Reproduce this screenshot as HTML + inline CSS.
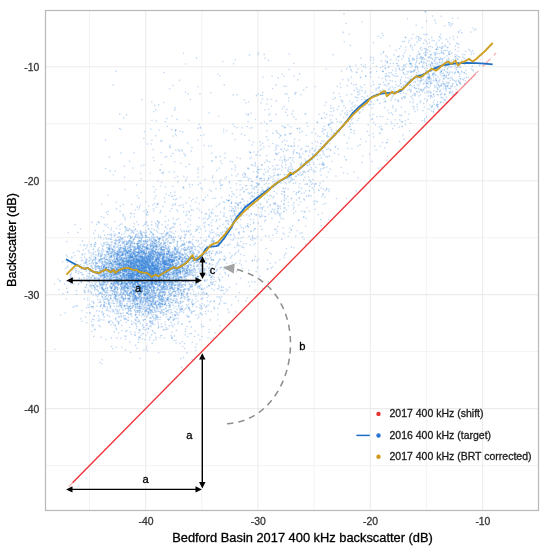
<!DOCTYPE html>
<html><head><meta charset="utf-8"><style>
html,body{margin:0;padding:0;background:#fff;}
svg{display:block;}
text{font-family:"Liberation Sans",Arial,sans-serif;stroke-width:.3px;}
</style></head><body>
<svg width="544" height="550" viewBox="0 0 544 550">
<rect width="544" height="550" fill="#fff"/>

<line x1="89.5" y1="10.5" x2="89.5" y2="510.5" stroke="#f3f3f3" stroke-width="1"/>
<line x1="45.5" y1="465.6" x2="538.5" y2="465.6" stroke="#f3f3f3" stroke-width="1"/>
<line x1="201.8" y1="10.5" x2="201.8" y2="510.5" stroke="#f3f3f3" stroke-width="1"/>
<line x1="45.5" y1="351.6" x2="538.5" y2="351.6" stroke="#f3f3f3" stroke-width="1"/>
<line x1="314.1" y1="10.5" x2="314.1" y2="510.5" stroke="#f3f3f3" stroke-width="1"/>
<line x1="45.5" y1="237.7" x2="538.5" y2="237.7" stroke="#f3f3f3" stroke-width="1"/>
<line x1="426.4" y1="10.5" x2="426.4" y2="510.5" stroke="#f3f3f3" stroke-width="1"/>
<line x1="45.5" y1="123.7" x2="538.5" y2="123.7" stroke="#f3f3f3" stroke-width="1"/>
<line x1="145.7" y1="10.5" x2="145.7" y2="510.5" stroke="#ececec" stroke-width="1.1"/>
<line x1="45.5" y1="408.6" x2="538.5" y2="408.6" stroke="#ececec" stroke-width="1.1"/>
<line x1="258.0" y1="10.5" x2="258.0" y2="510.5" stroke="#ececec" stroke-width="1.1"/>
<line x1="45.5" y1="294.6" x2="538.5" y2="294.6" stroke="#ececec" stroke-width="1.1"/>
<line x1="370.3" y1="10.5" x2="370.3" y2="510.5" stroke="#ececec" stroke-width="1.1"/>
<line x1="45.5" y1="180.7" x2="538.5" y2="180.7" stroke="#ececec" stroke-width="1.1"/>
<line x1="482.6" y1="10.5" x2="482.6" y2="510.5" stroke="#ececec" stroke-width="1.1"/>
<line x1="45.5" y1="66.7" x2="538.5" y2="66.7" stroke="#ececec" stroke-width="1.1"/>
<filter id="bl" x="0" y="0" width="1" height="1"><feGaussianBlur stdDeviation="0.35"/></filter><g fill="none" stroke="#2f7fd8" stroke-opacity="0.3" stroke-width="1.6" stroke-linecap="round" filter="url(#bl)"><path d="M425.2 11.6h0m-81.2 2.3h0m1.9 9.6h0m16.2-1.5h0m45.5-3.3h0m18.8 2.4h0m6-5h0m2.3 4.3h0m1.1 2.7h0m5.3-6.8h0m7.6 6.3h0m3.9-4.4h0m5.1 .1h0m18.2 10.8h0m-1.6 1.2h0m-1.2-2.3h0m-12.7 2.2h0m-8.3-5.7h0m-1.4 1.7h0m-1.4-1.3h0m-4.5 .8h0m-22.7 1.9h0m-5.9-2.3h0m-73 7.1h0m6.1 1.6h0m28.9 2.3h0m2.7 1.4h0m1.3-4.2h0m.9 2.1h0m22.2 1.8h0m6.3 1.2h0m1.5-4.3h0m3 3.7h0m1-1.8h0m1.3 3.7h0m2.4-1.7h0m3.1-3.7h0m1.9 0h0m2.9 4.7h0m3-1.8h0m8.3-.4h0m.8-2.7h0m.2 4.5h0m5.5 .6h0m3.5-1.6h0m3-1.5h0m.7 2.5h0m3.7-1.8h0m1.5-4.7h0m3 .6h0m9-.8h0m-12.7 15.5h0m-.7-3.8h0m-2.1 2.3h0m-5.5-2.2h0m-2-2.5h0m-.9 5.8h0m-1.8-1.9h0m-2 1.8h0m-1-3.8h0m-2.6 4.2h0m-.5-7.1h0m-1.5 7.1h0m-.6-4.7h0m-1 2h0m-1.9-4.1h0m-1.7 6.5h0m-.1-6.9h0m-2.7 2.5h0m-.9 3.9h0m-1.5-3.2h0m-1.2-2.2h0m-1.2-1.3h0m-1.3 3.4h0m-2.4 4h0m-4-5.1h0m-2.3 2.8h0m-2.5 2.8h0m-1.9-1.5h0m-1.1-6.2h0m-.7 2.1h0m-2.9 4.9h0m-3.1-5.7h0m-1.6 4.9h0m-11.3-.4h0m-16.3-3.4h0m-23.2 2.8h0m-5.9-3.6h0m-160.8 11.4h0m66 1.7h0m8.6-.4h0m6.1-.1h0m24.9-.3h0m44 .5h0m47.9-.3h0m2.4-1.7h0m2.3 3.2h0m8.4-.9h0m2.1-4.7h0m3.2-1.7h0m3.8 6.9h0m1.3-2.6h0m1.4-2.7h0m4.2 5.8h0m2.7-5.9h0m4.4 5h0m1.3-3.1h0m1.6 1.8h0m1.9-3.7h0m1.9 3.2h0m.5-4.7h0m.7 7h0m.7-3.4h0m.6-2.7h0m3.6 2h0m1.7 2.8h0m3-.2h0m1.3-1.8h0m.5-2.7h0m1.2 4h0m2 .2h0m1.6-2.8h0m.5 1.8h0m.3-4h0m1.2 5.4h0m2.1-3.6h0m1.6 5.4h0m2.1-1.8h0m.9-2.8h0m1.8 1.6h0m3.5-3.3h0m1.7 6.1h0m1.1-4.4h0m4.6 3.3h0m2.1 .2h0m.9-3.6h0m4.4-.4h0m1.1 3.7h0m.4-2.2h0m1.1-1.5h0m1.1 3h0m5.6 1.6h0m1.6 4.3h0m-7.3 2.8h0m-4-4.1h0m-.5 5.4h0m-2.1-2h0m-1.4-1.5h0m-2.7-2.9h0m-.5 6h0m-1-2.8h0m-1.9-3.3h0m-1.8 1.9h0m-.8 3.5h0m-1.1-4.1h0m-1.1-2.2h0m-.8 4.8h0m-.1 2.3h0m-.6-4h0m-1.7 3.4h0m-.3-2.3h0m-2.4 2.7h0m-.2-3.2h0m-1.9 .5h0m-1.6 1.5h0m-.7-4.3h0m-2.2 2.2h0m-.3 3.2h0m-1.1-4.9h0m-1.3 3.8h0m-.5-2.6h0m-1.1-1.8h0m-.3 5.7h0m-2.1-5.7h0m-.3 5.9h0m-.9-2.2h0m-1.8-2.3h0m-1 4h0m-.9-4.8h0m-1.3 3h0m-1.3-4h0m-.6 3.6h0m-1.4 3h0m-1-4.6h0m-1.7 3.9h0m-1.3-4.8h0m-.5 4h0m-.3-2.4h0m-.3-3.7h0m-1.1 1.8h0m-.1 4.5h0m-2.2-4.4h0m-.8 2.7h0m-2.3-1.3h0m-2-1.1h0m0 1.8h0m-2.8 3.5h0m-.1-2.8h0m-1.1-2.7h0m-6.6 1h0m-3.2 1.5h0m-.4-4.2h0m-1.2 7.2h0m-.8-4.3h0m-3 4h0m-2.5-3.7h0m-.6 3.8h0m-3.1-.7h0m0-6h0m-1.6 4.2h0m-4-.2h0m-7.8-1.1h0m-.5-2.3h0m-.1 5.7h0m-2.3-5.8h0m-.2 2.6h0m-9.7-1.9h0m-67.1 5.2h0m-25.4-2.9h0m-3.2-2.1h0m-30.1 1.5h0m-1.5 4h0m-10.8-2.6h0m-26.2-3.3h0m-80.6 13.5h0m69.6-7.4h0m103.6 5.6h0m37.1-.6h0m15.3 2h0m5.1-2.1h0m3.1-2.9h0m1.4 4.3h0m4.7-5.2h0m2.2 4h0m3.3-4.6h0m.8 6.6h0m1.3-4.7h0m1.8-1.4h0m.1 2.7h0m5 .9h0m.6 3.3h0m5.5-5.6h0m.2 5.2h0m3.8-3.8h0m2.4-1.2h0m.4 5.1h0m1.8-3.7h0m.2-2.7h0m2.9 2.4h0m4.3 2.6h0m3.4-1.1h0m.1 2.2h0m1.7-5.8h0m1.6 2.8h0m.9 2h0m2.2 .3h0m.8-4h0m.3 2.4h0m.3-4.1h0m1.5 2.1h0m1.2-3h0m.8 7.8h0m2.9-.7h0m.9-3.9h0m.1-2.4h0m1 6.6h0m2.1-1.1h0m.9-2.9h0m.1-3.3h0m1.5 2.2h0m.7 3.5h0m.3-1.8h0m.8 3.6h0m4-4.5h0m.2-1.8h0m2 3h0m1.2 2.8h0m.7-5.3h0m.4 2.4h0m.8 3.3h0m.9-7.3h0m1.4 1.6h0m.6 1.7h0m.2 3.5h0m1.9-5.8h0m0 3.7h0m2.8-2.5h0m.1 2.9h0m2.1-1.7h0m.8-2.5h0m1.2 4h0m.2-2.2h0m1.2 3.8h0m2.6-5.1h0m.7 4.4h0m1.3-4h0m1.1-1.6h0m.3 4.1h0m1.7-1.4h0m.9 4.7h0m1.5-4.8h0m1.2-2.2h0m2.3 1.4h0m.3 5.7h0m1.3-2h0m.2-2.5h0m3.1-1.7h0m.8 1.8h0m1.1 3.8h0m2.9-6.6h0m1.5 5.9h0m5.5-1.7h0m.7-2.8h0m1 4.7h0m6.2-5.2h0m-3.9 6.8h0m-7.2 5h0m-2.1 0h0m-.2-3.5h0m-1.8-1.4h0m-.9 7.2h0m-3-1.2h0m-.4-4.3h0m-.6 2.2h0m-1.3-4.3h0m-3.8 1.4h0m-1.9-1.1h0m-.5 4.8h0m-3.3-2.6h0m-.8 3.9h0m-.7-6.4h0m-.6 3.3h0m-.4 2h0m-1.4-2.2h0m-1.2 3h0m-1.5-4.8h0m-.4 2.3h0m-1.4-1.4h0m0-1.8h0m-.3 6.5h0m-1.8-2.1h0m-2-1.4h0m-.3 2.7h0m-1.5-5.9h0m-.8 4.8h0m-.2-3.1h0m-3.8 1.3h0m0 4.6h0m-.6-2.6h0m-1.1-3.2h0m-1.4 4.9h0m-3-4.1h0m-.2 2.1h0m-1.9-1h0m0 2.5h0m-2.5-3.6h0m-1.3 4h0m-.8-6h0m-.5 2h0m-1.3 2.1h0m-3.6-.6h0m-1.2 2.7h0m-2-1.1h0m-1.2-3.8h0m-1.1 3.3h0m-.8-3.3h0m-1.7-1.7h0m-1.8 4.6h0m-.9 2.4h0m-3.1-3.3h0m-1.8-2.5h0m-1.7 2.2h0m-1.4-1.3h0m-1.5-1.7h0m-1.7 4.1h0m-.3-4.3h0m-2.1 3.1h0m-.8-1.9h0m-.6 5.1h0m-.3-2.7h0m-3 2h0m-3.5-.8h0m-8-.8h0m-5.1-.8h0m-5.1 1.8h0m-4.1-5.7h0m-5.2 5h0m-8.5 2.6h0m-43.1-5.7h0m-1.9 6h0m-3.7-3.8h0m-10.2 .2h0m-2-2.1h0m-3.7 3.7h0m-6.1-1.8h0m-9.1 1.1h0m-43-1.2h0m-2.2-1.8h0m-54.1-1.7h0m-50.4 12.4h0m59.6 .7h0m6.6-5.4h0m18.7 6.5h0m26.1-1.8h0m51.7 0h0m8.3 1.5h0m2-.1h0m20.4 1.1h0m8.2-.9h0m22.5 0h0m2.9-2.8h0m.4 3.9h0m6.5-2h0m1.1-4.9h0m3.2 2.7h0m2.2 1.5h0m2.5-.3h0m4.3 1.9h0m1.5 1.2h0m2.8-2.9h0m6.6 1h0m1.6-4.2h0m.8 2.8h0m5.2 3.5h0m1.4-3.6h0m3.2-2.1h0m.6 2.6h0m2-4.1h0m1 5.3h0m.8-2.1h0m2.2-3.4h0m0 6.6h0m2.1-6.2h0m.2 6.1h0m2.7 .6h0m.4-6.1h0m.5 3.3h0m1.8 1.4h0m2.6-3h0m.6 4h0m2.4-2.1h0m1.4 2.2h0m1-5.1h0m1 3.1h0m1.3-2.1h0m2.5-.9h0m.1 2.4h0m1.4 1.5h0m1.7-4.2h0m.3 3.5h0m3.1-.9h0m.6-3.8h0m.6 5.1h0m1.4-1.9h0m.6-1.9h0m1.2-1.7h0m1.8 3.7h0m3 2.6h0m.4-5.4h0m.3 2.2h0m1.9 4.3h0m1-1.8h0m.1-4.1h0m.6 1.7h0m.9-3.5h0m1.8 .1h0m1 5h0m1.3 1.5h0m.9-5.9h0m.5 1.9h0m1.3 2.4h0m.8 2h0m.4-6.2h0m1.6 5.1h0m1.5-4.4h0m.4 1.8h0m.2 3.3h0m1.7-2.6h0m1.8-2.1h0m.1 4.4h0m1.7-4h0m1.6-2.2h0m.6 6.6h0m1.6-2.2h0m.8-4.5h0m1.6 6.7h0m1.5-6.5h0m.8 5.3h0m1.5-5.2h0m1 2.1h0m1 1.6h0m4.1-.5h0m.5-2.9h0m-9.1 8.9h0m-.1 2.8h0m-2.6 1.8h0m-1-3h0m-.7 1.7h0m-1.3-1.2h0m-.7-3.2h0m-.5 4.5h0m-2.9-4.1h0m-.3 2.3h0m-1.1 3.4h0m-1.5-5.6h0m-2.2 5.5h0m-1.7-2.7h0m-1.7-3.2h0m-.5 5.9h0m-.4-3.3h0m-3.2-.5h0m-.3 3.8h0m-2.4-1.6h0m-.5 3h0m-.6-4.6h0m-1.5 4.6h0m-.3-3.1h0m-3.3-.1h0m-1.5-3.4h0m-.9 2.3h0m-1.2-2h0m-.7 5.2h0m-1.2-2.7h0m-.8-3.2h0m-1.3 3h0m-1.7-3.4h0m-.7 7.2h0m-.8-2.5h0m-1.3 2.1h0m-1.7-3.6h0m-.1-2h0m-3.2 .3h0m-1.9 3.9h0m-2.7-.9h0m0-4.7h0m-2.5 1.7h0m-.2 3.5h0m-3.8-2h0m-1.8 2.1h0m-.3-2.6h0m-1-1.8h0m-.4 5.8h0m-2.1-4.4h0m-2.6-1h0m-5.2 3.2h0m-.7-3.2h0m-2.3 1.4h0m-3.7 2.9h0m-.4-5.7h0m-.2 1.9h0m-1.4 5.7h0m-2.5-3.2h0m-6.4-1.6h0m-.6 1.9h0m-3.1-2.1h0m-2.1-.8h0m-.2 4.2h0m-1.9-2.3h0m-.4-2.4h0m-1.1-1.5h0m-1.9 2.4h0m-2.8 4.1h0m-4.8 .5h0m-7.5-1.5h0m-5.7-.6h0m-29.8-3h0m-2.8 4.8h0m-5-2.1h0m-1 1.6h0m-8-.3h0m-1.8-.1h0m-12.7-5.3h0m-9.7 4h0m-.4 2.7h0m-1.9 .1h0m-2.5-1h0m-1.6 1.3h0m-19.4-.8h0m-3.7 .1h0m-22.5-2.2h0m-10.8 1.2h0m-11.7 .2h0m-2.9-1.9h0m-15.8-3.5h0m-27.8 10.9h0m10 2.4h0m11.9 .5h0m26.7-3h0m53.9 .3h0m1.6 3h0m2.7-.8h0m12.4 1h0m1.4-4h0m5 .4h0m3.6-.1h0m5.4 1.6h0m12.4 .1h0m0-3h0m37 4.4h0m7.6-3.1h0m1.9-1.4h0m5-1.2h0m2.4 4.4h0m7.1 .4h0m2.1 2.4h0m1-1.7h0m3.6-4.6h0m.6 3h0m1.2-2.7h0m3.5 1.7h0m.5-3.1h0m1.6 5.7h0m.3-4.4h0m.8 2h0m2.2 3.2h0m.3-6.9h0m2.9 1.8h0m.5 3.4h0m1-4.5h0m5.2 3.3h0m2.8 3.3h0m4.3-4.6h0m1.5 3h0m5.1-1.3h0m.9-1.9h0m3.7 .8h0m2 .6h0m1 1.6h0m3.7-2.8h0m2.8-1.7h0m5.1 4.6h0m1-5.5h0m1.1 1.4h0m1.1 4.8h0m0-2.9h0m5.6-3.5h0m1.6 4.9h0m3.3 2.7h0m.8-4.9h0m2.4 2.4h0m3.3-3.1h0m2.1-.8h0m.9 5.4h0m1.1-6.5h0m.1 4.1h0m3.1 1.7h0m3.4 0h0m.2-4.7h0m1.9 .9h0m.7 4.5h0m1.1-2.3h0m2.1-3h0m0 4.6h0m-8.1 7.5h0m-1.2-4.7h0m0 2h0m-3.2-2.4h0m-.3 4.4h0m-1.8-3h0m-.6 1.8h0m-.2 3.4h0m-1.8-5.7h0m-1.8 3.6h0m-3.6-1.8h0m-1.4 3.7h0m-5.1-1h0m-.5-2.8h0m-.2-2.5h0m-2.1 7.2h0m-1-2.5h0m-1.1-2.9h0m-7.7 5.7h0m-3.9-4.6h0m-5.3 2.1h0m-.5 1.7h0m-2.5-5.2h0m-.4 1.8h0m-4.8 2.5h0m-3.3-2.6h0m-10.9-3.3h0m-1.5 3.6h0m-1.2-3.2h0m-2.4 .3h0m-3.1 .2h0m-1.7 2h0m-.6 2.3h0m-4.6 1.4h0m-.8-4.9h0m-1.9 3.6h0m-.7-4.2h0m-.1 6.3h0m-.3-4.5h0m-1.7-.7h0m-1 3.5h0m-1-1.9h0m-1 3.3h0m-2.8-.7h0m-1.6-2.7h0m-1.7-2.1h0m-1.7 4.9h0m-3.2-4.3h0m-1.6 2.9h0m-3.5 1.5h0m-.4-2.7h0m-2.5 3.4h0m-.1-3.4h0m-.3-2.1h0m-5.7-.6h0m-31.7 5.5h0m-6.3-1.4h0m-2.7-3h0m-1.6 1.9h0m-11-2.3h0m-3 3h0m-1.8-5.2h0m-1.8 6h0m-89.9-2.1h0m-.5 2h0m-16-5h0m-2.9 5h0m-.9-4.5h0m-1 6.3h0m-34 2.2h0m3.9 4.2h0m2.8-3.2h0m40.3 3.7h0m5.5-2.6h0m4.8 3.4h0m32-6.7h0m9.7 3.6h0m27.4-2.3h0m1.7 1.3h0m3.2-2.1h0m4.5 6.3h0m14.3-5.8h0m6.2 .9h0m9.7-2.3h0m1.7 3.2h0m4.5-1.6h0m1.9 2.8h0m2.1 2.6h0m9.2-5.5h0m13.9 .4h0m2.5 4.2h0m2.7-5.3h0m.8 5h0m1.6-3.7h0m3.2 1.1h0m1 4.3h0m1.6-4.6h0m3.8 3.9h0m4.3-4.5h0m3.2 2.9h0m1-4.1h0m1.9 1.4h0m.5-2.2h0m3.8 3.1h0m.5 4h0m1.1-1.4h0m1.8-4.3h0m4.5 4.2h0m1.1-6h0m9.8 3h0m2.9 3.6h0m.2-4.4h0m3.9 2.3h0m3.5-.1h0m2.5 .1h0m4.9 2.6h0m1.3-6.2h0m2.5-.2h0m1.2 1.8h0m2.5 5.1h0m4.6 .1h0m.2-4.5h0m8.2 3.9h0m.7-5.2h0m15.9 4.4h0m1.7-1.6h0m6.8-4.9h0m-8.5 9.6h0m-2.7-.9h0m-11.7 2.5h0m-4.8 1.4h0m0-3.8h0m-3.7 6h0m-.3-5.2h0m-2.5 5.5h0m-1.9-3.4h0m-2.8 1.7h0m-2.5-1.8h0m-.7-1.8h0m-4.8 2.2h0m-5.1 2.2h0m-1.8 .9h0m-4.1-2.4h0m-1.8-2.3h0m-5.4 2.7h0m-10.6-4.9h0m-5 3h0m-2.5 .7h0m-1.1 3.1h0m-.6-5.4h0m-5.4 4.8h0m-1.5-4.5h0m-4.1-.2h0m-4.5 .8h0m-1.9-.8h0m-.6 6h0m-.4-3.8h0m-1.7 1.1h0m-3.9 1.2h0m-7.1-3.9h0m-9.7 4h0m-.9-3.3h0m-16 3.7h0m-2.7-2h0m-3 3.2h0m-1.3-1.2h0m-1.6-.9h0m-12.4-5.1h0m-2.9 3.2h0m-2.3-1.8h0m-3.3 1.2h0m-9.2 4.5h0m-3.9-6h0m-.8 4.7h0m-5.3 1.2h0m-5.1-.1h0m-2.5-1h0m-1.4-2.3h0m-32.8 3h0m-.9-3h0m-10.5-4h0m-21.6 6.2h0m-1.9-4.8h0m-9.2-.6h0m-4.1-.9h0m-32.5 8.4h0m24.9 3h0m6.4-2.6h0m5 6.8h0m3.4-5.8h0m12.5-.6h0m3.7 1.1h0m.1 3.6h0m.8 1.6h0m3.6-4.5h0m2.7 .7h0m15.5-3.5h0m2.7 7.1h0m2.9-.5h0m20-5.8h0m.1 2.8h0m3-1.2h0m5.5 2.9h0m9.2 .3h0m3.2 1.2h0m5.3-7.2h0m17 2.7h0m5.9 2.7h0m3.1-2.9h0m1 1.6h0m3.7 3.2h0m4.7-.3h0m4.3-1.3h0m2-.4h0m5.7-4.8h0m2.3-.5h0m.2 4.6h0m2.2-1h0m4.2 3.6h0m5.7-2.6h0m2-3.6h0m1.7 4.6h0m6.2-1.9h0m.7-3.1h0m1.3 5.5h0m.3-4.5h0m3.2 3.4h0m3.8 1.7h0m.2-5.2h0m.5 2h0m1.9 1.5h0m2.6-2.6h0m2.6-1h0m.4 2.5h0m4.8 3h0m6.8-2.4h0m.1-2.7h0m3.1 3.8h0m0-2.8h0m13.3 .6h0m1.6 3.8h0m4.2-1.7h0m5.9-.3h0m1.7-4.5h0m11.7-.1h0m10.6 6.3h0m6.3-4.1h0m-5.5 8.6h0m-4.5 2.1h0m-11.6-1.7h0m-.8 3h0m-4.5-.3h0m-9.2-5.4h0m-7.5 4.4h0m-5-2.4h0m-11.8-1h0m-2 5h0m-17.4 .6h0m-1-7.1h0m-1.5 7.1h0m-.5-7.6h0m-1.4 7.8h0m-1.5-2.8h0m-1.9-.1h0m-1.2 2.4h0m-.7-6.7h0m-2.2 5.6h0m0-6.2h0m-2.2 5.1h0m-3.4 2.1h0m-12.8-3.1h0m-4.9-1.1h0m-.4 3.6h0m-7.3-1.7h0m-2.6-.9h0m-1.7 1.8h0m-3.1-4.4h0m-6.6 6h0m-5-3.4h0m-1.3-3.2h0m-3.9 6.5h0m-2.6-1.5h0m-6.8 .4h0m-3.8-2.1h0m-14.3-.6h0m-37.1 .7h0m-10.4 2.6h0m-14.7-6.8h0m-11.1 5.3h0m-9.9-1.1h0m-8-1.8h0m-38.5 1.6h0m42.1 4h0m3.7-.1h0m1.9 5.5h0m16.4-2.7h0m6.3 3.2h0m2.8-.1h0m3.3-.1h0m9.3 1.3h0m.8-3.6h0m12.2-2.2h0m4.4 1h0m2.6-.2h0m38.5 5.7h0m2.3-6.8h0m5.7 6.8h0m2.4-1.8h0m.5-4.6h0m1.4 3.6h0m1.9-2h0m5-.7h0m6.3 3.8h0m.6-3.2h0m.7-1.9h0m.1 3.8h0m1.6-2.9h0m3.6 3.6h0m1.4 2.1h0m1.3-2.9h0m.8-4h0m1 5.8h0m1.6-.8h0m.1-4h0m2.8 .4h0m2.8 5.1h0m1-6h0m3.6 .8h0m3.6 2.4h0m3.8 3.5h0m.4-5.7h0m2.1 .2h0m1.9 3.9h0m2.4-2.3h0m2.1 3.3h0m1.3-2.3h0m.7-2.7h0m2.4 2.9h0m1.3-2.7h0m2.4 .3h0m2.3 .8h0m2.1 1.8h0m1.6-.8h0m1.9 1.1h0m4.6-2.6h0m2.8 1.8h0m10.1-.4h0m4 .1h0m6-2.5h0m2.1-1.3h0m14.6 1.5h0m1.4 3.8h0m4.2-3.9h0m4.7 1.6h0m2.3 8.4h0m-17.7-1.9h0m-6.9 1.5h0m-18.2 .9h0m-5.9-2.1h0m-4.1-1.4h0m-5.1 2.9h0m-3.3 .5h0m-3-4.5h0m-.1 1.9h0m-1.6 3.9h0m-1.3-2.5h0m-2.5 4.2h0m-.5-4h0m-4.4-.7h0m-.5 5h0m-2.2-.4h0m-.6-7.4h0m-.6 4h0m-3.8 2.9h0m-2.2-5.2h0m-1.7 3.9h0m-1.4-3.1h0m-.4 3.2h0m-2.2-4.9h0m-4 .8h0m-.1 4.2h0m-2.3-.2h0m-2.4 2h0m-3.5-1.8h0m-.1 2h0m-.7-3.9h0m-3.2 1.3h0m-2-4.3h0m-2.7 .7h0m-1.6 5.8h0m-7.9-4h0m-6.4-.1h0m-3.1-.7h0m-3-2.7h0m-2.5 5.2h0m-1.6 1.4h0m-9.8 0h0m-3.3-.9h0m-11.8 0h0m0-4.4h0m-5.2 3.1h0m-4 .9h0m-4.2-4.1h0m-26.5 2.6h0m-1.3-2.3h0m-11.1 0h0m-1.7 2.7h0m-6 1h0m-4-4.4h0m-7.7 4.7h0m-19.4-4.8h0m-13 .4h0m-11.6 3.8h0m15.1 9.2h0m5-4.9h0m11.8 4.5h0m2.6-.8h0m10.4-4.1h0m7.1 4h0m13.5-3h0m5.8 1.4h0m5.3 3.6h0m3.2-2.4h0m14.1 2.4h0m8.7-5.8h0m8.6 .1h0m1.4 2.4h0m8.5-2.2h0m2 .7h0m2.4 3h0m.6 2.1h0m17.2-1.7h0m2.4 .5h0m.1-3.4h0m2.3 4.4h0m4.5-2h0m2.9-2.4h0m1.5-2.4h0m1.2 1.3h0m.6 5.6h0m1.7-5.1h0m3 4.1h0m3.6-.8h0m1.8 .1h0m1.6-5.3h0m2 5.3h0m.3 1.8h0m0-6.8h0m.2 2.2h0m2.9-.8h0m.1 6.2h0m.4-3.1h0m4.1 1.9h0m.8-3.3h0m.5 1.9h0m.7 1.7h0m.6-6.7h0m1.4 2h0m6.4 3h0m1.2-2.4h0m2.6 1.3h0m3-3.1h0m.9 4.4h0m1.5-2.9h0m.1 2h0m1.7 3.1h0m2-4.9h0m.5 1.7h0m2.1 3h0m3.5-3.3h0m2.1 .1h0m1.3-1.2h0m1 2.1h0m.8 2.4h0m2.3-.5h0m5.4-5.9h0m9 6.3h0m4.8-7.5h0m15.9 2.6h0m10.2-1.1h0m9.1 5.8h0m5.6-6.9h0m-8.1 7.9h0m-24.5 3.7h0m-6.8 1.5h0m-3.9-.7h0m-13.4-3.7h0m-1.9 3h0m-5.3-3.5h0m-2 6.5h0m-.3-6h0m-.5 2.1h0m-4.6 .3h0m-2.1-.9h0m-4.2-1h0m-1.8 1.7h0m-2.1 1.2h0m-1.3-1.2h0m-2.2 3.2h0m-1.7-1.6h0m-1.5 2h0m-.2-4.1h0m-2.7 1.7h0m-2.8-1.3h0m-.9-2.2h0m-1.6 4h0m-.4-3.6h0m-1.4 2h0m-.7-1.7h0m-1.1 5.2h0m-2.9-.4h0m-2.3-4.3h0m-1.4 4.2h0m-.8-5.4h0m-1.2 5.2h0m-.7-4.8h0m-2.4 .5h0m-.4 5.4h0m-.8-2.3h0m-.7-3.3h0m-3.5-.9h0m-.5 7h0m-1.4-5.2h0m-2.3 1.4h0m-1.1-2.8h0m-.8 4.6h0m-2.7-4.4h0m-2.3 0h0m-.7 3.9h0m-1.1-1.9h0m-3.5 .3h0m-5.4-3.4h0m-2.7 5.4h0m-2.8 1h0m-4.7-.5h0m-2.6-4.4h0m-3.4-.7h0m0 6.1h0m-12.7-7.1h0m-2.4 2.3h0m-18.6-.7h0m-.2 3.3h0m-23.6-1h0m-5.2 .1h0m-7.3 1h0m-1.7-3h0m-9.9 3.1h0m-9.7 0h0m-7.7-5.2h0m-17.5 3.2h0m-2 3.5h0m-3.2-3.8h0m-4.7-2.3h0m19.3 8.8h0m16.5 1.4h0m17 2.3h0m3.4 1.2h0m13.3-4.6h0m2.7-1.3h0m.5 5.5h0m5.8-5.5h0m2 4.8h0m.2-1.9h0m1.3-2.1h0m10.7-.2h0m2.1 6.4h0m4.9-4.1h0m7.4-1.5h0m.3-1.8h0m.9 6h0m6.2 1.3h0m1.1-3.5h0m4.2-1.2h0m1.3-1.5h0m3 5.6h0m6.9-6.7h0m0 7.8h0m2.6-3h0m2 .1h0m3.8-3.9h0m2.3 .2h0m1.5 1.3h0m2 .3h0m2 3h0m4.5-5.5h0m.1 6.9h0m1.9 .7h0m.8-4.5h0m1.6-.9h0m.5 2.4h0m2.2-2.2h0m2.1 4.5h0m1.1-2.6h0m1.2-2h0m.4 5.1h0m1.7-6.4h0m2 4.4h0m.8-2.6h0m.8 4.8h0m.5-2.7h0m1.9-.2h0m1.5-1.7h0m2 1.3h0m.9 2.8h0m1.8-3.8h0m1.3-1.5h0m.8 4.4h0m1.3 1.2h0m.7-5.5h0m2.1 4.2h0m.9-5.2h0m1.8 1.7h0m1.6 4.6h0m.7-3.9h0m1.4-3.2h0m.1 6.5h0m4.1 .8h0m4-3.7h0m1.4-2.8h0m3.6-.4h0m.6 3.3h0m1.6 1.2h0m1.6 2.3h0m.4-4.1h0m2.9 4.1h0m4.3-.7h0m3.2-1.7h0m3.8-4.2h0m8.9-.9h0m22.1 1.8h0m-1.8 13h0m-27.3 .7h0m-.1-2h0m-2.1-1.1h0m-1.2 1.9h0m-2.2-1.1h0m-2.3-1.2h0m-1.8-2.5h0m-.4 4.5h0m-4.5-3.6h0m-.8 2.8h0m-1.4-1.5h0m-2.5 3.4h0m0-4.8h0m-2.6-2.2h0m-1.3 6.6h0m-.7-6.5h0m-3.6 4.1h0m-2.6-1.4h0m-.4 4.6h0m-4.5 .2h0m-5.9-2.8h0m-2.3-.8h0m-1.8 0h0m-2.1 3.1h0m-7.6 .2h0m-.7-3.7h0m-5.8-.4h0m-2.7 3.6h0m-.8-6.6h0m-1.6 6.8h0m-.8-3.9h0m-3.9 2.8h0m-.9-4.7h0m-2.2 1.7h0m-.6 2.2h0m-2.2-.5h0m-.8-3.4h0m-4.1 3.8h0m-.5-3.6h0m-2.5 5.8h0m-2.1-2.3h0m-1.9 .8h0m-.1-5.1h0m-3.4 5h0m-4.7 2h0m-1.3-4.1h0m-10-2.6h0m-.3 3.5h0m-4.4 .2h0m-4.6 2.5h0m-1.6-1.4h0m-7.5-.8h0m-1.4-1.1h0m-2.5-3.4h0m-6.1 .2h0m-2.4 2.2h0m-.5-2.6h0m-5.7 2.4h0m-10.9-.6h0m-7.2 .6h0m-5.2-1.1h0m-4.7 3.8h0m-2.1-2.7h0m-17.1-1.7h0m-11.4 4.5h0m-17.1 5.7h0m29.3 .4h0m1.4 2.4h0m2.4-5.1h0m13.1-1h0m.4 6.6h0m1.3-2.7h0m8.6 2.3h0m1.8-4.2h0m2.9 1.3h0m1.6-2.6h0m2 3.7h0m.7 2.8h0m1.4-4h0m0-3.1h0m1.7 6.6h0m4-1.5h0m8.8 .5h0m3.6 1.5h0m3.7-1.2h0m6.5 1.9h0m2.2-2.7h0m2.3-2h0m5.4 3.3h0m2.4-.3h0m6.1-.6h0m7.7-2.2h0m2.4 1.1h0m1.3-2.7h0m3.7 3.1h0m3.3-2h0m2.1 4h0m7.2-5h0m1.1 4.7h0m1.2-2.4h0m0-3.8h0m2.6 4.2h0m.4-3.3h0m2 4h0m1-4.7h0m.7 2.3h0m1.9 3.3h0m1.1-4.8h0m.9 2.6h0m2.3 2.6h0m.8-4.9h0m1.9 1.5h0m1.4 4.1h0m1.2-3.5h0m3.2 1.9h0m3.8-4.2h0m5 .6h0m2.3 3.5h0m.3-4.8h0m.2 2.9h0m1.6 2.9h0m1.6-2.2h0m4 1.9h0m4.3-3.9h0m.6-1.8h0m2.5 6h0m2.3-5.4h0m2.3 5.8h0m.3-6h0m2.4 2.9h0m2.5-.7h0m2.2 .7h0m3.1-3.8h0m7.8 4.1h0m1.1-1.8h0m1.7 2.7h0m11.7 1.5h0m9.8 0h0m-20.5 4.7h0m-2.2 1h0m-6.4-2.4h0m-2.9 2.1h0m-.4-2.6h0m-6.8 6.3h0m-6.6-5.5h0m-1.9 2.6h0m-2.2-4.8h0m-2.5 7.4h0m-.1-4.5h0m-1.1 2.1h0m-4.4 .8h0m-.2-3.8h0m-3.8-1.3h0m-.3 3.9h0m-2.7-3.4h0m-.9 5.1h0m-3 0h0m-2.6-2.1h0m-1.3-1.4h0m-3.3 1.7h0m-2.4 2.5h0m-.7-5.7h0m-4.7 6.3h0m-2 .3h0m-.4-3.2h0m-1.5 3h0m-.7-7.2h0m-1.6 5h0m-2.2-1.4h0m-1.2 2.2h0m-5.4-4.7h0m-.1 2.5h0m-2.4 2.3h0m-.8-5.2h0m-.4 3.5h0m-2.4 2.4h0m-.6-4.3h0m-2 .3h0m-.8 2h0m-2.6-2.1h0m-.7 3.5h0m-2.9 .2h0m-.1-4.6h0m-1.7-2.1h0m-.2 6.3h0m-2.3-5.6h0m-2.8 1.5h0m-5 1.4h0m-3.4 2.8h0m-17-2.6h0m-3.6-1.5h0m-4.2-1.3h0m-1 5.1h0m-4.2-3h0m-2.8 4.2h0m-.3-2.5h0m-2.4 .5h0m-2 .4h0m-3.6-.9h0m-1.9-.6h0m-8.6-2.3h0m-1.8 4.7h0m-5.9-2.3h0m-.8 3h0m-1.8-3.7h0m-1.5 1.5h0m-4.2 1.1h0m-2.8-4.4h0m-5.6 3.5h0m-.9 1.8h0m-2-.2h0m-5.8-2.4h0m-8.3 0h0m-3 1.5h0m-4.1-3.8h0m-14.7 2h0m4.9 8.2h0m1.5 2.1h0m.3-3.3h0m8.3-2.3h0m3.6 2.5h0m3.2 4.5h0m8.2-2.2h0m2.6 .1h0m1.4-4h0m3.2-.5h0m5.3 2h0m2.2-1.4h0m.2 3.7h0m1.1-1.8h0m.5 2.9h0m5.5-5.7h0m.4 2h0m6.1 1.8h0m.6-1.9h0m9.7 .3h0m1.3-2.7h0m5.3 1.5h0m6.8 2h0m2.7-.2h0m.6 2.7h0m2.1-2h0m1.6 3.2h0m2.3-5.6h0m4.4-1.7h0m2.1 1.9h0m2.1 1.9h0m3.7 1.5h0m3.8-3.9h0m.1 5.3h0m2.1-3h0m1.5-2.7h0m.1 3.8h0m2.6 2.7h0m2 0h0m3-3.8h0m3.5 3.2h0m.1-6.2h0m0 4h0m5.3-2.4h0m2.2 .2h0m1.8-2h0m.7 6.4h0m.1-4.7h0m.5 3h0m1.1-4.7h0m2.3-.8h0m1.3 4.6h0m3.9 2.9h0m3.2-.9h0m1.9-5.2h0m.7 6.4h0m2-1.4h0m3.5-.4h0m2 .8h0m2.7 .1h0m2-2.8h0m.7-2.7h0m3.1 1.6h0m3.7 3.2h0m2.4-3.1h0m1.2-2h0m1.3 2h0m1-1.6h0m1.1 4.7h0m1.4-1.9h0m.9-3.4h0m.8 4.5h0m1.5-5h0m.5 5.1h0m2.8-2.1h0m1.5-3.5h0m1.4 2.1h0m6.9-1h0m.2 4.1h0m1.9-1.7h0m6.2-.4h0m3.2 .8h0m4.3-.6h0m5.8-2.1h0m3.3 5.6h0m3.8-1.6h0m6.6 6.6h0m-7.9-.2h0m-14.6-1.4h0m-2.6-.7h0m-5.5 3.1h0m-14.8-1.5h0m-2.4-.7h0m-.9-2.4h0m-.7 6.1h0m-7.4-3.5h0m-6.4-2h0m-1.1 4.6h0m-2.2-5.1h0m-2.3 .6h0m-1.9 6.4h0m-4.3-.8h0m-.4-2.6h0m-3-.2h0m-2.5 4.3h0m-6.9-7.7h0m-.4 3.5h0m-2.6-.9h0m-.9 3.5h0m-1-3.9h0m-2.1 5.2h0m-.5-2.5h0m-1.1-5h0m-.3 6.4h0m-.3-2.4h0m-.8-1.6h0m-.6-2.3h0m-2.7 7.5h0m0-3.4h0m-1.6-3h0m-.2 3.9h0m-6.2-1.7h0m-3 .5h0m-.6 1.7h0m-3.4-1.7h0m-1.7 2.6h0m-.5-5.5h0m-1.8 .9h0m-1.1 1.5h0m-2.4-1.2h0m-.1 4.2h0m-2-3.7h0m-4-.8h0m-8.6 2.2h0m-1.9-1.3h0m-3.2 3.5h0m-7.2-3.7h0m-1.6 1.1h0m-1.5 3.7h0m-1.8-4.8h0m-4.7 1.8h0m-3.1-4.2h0m-.4 5.3h0m-6.5 2.2h0m-.9-2.8h0m-2.1 2.4h0m-3.8-1.7h0m-5 .9h0m-1.3 1.3h0m-8.9-2.1h0m-2.2-5h0m-.4 7h0m-3.4-6.4h0m-5.3 2.1h0m-.4-1.8h0m-10.2 4h0m-10.8-4h0m-2.5-.9h0m-3 6.1h0m-6.5-.4h0m-16.8 2.2h0m5.4 4.4h0m14.9 1.5h0m1.3-6.1h0m7 6.6h0m.8-6.6h0m1.4 1.4h0m1.2-1.5h0m1 3.2h0m3 2.5h0m.3-1.8h0m2.1 3.6h0m3-3.6h0m2.7-2.6h0m.8 3.4h0m.6-4.7h0m4.5 2.5h0m.4 5.1h0m.3-2.1h0m2.3 .9h0m1.3-2.2h0m2.3 2.2h0m2.1-4.2h0m1.7 2.8h0m1.8 2h0m.8-6.8h0m2.4 6.4h0m2.8-5.2h0m2.6 4.8h0m1.1-5.5h0m1.4 4h0m2.1 2.4h0m1.1-6.5h0m.2 3.6h0m2.5 1.4h0m1.7-4.8h0m1.7 1.3h0m.9 2.3h0m3.5-4h0m2.4 6.4h0m1.3-4.6h0m1.2 2.2h0m1-4h0m1.8 4.1h0m.6 2.4h0m.9-3.4h0m2.6-.4h0m1.7 3.9h0m4.7-6.8h0m.5 4.7h0m.7 2.4h0m2.4-.8h0m2.6 .8h0m1.4-5h0m.7 4.5h0m1.7-.9h0m.1-5.4h0m5.5 5.3h0m1.3-3.8h0m1.1 1.6h0m1.3-1.3h0m.9 2.4h0m4-3.1h0m.4 1.8h0m.6 3.2h0m2.9-6.2h0m1.3 6.5h0m2-5.5h0m.2 4.2h0m5.6-1.8h0m1.9-1.8h0m3.6-1.9h0m2 6.8h0m.2-3.9h0m1.5 2.8h0m.5-1.7h0m1.8 1.5h0m3.4-3.9h0m.1 2.1h0m2.8 1.6h0m1.6-.9h0m3.3-3.5h0m1.2 2.1h0m2.1 1h0m2-1.7h0m1.8-.9h0m3-1h0m.5 6.7h0m2.9-1h0m1.4-1.7h0m5.7-2.6h0m1.3 3.2h0m13.8-.3h0m1.3 2.1h0m.6-4.9h0m5.2 1.5h0m6.9 .1h0m1 2.4h0m1.8-4.4h0m4.5 4.9h0m8.4-4.5h0m15.7-.6h0m-17.3 13.4h0m-1.4-2.1h0m-.5-4.1h0m-2 .4h0m-4.5 2.8h0m-6-3.8h0m-1.3 3.9h0m-3.9-1.9h0m-1.4-1.2h0m-1.3 6.3h0m-5.1-6.2h0m-3.6 1.9h0m-4.1 1.1h0m-3.3-.3h0m-8.2 .6h0m-1.6 2.3h0m-3.1-3.2h0m-.2 3h0m-2 1h0m-1.5-3.2h0m-4.8-4.4h0m-1.1 5.1h0m-2 1.1h0m-2.7-5.1h0m-.1 5.3h0m-3.3-.2h0m-.5-2.3h0m-.8-1.8h0m-2.8 5.7h0m-.3-5h0m-1.8 .4h0m-2.8-1.4h0m-.5 3h0m-1.1 2.1h0m0-3.5h0m-2.2-2.7h0m-.2 1.8h0m-2.2 5.2h0m-1.5-5.1h0m-2.3-.8h0m-2.1 3.1h0m-.1-4.7h0m-1.6 6.5h0m-1.7-5.7h0m-1.3 1.7h0m-.7 1.7h0m-1.9 3.2h0m-6-1.8h0m-1.4-5.3h0m-6 4.1h0m-.4 3.1h0m-2.3-4.8h0m-5.3-.4h0m-.3 2.9h0m-4.2 .7h0m-2-2.1h0m-3.4 1.1h0m-1.5 2.5h0m0-6h0m-.5 4h0m-1.6-5.2h0m-.6 4.2h0m-1.1 1.4h0m-.9-3.1h0m-.3-2.7h0m-1.6 6.8h0m-.1-5.1h0m-1.8 2h0m-2.1-2.5h0m-.2 4.2h0m-1.3-1.3h0m-1.5-2.6h0m-.1 5.1h0m-1.8-.6h0m-.6-6h0m-2.4 5.1h0m-1.7-2.3h0m-.3 3.1h0m-1.1-4.4h0m-.7 2.8h0m-1.4 2.8h0m-.5-5h0m-.9 3.2h0m-1.5 2h0m-.9-7.1h0m-.2 4.2h0m-2.9-4.4h0m-1.2 5.5h0m0-1.9h0m-.5 4.1h0m-.8-6.3h0m-2-.6h0m-.1 5h0m-1.4-1.9h0m-1.2-1.6h0m-1.6 3.2h0m-.7-4.5h0m-.2 6.2h0m-1.1-2.8h0m-1.2-3.7h0m-.2 5h0m-2.1-1.7h0m-3.8 .4h0m-1-2.8h0m-1.7 4.4h0m-.8-3.7h0m-1 2.5h0m-.3 1.9h0m-1.5-5.4h0m-.1 6.4h0m-.6-2.6h0m-2.3 1.7h0m-1-5.3h0m-.6 2.2h0m-2.7 1.6h0m-.8 1.9h0m-.2-5h0m-1.8 4.5h0m-.8-4.4h0m-2 3.3h0m-1.4-2.7h0m-.8 3.9h0m-3.2-2.3h0m-1.7-1.5h0m-.2 2.2h0m-3.9 .8h0m-1.1-4.8h0m-15.7-.9h0m-9.5 0h0m-1.6 9.1h0m13.5 3.5h0m2.1-4h0m1.3 4.1h0m3.2 1.5h0m4.2-2.1h0m.2 2.1h0m2.8-.5h0m1.6-3.6h0m3.5 5.1h0m2-3.6h0m1.3 2.3h0m1.9-2.9h0m1.7-1h0m.6 5.1h0m.5-3.2h0m1.7 2.6h0m1.1-1.7h0m1.2 2.1h0m1-5.3h0m1.3 4.3h0m1.1-6h0m.1 7.5h0m.4-4.8h0m1.6-1.8h0m.3 5.9h0m1-3.2h0m1.2-1.6h0m.6 5.1h0m.7-2.1h0m1.1 2.4h0m.2-6.5h0m1.5 5.2h0m1-2.5h0m.6-3.7h0m.1 7h0m1.6-6.1h0m.6 2h0m.6 3h0m1.8-5.6h0m.7 6.1h0m.4-1.8h0m1.1-2.2h0m.3 4.2h0m1.1-5.5h0m1.3 1.9h0m.7 3.7h0m2.5-3.4h0m0-2h0m.9 4.9h0m.4-6.2h0m.4 1.9h0m.9 4.9h0m.6-2.1h0m1.5-1.4h0m.9 2h0m.4-3.6h0m.5 1.8h0m.5 3.2h0m2-.5h0m.1-4.8h0m.8 2.8h0m3.2 1.1h0m0-2.9h0m1.6-1.6h0m.7 2.7h0m.5 3.2h0m.4-6.9h0m.4 1.8h0m.8 4.1h0m.2-2h0m.8-3.2h0m.2 6.6h0m.5-1.9h0m1.3-1.7h0m.5-1.9h0m.2 4.9h0m1-1.6h0m1.1-1.7h0m.5 3.9h0m1.1-7.3h0m.3 5.9h0m1.1 1.5h0m.9-4.1h0m1.1 2.5h0m0-4.9h0m1.7 3.2h0m.1-2.3h0m1 6h0m.1-1.9h0m.9-3h0m2.2-.1h0m1.6-1h0m.8 4.6h0m2.7-1.7h0m.2 1.8h0m.2-4.6h0m1.6 5.3h0m1.7-1.3h0m.4-5.3h0m1.8 3.7h0m.7-3.3h0m1.1 6.7h0m.4-2.8h0m1.5-2.9h0m2 4.2h0m.1-4.2h0m2-.2h0m1.7 5.7h0m.2-3h0m1.5 1.7h0m2.1-5.9h0m1.7 1.3h0m.7 4.4h0m1-1.9h0m.1 3.6h0m1.8-4.6h0m1.1 4.3h0m1-7.3h0m.4 5.2h0m1.3-3.9h0m1.4 4.9h0m3-1.9h0m1.2-2.2h0m1.5-1.5h0m6.2 5.4h0m.2-3.6h0m2.7-.2h0m.6 4.8h0m2.5-2h0m2.9 .3h0m2.2-1.2h0m3.3-4.1h0m1.7 7.3h0m2.1-1.8h0m.8-3h0m2 3.1h0m1-4.2h0m1.9 5.7h0m1-3.8h0m2.7 .2h0m4.2 1.4h0m3.5-.6h0m1.3-1.2h0m6.1-3.3h0m9.4 .2h0m20.5 6.9h0m2.6 .7h0m11.9-3.7h0m3.4-3.8h0m-22.8 8.2h0m-.5 4.9h0m-1.4 1.7h0m-12.9-1h0m-1.7-1.1h0m-4-4.4h0m-22.1 6.9h0m-3.3-1.3h0m-1.8-3.8h0m-3 2.5h0m-1 1.7h0m-2.6 .7h0m-2.4-2.3h0m-8.1-.9h0m-2.1-.9h0m0 2.2h0m-1.9-.1h0m-1-1.7h0m-1.3 3.4h0m-2.5-4h0m-1.2 2.5h0m-1.8 2.2h0m-.5-3.7h0m-1.8 3.4h0m-2.1-2h0m-1.3-1.6h0m-1.6-1.7h0m-3.5 1.2h0m-1 2h0m-2.4-3.4h0m-1.6 5h0m-1.3-2.7h0m-.5 1.9h0m-.9-3.9h0m-.7 2.3h0m-.4-3.8h0m-.5 5.4h0m-1.7-1.9h0m-.2-3.3h0m-.4 7h0m-.6-1.9h0m-.2-3.8h0m-1.8 2.4h0m-1.4-3h0m-.4 5.4h0m-1.4-6.5h0m-.7 5.3h0m-1.3-1.3h0m-1.2 2.6h0m-.4-6h0m-1.6 2.8h0m-.2-3.7h0m-.1 5.5h0m-1.3-3.7h0m-.4 2.8h0m-1.7-4h0m-.1 3.5h0m0 2.5h0m-1.7 .6h0m-1.1-5.7h0m-1.1 2.8h0m-.1 1.8h0m-1.1-4.8h0m-.3 2h0m-.6 1.7h0m-1.8-.2h0m-.3-3.3h0m-1 5.3h0m-.3-3.1h0m-1.6 2.9h0m-.1-5.4h0m-1.1 2.6h0m-.8 2.3h0m-.8-4.7h0m-.2 3.1h0m-1.7-3.5h0m-.6 4.6h0m-1.5-5.3h0m-.5 3h0m-.4 3.1h0m-.9-5.7h0m-.5 3h0m-1.3 3.7h0m-.3-6.7h0m-.7 5.2h0m-.2-1.8h0m-1.6-.8h0m-.2-2.8h0m-.6 5.8h0m-.5-1.7h0m-1-3.5h0m-1.2 2.2h0m-.7 2.8h0m-.4-4.2h0m-1.4-1.2h0m-.2 6.3h0m-.1-4.5h0m-.4 2.1h0m-1.4-2.3h0m-.3 3.9h0m-1.3-1.8h0m-.4-3.2h0m-.8 6h0m-1.5-3.8h0m-.7 3.5h0m-.1-5.9h0m-.1 4.1h0m-1.1-2h0m-.8-1.9h0m-.7 5.8h0m-.3-2.4h0m-1.6-3.3h0m-.3 1.9h0m-.5 3.4h0m-1.1-4.4h0m-.5 3.5h0m-.3 1.9h0m-.1-3.7h0m-.4-2.9h0m-1.4 6.6h0m-.3-4.1h0m-.7-1.9h0m-.1 4.6h0m-1.4-5.6h0m-.1 2.3h0m-.9 2.3h0m-.4 1.9h0m-.7-3.5h0m0-1.9h0m-1.7 2.5h0m-.1-2.7h0m-.4 4.5h0m-.8-3.1h0m-.6 4.3h0m-2.1-2.3h0m-.5 1.8h0m-.9-4.1h0m-.7 3.2h0m-1.1-1.4h0m-.3-3.2h0m-1.3 4h0m-1.3 2h0m-.1-4.1h0m-.6-2.1h0m-.2 3.9h0m-1.8-1.7h0m-.5 2.9h0m-2.5-3.6h0m-1.5-1.7h0m-.5 5.9h0m-.3-4h0m-.3 2.2h0m-2.3 .7h0m-.9 1.9h0m-.4-4.7h0m-1.7 3.9h0m-.5-3.1h0m-2-2.3h0m-.2 3.1h0m-.8 1.6h0m-1.6-.9h0m-2-1.1h0m-3.1-3.5h0m-1.1 5.2h0m-1.3-3.8h0m-.9 5h0m-3.2-3.6h0m-1.8-.7h0m-2.5 4.9h0m-1.4-2.9h0m-7.1 2.4h0m-4 6.5h0m4.8-4.9h0m.3 5.3h0m4.3-5.4h0m4.3 4.5h0m5.3-.4h0m0-3.1h0m2.5 5.4h0m.6-5.8h0m1.1 4.5h0m.2-2.5h0m.4 4.4h0m1.9-2.9h0m.9 3h0m1.7-5.9h0m.2 5.5h0m.3-7.4h0m2 7.9h0m.7-4.1h0m0-3.4h0m1.5 4.8h0m.3-3.6h0m1 6h0m1.9-2h0m1-2.2h0m.7-2.8h0m.2 5.6h0m1.3 1.2h0m.7-1.7h0m.1-3.2h0m1.6 2.6h0m.9-4.4h0m.6 2.8h0m.1 2.5h0m1.8-5.7h0m.9 7.6h0m.2-1.9h0m.3-2.2h0m.6-2.5h0m.8 5.9h0m.5-3.6h0m.3-3.3h0m1.3 5.3h0m1.1-5.1h0m.6 6.1h0m.2-3.1h0m1.9 2.3h0m.3-3.8h0m1.2 5.4h0m0-2.8h0m1.3-2.4h0m.6 3.2h0m.8-2.1h0m.1-2.8h0m.2 6.3h0m1.2-4.5h0m1.1 4.9h0m.6-1.8h0m.2-3h0m1.9 2.5h0m.7-3.4h0m1.5 2h0m.3 2.4h0m1.5-3.6h0m.1 5h0m.9-1.7h0m.1-5.4h0m.7 3.4h0m.6 3.5h0m1.2-2.4h0m.1-3.6h0m.8 1.7h0m.9 3.7h0m1-2.2h0m.1-1.9h0m1.5 3.8h0m.6-3h0m.9-2.5h0m.2 6.7h0m.5-2.7h0m1 1.7h0m.5-5h0m.3 3.1h0m1.6 1.8h0m.2-5.1h0m1.3 1.8h0m.6 2.3h0m.2-4.5h0m1.2 6.6h0m.4-2.2h0m.1-2.5h0m1.3-2.6h0m.2 7.7h0m.2-4.6h0m.3 1.8h0m1-3h0m.5 4.5h0m.7-3h0m1.1-2.6h0m.7 6.7h0m.2-2h0m.3-2.1h0m1.1-3.1h0m.5 1.8h0m.6 1.9h0m.6 2.1h0m.8-4.1h0m.1-1.8h0m.4 7.5h0m1.1-4.9h0m.1 1.9h0m1.1-4.5h0m.6 2.4h0m.8 2.5h0m.8 2h0m.5-4.8h0m1.1-1.4h0m.3 5.6h0m.7-2h0m.7-4.5h0m.5 2h0m.7 3.1h0m1-2.1h0m1.3 1.7h0m.1 2.3h0m.1-6.3h0m.8 2.5h0m1.1 3.1h0m.7-4.2h0m.4 2h0m2-3.2h0m.1 2.8h0m1.6-2h0m.1 2.6h0m1.6-3.2h0m.5 5.3h0m.4-2.9h0m1.7 1.8h0m.1-4.5h0m.4 6.9h0m.9-4.1h0m.2 2.5h0m.6-4.5h0m1.1 3.7h0m1.1-4.8h0m.2 7.3h0m.5-5.2h0m.7 3.8h0m1.6-4.3h0m1.3 3.8h0m.3-2.4h0m1.8 2.6h0m.2-4.8h0m.9 3.1h0m1.8 2.2h0m0-5.5h0m.9 3.3h0m1.6 1.9h0m0-5.8h0m.5 1.9h0m1 2.9h0m.8-4.1h0m.3 6.4h0m1.5-4.6h0m1.5 3.9h0m1.1-2.1h0m1.1 1.5h0m.8-4.5h0m1.2 5h0m.6-4.2h0m3.5-.6h0m.6 1.8h0m2.2 .3h0m4.9 1.7h0m1.7-2.2h0m4.2-3.6h0m.4 3.4h0m.9-1.6h0m1.2 5.7h0m3.6-5.3h0m1.7 4.2h0m4.2 .8h0m3.5 0h0m.4-2.8h0m5.6 .7h0m6.8-1h0m1.9-.1h0m1-3.7h0m1.3 4.9h0m1.6-1.8h0m9.2 .7h0m2.7 3.1h0m5.3-.6h0m4.3-2.9h0m4.2-2.2h0m-12.8 10.3h0m-3.5 1.2h0m-10.4-1.5h0m-1.3 3.9h0m-7.3-1.1h0m-6.6-2.2h0m-.8-3.1h0m-4.8 6.5h0m-5.7-1.3h0m-.5-2.6h0m-3.5 1.2h0m-2.2-2h0m-.6 2.5h0m-2.4-2.2h0m-1.5 1h0m-2.4-4.1h0m-.3 5.3h0m-1.3 1.9h0m-.1-6.1h0m-2.1 5.7h0m-1.2-6.3h0m-.7 3.1h0m-1.1-2.5h0m-.9 3h0m-.8-3.7h0m-.1 6.5h0m-1.9-4.5h0m-1 3.7h0m-1.2-1.6h0m-.8 2.4h0m-1.3-3.7h0m-1.1 4.3h0m-.8-6.9h0m-1.1 4.2h0m-.6 1.9h0m-.5-4.1h0m-1.9-.3h0m-1.7 4.4h0m-1.7-5.7h0m-.1 4h0m0 2.6h0m-1.8-.8h0m-.7-3.7h0m-.8 1.8h0m0-4.4h0m-.3 7.3h0m-1.7-5.8h0m-.6 4.5h0m-1.1-1.7h0m-1.7-2.4h0m-.6 4.1h0m-1-5.9h0m-.5 3.1h0m-1.5-1.5h0m-1 4.2h0m0-1.8h0m-1.2-4.4h0m-.5 2.4h0m-.1 3.7h0m-1.5-1.3h0m-.5 1.7h0m-.3-4.6h0m-.1-1.8h0m-.5 3.5h0m-.9 2.3h0m-.8-3.7h0m-.3-1.8h0m-.1 3.6h0m-1.5-1.2h0m-.7 3h0m-.7-4.6h0m-.1 2.6h0m-1.3 3h0m-.9-3.5h0m-.5-1.8h0m-.9-1.6h0m-.8 3.5h0m-.1 2h0m-1-5.3h0m-.6 6.2h0m-.7-4.5h0m-.4 2.6h0m-.6 2.8h0m-1.6-1.6h0m0-2.1h0m-.2-3.3h0m-2 2.8h0m-.3 4.3h0m-.1-2h0m-.9-4h0m-.7 5.5h0m-.4-3.3h0m-1.2-3h0m-.5 5.4h0m-.1-1.8h0m-1.8-2.8h0m0 5.7h0m-.1-3.2h0m-.9-4h0m-.4 5.7h0m-.8 1.8h0m-.6-5.2h0m-1.5 2.8h0m-.7-4.1h0m-.1 2.5h0m-.8 3.9h0m-.5-2.2h0m-1.2-2.7h0m-.2-2h0m-.2 6h0m-.1-2.2h0m-1.7 1h0m-.1-2.7h0m-1.1-2.4h0m-.3 6.5h0m-.3-3.6h0m-1.3 1.6h0m0-3.5h0m-1.3 2h0m-.1 3.5h0m-.9-1.6h0m-.4-3.2h0m-.7-2h0m-1.3 3.1h0m-.3 4.1h0m-.5-6.9h0m-1.8 4.4h0m-.8-1.6h0m0 4.1h0m-.4-6.3h0m-.8 4.7h0m-1.5-2.3h0m-.3 2h0m-.1 2h0m-.1-5.9h0m-1.8 3.2h0m-.4 2.7h0m-.3-7.3h0m-.9 5.9h0m-.4-4h0m-.5 6h0m-.7-4.5h0m-.4 2h0m-.7 1.8h0m-.5-5.8h0m-.6 4.4h0m0-1.9h0m-1.6-.8h0m-.3-2.2h0m0 5.8h0m-1.2-2.3h0m-1.2-1.6h0m0 4.1h0m-.5-2h0m-.2-4h0m-1.2 2.1h0m-.7 2.4h0m-.1-4.7h0m-.8 6.8h0m-1.1-5.5h0m-.2 3.8h0m-1.9-2.9h0m-.5 2.5h0m-.8 1.7h0m-.3-5.2h0m-1.2 3.2h0m-.9 2.2h0m-.1-4.1h0m0-3.2h0m-1.6 4h0m-.3-3.5h0m-.2 5.9h0m-.9-3.5h0m-.4 1.9h0m-1.9 1.7h0m-.3-4h0m-.5 2.2h0m-1.1 2h0m-.4-4h0m-1.3 1.7h0m-.4-2.6h0m-1.4 2.2h0m-.2 2h0m-.7-4.2h0m-2.2 2.7h0m-1.9-2.9h0m-.4 4.6h0m-1.9-.5h0m-1.7-3h0m-.6 3.3h0m-1-2.2h0m-1.2-2.2h0m-2.6 3.8h0m-1-4.9h0m-1.5 7h0m-3.1-1h0m-.9-1.7h0m-2 1.1h0m-1.1-5.7h0m-4.2 1.9h0m-2.4 2.4h0m-7.3 10.5h0m12.3-4.3h0m.3 2.5h0m3.3 1.1h0m1.8-6h0m2.7 1.1h0m.8 5.6h0m2.4 .3h0m.2-6.6h0m.3 1.9h0m1.6 2.9h0m2.5 .8h0m1.7-2h0m.5 1.7h0m.9-4.4h0m.2 5.8h0m1.8-1.6h0m1.3-2h0m.7-3.6h0m.9 5.5h0m2.2-3.9h0m.3 3.7h0m.4 2.1h0m1.6-5.7h0m0 4.4h0m1.6-1.7h0m1.2-3.7h0m.6 3.2h0m1.3 2.2h0m0-4.8h0m1.5 1.4h0m0 2.1h0m.1 2.6h0m1.1-6.1h0m.7 5.4h0m.6-3.8h0m.2 2h0m.3-4.4h0m1.6 1.7h0m.2 3.7h0m.9-5.2h0m.7 1.9h0m.1 4h0m.4-2.1h0m1.1-3.4h0m1.1 1.4h0m.1 2.5h0m.8-4.2h0m1.6 6.8h0m.5-3.8h0m1.3-3.4h0m0 5.1h0m1.2-2.4h0m.2 3.7h0m1.4-6.3h0m.1 3.8h0m1.7-1h0m.3-2h0m.5 5h0m1.9-1.6h0m.4-1.9h0m.8 3.7h0m1.2-5.1h0m.7 2.3h0m.3 2.7h0m1.7-5.6h0m.1 2.5h0m.2 2.3h0m2.2-5.2h0m0 4.4h0m.2-2.4h0m1.9 3.4h0m.1-2.9h0m1.5 1.5h0m.3 1.8h0m.2-6.2h0m1.1 2.3h0m.2 2.6h0m1.3 2.2h0m.2-6.9h0m.8 1.9h0m.6 1.7h0m.5 2h0m.9-4.4h0m1.1 3.2h0m1.7-2.7h0m.5 3.8h0m.8-1.9h0m.3-2.7h0m.7 4.9h0m.8 1.7h0m.2-4.2h0m.4-2.7h0m1.3 1.8h0m.6 2.6h0m1.1 2.4h0m1.1-6.7h0m.4 2.3h0m.2 2.9h0m1.7 .6h0m.5-5.4h0m1 3h0m.3 1.9h0m.6-5h0m1 2.7h0m1.1-4h0m.6 4.9h0m.1-2.3h0m0 4.2h0m1.8-3.8h0m.5 1.8h0m.7 2h0m.2-6.4h0m1.4 3.7h0m.5 1.7h0m.3-5.3h0m.5 2.3h0m1.9 .2h0m.4 3.2h0m1.5-5.9h0m.3 2.7h0m1.3 2.8h0m.2-4.7h0m1 6.6h0m0-3.5h0m1.6-3.8h0m0 2.6h0m.1 1.8h0m1 2.9h0m.5-6.2h0m.4 3.5h0m.7-2.1h0m.8-2.7h0m.2 6.6h0m1.5-5.3h0m1 3h0m1.1-3h0m0 5.3h0m1.2-3.4h0m.9 1.9h0m.5-3.5h0m1 2h0m.5 3.5h0m.4-6.5h0m.9 2.8h0m2.5-.8h0m1.8-1.4h0m.9 2.3h0m.5 1.7h0m1.5-2.2h0m.7-2.4h0m1.1 5.1h0m1.3 1.9h0m.1-3.3h0m1.6 2.8h0m.8-5.8h0m1.2 1.4h0m.9-1.8h0m1 2h0m2.1-.1h0m1.4 4.7h0m1.6-6.8h0m.4 2.1h0m1.6 2.3h0m.1 2.2h0m.7-6.4h0m.7 3.2h0m1.1 2.9h0m.6-2h0m.1-3.4h0m4.3 3.8h0m.7 1.7h0m.5-5.4h0m2.8 3h0m2.4-4.6h0m.6 1.7h0m3.1 .9h0m12 3.4h0m19.4-2h0m8.4 5.4h0m-13.6 .1h0m-3.1-.2h0m-2 4.6h0m-1.3-4.1h0m-11.9 1.9h0m-6.9 3.2h0m-6.2-.1h0m-1.7-.7h0m-2.7-1.3h0m-3.2-4h0m-1 3.9h0m-1.4-3.4h0m-1.8 2.5h0m-.7-2.1h0m-1.1 3.6h0m-2.9 1.4h0m-2.5-6h0m-3.7 3.7h0m-1.5 1.7h0m-.9-3.9h0m-.9 5.1h0m-1.5-4.7h0m-.3 1.9h0m-1.9-2.1h0m-1.2 3.6h0m-.5-5.4h0m-1.9 6.6h0m-.9-3.5h0m-1-1.6h0m0-2h0m-2.5 1.8h0m-.1 2.2h0m-1.8-3.6h0m-.7 3.7h0m-1.4 2.5h0m-.3-6.4h0m-.1 3.5h0m-1.5 3.4h0m-.1-2h0m-.1-1.9h0m-1.9 .9h0m-.2-2.4h0m-1.7 3h0m-.6-3.8h0m-1.6 3.8h0m-.7-3.3h0m-.6 5.5h0m-1.2-6.6h0m0 3.2h0m-1.6-1.3h0m-.1 3.6h0m-.5-1.9h0m-.8-3.1h0m-.7 6.1h0m-1.4-6.7h0m-.2 3.7h0m-.4 2.5h0m-.2-4.6h0m-1.6-1h0m0 2.4h0m-.3 1.8h0m-1.5-3.1h0m0-1.8h0m-1 7h0m-1-4.9h0m-.1 2.6h0m-1.1-5.2h0m-.3 6.3h0m-1-2.4h0m-.2-2.9h0m-1.7 3.6h0m0 2.8h0m-.4-6.1h0m-2.2 5.2h0m-.3-4.8h0m-.9 1.6h0m-.6 4.5h0m0-7.1h0m-.8 5.4h0m-.4-2.1h0m-1.9 1.3h0m-1.1-2.5h0m0 4.2h0m-.1-6.9h0m-.5 4.6h0m-1.3-4.8h0m-.1 3.1h0m-.1 2.8h0m-1.6-5.7h0m-1 5.9h0m-.2-2.9h0m-1-2.1h0m-.8 6.8h0m-.4-2.4h0m-.2-3.2h0m-1.1 1.6h0m-.1-3.4h0m-.3 6.9h0m-.8-4.9h0m-.4 3.5h0m-1.2-5.8h0m-.1 2.8h0m-.1 1.8h0m-1.1 1.9h0m-.5-6.7h0m-1 3.1h0m-.3 1.8h0m-.1-3.6h0m-.4 6.6h0m-1.1-4.4h0m-.6-2.3h0m-.1 6.1h0m-1.9-1h0m-.1-5.7h0m-.2 2h0m-.3 2h0m-.7 2.9h0m-.9-6.9h0m-.2 3.6h0m-.6 2h0m-1-5.8h0m-.8 2.9h0m-.3 1.9h0m-1-5.2h0m0 1.8h0m-.6 1.7h0m-.9 2.6h0m-.2-5h0m-1.8 0h0m-.2 4.4h0m-1-2h0m0 4h0m-.7-5.7h0m-1.7 5.7h0m-.6-2.4h0m-.4-2.4h0m-.2-2.6h0m-2.2 1.9h0m-.3 2.1h0m-.9-3.7h0m-.5 6.7h0m-1.5-5.8h0m-.5 1.7h0m-.4 4.7h0m-1-3.1h0m0-3.7h0m-.9 5.3h0m-.9-4h0m-1.8 1.6h0m-.3-3.1h0m-.5 6.1h0m-1.1-2.2h0m-1.4-2h0m-.2-2.5h0m-.2 5.9h0m-1.9 .8h0m-1.4-4.1h0m-.3 2.2h0m-1.3 1.7h0m-.5-6.6h0m-1.7 3.2h0m-1.1 2.5h0m-1.2-3.4h0m-2.4-1.3h0m-.8 3.6h0m-1.6 2.4h0m-3.4-4.5h0m-2.8 1h0m-5.1 .5h0m-1.7-3.8h0m-1.3 3.7h0m-3.9-2.8h0m-2.3 2.8h0m-4.8-3.4h0m-5.4 3.8h0m4.4 5.5h0m4.1 4h0m3.9-5.4h0m1.1 4h0m8.5 1.8h0m.1-3.6h0m7.9-.2h0m.9 2.1h0m2.9-.5h0m.2-2.2h0m3.2 2.5h0m.3-3.7h0m1.4 6.4h0m1.5-5.5h0m.9 4.2h0m1.8-4.1h0m.9 4.8h0m.2-3.4h0m.9 2h0m.3-5h0m1.8 6.8h0m.2-5.3h0m0 3.5h0m1.1-1.5h0m.7-1.8h0m1 5h0m.8-6.2h0m1 3.6h0m.2 3.6h0m.3-5.4h0m1.4 4.7h0m1.8-4h0m1.4 4.7h0m.3-7.5h0m.3 2.5h0m.4 2.8h0m2-3.5h0m0 4.3h0m.3-2.4h0m1.6 2.1h0m.5-1.9h0m.4-1.9h0m1.9-2h0m.2 7.2h0m1.2-1.7h0m.2-3.4h0m.8-2.3h0m1.8 .1h0m.4 5.8h0m.3-3h0m1.3 1.3h0m0-3.2h0m1.2 1.7h0m.7 2.3h0m1 2.6h0m.3-4.6h0m.4-2.2h0m.7 4.8h0m1.4-2.9h0m.3 3.7h0m1.7-4h0m.5 1.8h0m.5 1.7h0m.6-5.1h0m.5 2.6h0m.5 4.2h0m.7-7.3h0m1.1 1.9h0m.4 2.5h0m.7 2.8h0m1.3-5.6h0m0 3h0m.4 1.9h0m1.8-6.6h0m0 2.1h0m.2 1.9h0m1.7 1.1h0m.4-2h0m.1 3.9h0m.7-7h0m1.7 5.1h0m.3-2.2h0m1.6-1.1h0m0 4h0m.2-6h0m.1 3.9h0m1.3 3.8h0m.3-2.9h0m.8-3h0m.6 4.9h0m.5-1.8h0m1.1-4.2h0m0 1.9h0m.7 4.1h0m.3-2h0m1.7 1.1h0m.9-4.2h0m1.7 6.3h0m.4-2h0m.5-2h0m.8-1.8h0m1.6-1.4h0m0 5.9h0m1-2.9h0m1.4 2.5h0m.7-2.1h0m.7-2.1h0m1.9-.4h0m.4 2.3h0m1.6-1.1h0m.5 3.7h0m.1-5.7h0m1.6 4.1h0m.6-3.6h0m2-.8h0m.3 2.8h0m.4 2.1h0m.1 2.1h0m1.5-1.3h0m.2-5.9h0m.1 2.2h0m.7 1.7h0m1.6 1.5h0m.2-3.6h0m1 2.2h0m.7 1.7h0m1.6 1.5h0m.4-4.2h0m1.3-2.5h0m2.5 4.4h0m1.3-4.1h0m1.9 4.3h0m2-3.9h0m1.1 5.1h0m.1-3.1h0m2 2.5h0m2.6-.9h0m1.9 1.7h0m1.1-6.3h0m1.8 4.3h0m.2-3.5h0m1.4 4.8h0m1.8-.2h0m5.3-5.4h0m2.4 1.5h0m4.2-1.3h0m3.1 1.2h0m1.6 .9h0m.9 2.8h0m1.8-4.3h0m.5 2.2h0m1.3-1.6h0m11.9 2.7h0m15.3-2.6h0m7.6-1.7h0m-15.3 9.7h0m-1 2.9h0m-7.8-.1h0m-2.6-3.9h0m-10.3 6.5h0m-4-6.5h0m-.8 3.7h0m-.7-2.2h0m-1-1.6h0m-2 .3h0m-2.9 4.3h0m-3.3-.4h0m-2.3-5h0m-1 5h0m-.6-3.4h0m-3.9 .4h0m-.7 5.8h0m-1.1-4.8h0m-3.1 2h0m-1.1-5h0m-1.1 6h0m0-3h0m-3.2 .7h0m-1 3.2h0m-1.6-3.2h0m-2.1 .4h0m-.2-3.8h0m-3.2 .5h0m-.1 2.1h0m-2.2 3.5h0m-1.8-4.1h0m-.3 4.6h0m-2.1-6.9h0m-.8 5.1h0m-.3-2.1h0m-1 4.1h0m-.5-2.3h0m-1.2-2.3h0m-.3-2.1h0m-.7 3.7h0m-.8 2.4h0m-2.1-3.5h0m-.3 3h0m-1.6 1.3h0m-.3-2.3h0m-.1-4h0m-.8 2.1h0m-1.4 2h0m-.4 1.8h0m-.3-5.2h0m-1 2.8h0m-2 .4h0m-.2-2.9h0m-1.1 1.7h0m-.1-3.2h0m-1.2 6.1h0m-.9-4.2h0m-.9 3.2h0m-2.5-4.1h0m-.3 5.4h0m-.9-3.6h0m-.5-2.5h0m-1 4.8h0m-.4-1.8h0m-.9-2.5h0m-1.3 4.6h0m-.1-3.3h0m-1.1 4.7h0m-.3-3.2h0m-1.1-1.7h0m-.4-1.8h0m-.6 4.9h0m-2.1-.2h0m-.4-3.9h0m-.1 2h0m-1.9 1.5h0m-.4-1.8h0m-1.4 2.8h0m-.2-1.8h0m-.3-2h0m-1.6 5.1h0m-1-2.7h0m-1.3-1.9h0m-.5 2.6h0m-.9-3.7h0m-1.3 3.4h0m-.7-2.2h0m-.1 4.4h0m-1.4-6.4h0m-.4 7.2h0m-.1-2.8h0m-1.2-2.8h0m-1.5 3.2h0m-.7 2.2h0m-1.3-7.6h0m0 2.4h0m-1.7 2.8h0m-.2-2.1h0m-.5-2h0m-.9 5.1h0m-1.1-5.6h0m-.7 5.3h0m-.1 1.9h0m-1-3.8h0m-.3-2h0m-1.5 1.4h0m-.7 3.8h0m-.7-2h0m-.1-5h0m-.4 2.1h0m-1.5 4.8h0m-.3-5.8h0m-.5 3.1h0m-1.3 2.4h0m-1.1-4.4h0m-2.1 4.5h0m-.3-6.2h0m-.1 3.9h0m-1.1-2.2h0m-1.1 5h0m-.8-4.4h0m-.3-2.2h0m-.9 5.9h0m-.6-4.3h0m-.6 1.7h0m-.9-3.4h0m-1.6 5.3h0m-.4-2.2h0m-2.5-.6h0m-.1-3h0m-4 6.6h0m-1.6-1.7h0m-4.1-.9h0m-.3-2.3h0m-3.2 1.1h0m-18.1-.1h0m8.3 7.5h0m1.8-.8h0m5.6 4.8h0m4.8-2.9h0m1.1-2.4h0m.8 2.3h0m1-3.2h0m1.7 2.3h0m2.1 1.4h0m3.1 2.9h0m.3-4.9h0m2.4 5.1h0m1.2-4.3h0m.9-2.3h0m1.1 4.1h0m1.2-3.8h0m.3 2.2h0m3 3.4h0m.3-3.6h0m.2 1.8h0m2.4-3.7h0m.3 6.9h0m.2-5h0m1.9 4h0m2.1-4.4h0m2 2.8h0m.6-2.5h0m.3 5.1h0m1.9-6.2h0m.4 4.2h0m1.9-2.4h0m.8-2.4h0m1 4.2h0m1.8-3.8h0m.7 3.1h0m2-2.3h0m.6 5.1h0m.9-1.8h0m.6-2.9h0m1.1 2h0m.5 2.5h0m1.5-3.7h0m.2-2.1h0m1.7 4.9h0m.8-3.3h0m.1-2.5h0m1.7 2.1h0m.4 2.1h0m1.8-4.4h0m0 3.9h0m.8 2.5h0m.8-3.9h0m.2-1.9h0m1.6 .9h0m.5 3.5h0m.7-1.8h0m.1-3.2h0m1.3 7.1h0m.3-6h0m.1 4.1h0m1.7-3.8h0m.7 6.2h0m.3-2.5h0m1.2-2.3h0m.5 2.8h0m.7-4.2h0m.9 6.2h0m.6-7.8h0m.2 5.5h0m.1-1.9h0m1.7 3.1h0m1.5-3h0m.3 3.9h0m.1-6.4h0m1 4.5h0m1-4.8h0m1.4 3.6h0m.5-2.6h0m1.2 4.5h0m.8-3.6h0m.6-2.5h0m1.1 5.4h0m1.3-1.6h0m1-2.9h0m.6 5.6h0m2.3-5.4h0m.1 1.8h0m1.9 2.5h0m1.8-4.3h0m.8 2.8h0m1.9-1.6h0m.9 2.7h0m1.9-2.4h0m.2-1.9h0m.9 4.3h0m1.3-2.2h0m.7 4.4h0m.5-2.4h0m1.5 1.4h0m2.7-5.6h0m0 3.2h0m1.4-1.8h0m.6-2h0m.8 3.7h0m.7 2.3h0m2.7 1.3h0m.4-6.7h0m1.6 6.1h0m1.9-4.1h0m4.2 1.9h0m.3-2.9h0m3.1-.5h0m1.2 6.1h0m1.1-4.7h0m1.7 4.3h0m.7-6h0m2.3 6.6h0m3.3-2.8h0m3.5-.4h0m1.1-4.1h0m8.9 5h0m3.6-4.4h0m4.1 7h0m-6.9 .4h0m-10.7 2.2h0m-.4 5.2h0m-7.4 .1h0m-4.3-6.1h0m-3.7 .9h0m-1.9-1.7h0m-1.9 1.8h0m-.7 3.4h0m-1.9-3.1h0m-4.2-1.6h0m-3.7 2.9h0m-4.4-3.8h0m-4.2-.2h0m-1 3.1h0m-.3 3.3h0m-.1-5.1h0m-2.3-1.7h0m-1.2 6.9h0m0-3.1h0m-1.8 1.5h0m-.1-2.6h0m-.4-2.1h0m-1.4 4.7h0m-.6-4.1h0m-3.6 3.7h0m-.1-2.7h0m-2.3-1.5h0m-.5 2.4h0m-3.3 2.1h0m-.1-4.4h0m-.2 6.7h0m-2.2 .3h0m-.6-2.6h0m-1.3-1.5h0m-.7 4.2h0m-.2-2.5h0m-1.6-2.3h0m-.6 2h0m-1.2-2.6h0m-1.4-2h0m-.4 5.1h0m-.7-3.6h0m-2.3 3h0m-1.1-2.9h0m-.5 5.4h0m-1.1-3.4h0m-.9-1.7h0m-.1 5.5h0m-1.5-6.9h0m-.1 3h0m-1.9-3.7h0m-.5 2.9h0m-2 2.9h0m-.1-6.1h0m-.9 2.7h0m-4.4 1.6h0m-1.1-2.2h0m-2.4 3.1h0m-.1-3.7h0m-1.6 5.7h0m-2.4-1.4h0m-.6-1.7h0m-.4-3.2h0m-2.1 3h0m-.5-2.7h0m-1.5 3.2h0m-.4-3.5h0m-1.9 .8h0m-1.2 5.1h0m-.8-5.5h0m-5.5 3.1h0m-1.8-1.3h0m-3.4 2h0m-.3-3.6h0m-.8 1.8h0m-.9-2.5h0m-1.1 7h0m-2-1h0m-.4-2.9h0m-4-.4h0m-.6 4.3h0m-3.8-6.6h0m-3.5-.5h0m-1.1 4.3h0m-4.8 1.7h0m-15.5-5.7h0m-4.8 2h0m21.7 6.2h0m4.5 1.4h0m5-1h0m.2 3.6h0m1.2 1.3h0m6.1-5.9h0m1.2 6.1h0m3.5-6.7h0m5.3 2.9h0m1.7-2.1h0m.1 3.9h0m1.5-2.3h0m1.1 1.9h0m1.4 1.2h0m2.1-4.2h0m1.7 .8h0m1.9-1.7h0m1 5h0m4.5-3.2h0m2-2h0m1.5 7.1h0m1.7-6h0m.3 3h0m2.5-1.7h0m1.5-2.2h0m.8 3.6h0m.4 2.4h0m.5-4.6h0m1.3-1.8h0m.5 1.8h0m1.3 1.4h0m2.5 1.4h0m.6 3h0m3.1-2.3h0m2.6-3.6h0m1.7 3.6h0m.3-4.1h0m1.2 2.1h0m1.9 1.2h0m3.8-1.6h0m.4 4h0m2.5 0h0m.4-3.1h0m3.6-1.8h0m.4 2.5h0m.5 2.7h0m2.6-7h0m.6 5.7h0m2.1-3h0m.5 2.6h0m1.2-5.4h0m1.4 4.2h0m3.5-.9h0m.9-1.9h0m3.7 2.5h0m4.5 2.5h0m3.3-5.1h0m1 5.7h0m10.1-2.3h0m2 1.6h0m16.5-.7h0m-4.9 7h0m-5.7-3.2h0m-.5 2.7h0m-10.4 2.7h0m-3.3-3.7h0m-3.7 2.3h0m-5.9-4.4h0m-.2 2.4h0m-.2 3.2h0m-8.6-4.3h0m-2.1 5.5h0m-2.6-3.6h0m-.7 3.6h0m-3.2-7.2h0m-2.1 .5h0m-2.4 .9h0m-1.5 5.1h0m-6.5-1.6h0m-2.6-2.5h0m-1.2 3.8h0m-3.1-5.9h0m-.7 3.5h0m-1.4-3.2h0m-.4 5.7h0m-3-5.7h0m-.8 4.5h0m-1.1 1.9h0m-1.6-6h0m-.4 2.9h0m-2.6-4.3h0m-1.3 4.1h0m-.6 2.4h0m-3.3-.5h0m-1-2.3h0m-4.3-.6h0m-4.2-.9h0m-3.1 2.3h0m-2.3-3.1h0m-2.2 2.2h0m-19.8-2.3h0m-2.6 1.7h0m1.9 5.1h0m7.4 .9h0m4.6 2.2h0m5.7-1.6h0m5.5 0h0m4 .4h0m3.9-2.2h0m.8 3.2h0m4.1 2.8h0m8.5 .3h0m.6-3h0m.4-2.5h0m3.3 2h0m2.5 .7h0m4.7 .2h0m.3-2.4h0m2.2 6h0m1.5-2.9h0m2.2-1.1h0m.1-2h0m4.1 .4h0m4.3 .3h0m7.7-.7h0m1.9 3.1h0m2-.3h0m.1 2.5h0m3.9 .7h0m2.4-1.6h0m2.1 1.8h0m3.1-7h0m4.7 5.7h0m2.2-5.8h0m5.4 3.3h0m2-3.2h0m6.1 1.2h0m3.2 1.2h0m2.3-1.2h0m-16.9 6.3h0m-.9 6.1h0m-.3-3.2h0m-10.7 1.5h0m-2.1-2h0m-34.9 4.2h0m-1.1-4h0m-.2 2.3h0m-2.5 1.1h0m-6.9-1.9h0m-1.4-2.8h0m-10 4.5h0m-3.8-2.6h0m-5.8 0h0m-3.2 1.4h0m-1.3-2.1h0m-56.9 2.7h0m47.6 10.5h0m28.4-7.3h0m9.4 6h0m18.7-5.7h0m22.1 5.8h0m2.7-1.1h0m3.5-4.6h0m5.1 6.7h0m-5 5.8h0m-5.5 2h0m-79.8-3.7h0m-2-1.2h0"/><path d="M425.4 11.6h0m24.3 11.4h0m2.3 .5h0m6.3 8.3h0m-52.5 5.7h0m12.8-.6h0m2.5 2.1h0m5.9-4.4h0m12.6 2.1h0m19.3 7.5h0m-2-1h0m-9 4.4h0m-2.8-1.4h0m-2.8 .1h0m-5 .5h0m-6.9-.2h0m-10.7-5.8h0m-8.8 4.6h0m-6.7-3.9h0m-145.8 11.3h0m125.1-1h0m35.8 2.6h0m.9-5.5h0m5.3 3.8h0m.1-4.2h0m.2 6.6h0m.1-4.4h0m1.4 2h0m.3-2.6h0m2.7 4.5h0m3.8-2h0m1.1 3h0m.9-6.4h0m0 4.6h0m5.2-5.6h0m.1 4.5h0m2.3-2.2h0m.5 3.2h0m2.8-3.3h0m1.5 1.7h0m.5 2h0m6.8 .4h0m13.1-4.9h0m-4.6 8.9h0m-2.7 4.4h0m-3.3-6.4h0m-.5 2.8h0m-2-2.4h0m-.6 3.1h0m-4.1 2.2h0m-2.2-.7h0m-.3-2.9h0m-.3 4.6h0m-1.3-3.4h0m-.1 2.2h0m-1.7 .5h0m-2.5-3.6h0m-.2 3h0m-2.4-3h0m-.1 3.8h0m-3.7 0h0m-.1-5h0m-1.3 2.7h0m-3-2.3h0m-.2 4.1h0m-1.5-5.2h0m-1.4 1.3h0m-3.8 4.3h0m-1-3.3h0m-.8-1.7h0m-1.7 4.1h0m-.2-4.6h0m-2.3 6.4h0m-2.1-6.7h0m-.3 2h0m-.4 3.6h0m-2.6-3h0m-3.3 4.2h0m-.8-2.1h0m-.2-2.5h0m-6-2.1h0m-3.8-.8h0m-1.7 .8h0m-1 6.3h0m-9.7-1.6h0m-37.3 5.5h0m.9 2.4h0m1.2 2.2h0m30.5-.4h0m3.1-2.6h0m3.6-2.3h0m9.4-.7h0m.8 3.2h0m4.8 .5h0m1-4.3h0m3.4 6.8h0m3.9-6.2h0m1.7 5.6h0m1.2-1.6h0m.5-2.5h0m7 .1h0m3.5 3.4h0m3.2 .2h0m1.3-6.5h0m.1 5.1h0m3.6-1.9h0m.9 3h0m1.3-5.9h0m.1 3.2h0m2.2 .3h0m2.6 3.6h0m.9-2.1h0m1.8 .1h0m.8-2.7h0m.8 4.7h0m.4-7.5h0m1.3 5.2h0m.4-3.9h0m2.7 1.2h0m.9-2.8h0m3.8 1.1h0m.3 3.3h0m2-.9h0m.1 4.1h0m1.8-4.7h0m13.4 3.1h0m-8.7 8.3h0m-.3-5.5h0m-1.7 6.5h0m-.8-7.2h0m-1.3 6.7h0m-1.2-5.9h0m-3.5-.2h0m-3.2 6.2h0m-1.7-.9h0m-1-5.1h0m-.7 1.9h0m-.1 3.6h0m-1.1-5.5h0m-1.8 3.9h0m-1.6 1.5h0m-.8-2.4h0m-.3-2.7h0m-6.8 6.7h0m-1.8-6.1h0m-2.1 1.6h0m-1.7 3.4h0m-1.8-1.4h0m-.1-3.7h0m-3.2-1.2h0m-2.1 3.6h0m-.3 3.6h0m-1.8-2.8h0m-1.2-2.6h0m-2.5 1.3h0m-4.1 2.6h0m-2.2-5.7h0m-7.8 .9h0m-7.8 3h0m-7.2-.5h0m-2.6 .6h0m-15.6-3.6h0m-4.7 3.5h0m-5.3 .6h0m-3.6-4.5h0m-8.6 6.5h0m30.6 5.4h0m.4 2.3h0m6.1-1.6h0m3.7-1.6h0m10.3 2.3h0m1-4.9h0m.4 2.6h0m1 3.2h0m3.1-5.1h0m5 3.7h0m.3-4.5h0m4.1 6.8h0m1.2-5.7h0m4.1-.4h0m1.6-1.5h0m2.9 3h0m1.1 4.7h0m0-6.5h0m1.1 4.4h0m.9-2.6h0m.1-2.9h0m.4 7h0m.9-5.3h0m0 2.3h0m1.9-2h0m4.3 5.4h0m.2-6.5h0m2 4h0m.9-1.7h0m.8-2.1h0m1.4 4.9h0m1.8-1.2h0m2.2-.4h0m1.4 1.5h0m1.7-2.6h0m.2 3.1h0m1.7-2.9h0m2.1 2.8h0m1.8-2.8h0m1.5-3.1h0m1.2 1.4h0m.8 2.2h0m3.3-.3h0m.1-2.3h0m-7 13.7h0m-2.4-6.5h0m-.8 4.5h0m-1.2-5h0m-2.7 .9h0m-1.2 5h0m-2.6-1.1h0m-1.2 1.6h0m-.7-3.3h0m-2 3.3h0m-.3-5.1h0m-1.5 2.2h0m-2.7 2.5h0m-3.1-1.4h0m-3.3-.9h0m-3.5-1.9h0m-3.5 .2h0m-3.4 1h0m0-3h0m-1.5 5.7h0m-4.9-3h0m-1-1.5h0m-9.8 1.2h0m-9.4 1.4h0m-.9-3.2h0m-9 2.2h0m-2.3-3h0m-19.1 3.9h0m-.8 3h0m-62.9-1.9h0m45.9 7.4h0m1 1.9h0m13-5.6h0m11.4 3.8h0m4.8 1.8h0m1.9-6.1h0m4.5 4.1h0m6.5 1.6h0m8.4-5.5h0m6 4.3h0m3-2.8h0m1.8-1h0m1.3 1.4h0m15.5 4.2h0m7.2-2.8h0m3.6-3.4h0m10.1 5.8h0m.5-4.3h0m2.4 2.1h0m-6.2 7.2h0m-.7-2.8h0m-3.8 7.3h0m-2.3-4.6h0m-1.6 2.5h0m-15.5-2.4h0m-44.5-2.9h0m-17.3 6.1h0m-103.6 4.1h0m20.3 .6h0m37-.7h0m16.1 3.9h0m25.4-3.2h0m12-1.9h0m12.5 6.3h0m29.8-4h0m23 4.7h0m-22 1.8h0m-.2 4.4h0m-52.4 0h0m-10.1-4.1h0m-8.3 1.1h0m-3 2.4h0m-11.2-3.3h0m-32.3 4.9h0m-13.9-6.4h0m-150.5 8.4h0m55 1.7h0m24.7-2.9h0m77 5.1h0m2.2 1h0m5.3 .7h0m5.4-1h0m7.1-5.4h0m2.5 .5h0m23.1 1.8h0m2.8-1.1h0m1.7 5.4h0m7-1.9h0m16.3-3.8h0m30 3.9h0m1.1-4.1h0m4.6 13.4h0m-59.2-5.5h0m-6.1 6.7h0m-40.4-7.7h0m-120.1 4.5h0m9.2 4.7h0m.5 2.1h0m9 3.7h0m2.8-.1h0m98.7-1.7h0m7.9-3.2h0m3 .3h0m2.2 .2h0m.2 3.2h0m6.4-.2h0m6.2 1.7h0m5.3-2.5h0m2.8 1.6h0m7.8 .3h0m7.8-.5h0m5.3-3.7h0m10.3 13.2h0m-18.4-2.8h0m-3.3-2.2h0m-11 1.1h0m-.9-1.9h0m-.8 5.3h0m-10.8-3h0m-1.8-2.8h0m-2.5-.6h0m-3.2-.3h0m-3.9 5.2h0m-4.7 2h0m-7.7-4.9h0m-1.5-1.6h0m-19.7 1.9h0m-5.6-2.5h0m-34.3 4.4h0m-30.8-2.2h0m-18.7 1.8h0m45.5 4.2h0m39.2 3.7h0m4.1-.5h0m6.4 1.1h0m24.9-4.5h0m15.1 3.7h0m4.4-2.7h0m1.1 3.7h0m15.9-.4h0m0-2h0m-9.2 9.2h0m-2.3-2.7h0m-3 1.8h0m-4.6 .8h0m-1.3 2.3h0m-1.7 1.1h0m-3.2-1.1h0m-5.1-4.8h0m-1.2 3.9h0m-3.1-5.3h0m-.6 2.9h0m-2.8 3.8h0m-6.5 .4h0m-3.7-7h0m-1 7.7h0m-5.6-3.7h0m-4.1 2.8h0m-6.3-2.7h0m-.3-3.1h0m-8.6-.1h0m-4 6.6h0m-.9-2.8h0m-45.8-4.8h0m-35.1 4h0m-2.9-2.3h0m59.5 11.8h0m9.7 .2h0m14-4.6h0m4.9 2.9h0m3.3 1.3h0m4.7 1.7h0m0-5.6h0m4.8 .7h0m3.1 2.2h0m5-1.2h0m2.8-2.2h0m3.2 5.9h0m3-1.7h0m9.1-4.7h0m.8 2.6h0m2.9 1.1h0m.2-2.8h0m5.2-1.3h0m10.9 7.8h0m3.1-1.7h0m16.3 6.9h0m-8 1.4h0m-3.9-6.1h0m-3.4 .1h0m-2.2 6h0m-9.4 .6h0m-15.6 .1h0m-1-2.4h0m-9.1-3.9h0m-5.3 3.2h0m-2 .6h0m-3.1 2.4h0m-1.5-1.4h0m-3.3-5.2h0m-2.9 2h0m-2.4 1.5h0m-1.6-2h0m-6.1 3.6h0m-.5-3.8h0m-2.8 1.7h0m-20.2-2.6h0m-38.6 3.4h0m-12.4 7.9h0m4.2 3.6h0m51 0h0m7.8-5.3h0m8.4 4.9h0m1.2-7.4h0m4.2 .6h0m2.2 .4h0m2.1 4.2h0m8.3-3.9h0m.3 4h0m2.7-3.3h0m7.3 1.9h0m2.6 .7h0m10.5 3.1h0m.2-4.7h0m6.9 3.8h0m7-6.3h0m1.1 5h0m5.1 2.4h0m4.3-3.7h0m14.1-2.2h0m-6.9 7h0m-31.8 6.9h0m-.5-4.3h0m-4.6 3.1h0m-1-1.5h0m-4.1-1.1h0m-3.8 1.5h0m-3.4-3.1h0m-2.9 4.2h0m-3.3-2.9h0m-13.4 1.2h0m-2 .1h0m-5.5-2.3h0m-2 2.7h0m-1.4-2.1h0m-.6 3.9h0m-4.3-4.4h0m-2.7-2.4h0m-4.4 7.1h0m-.9-5.3h0m-4.7 2.7h0m-14.8-4.7h0m-28.4 3.5h0m-3.1 1.7h0m-14.7-1.1h0m-34.5 10h0m7.3-1.1h0m16.1 1.8h0m.9-2.8h0m30.4-1.3h0m8.1 4.6h0m3.1-4.3h0m2.2-1.2h0m15.2 3.8h0m4.9-.5h0m20.3-2.7h0m.6-2.2h0m1.7 3.5h0m1.1 2.3h0m.6-3.1h0m3.5 2.2h0m1.6-4.8h0m10.5 5h0m4.6 1.7h0m5.6-.5h0m.7-6.6h0m9.1 4.1h0m3.2 .4h0m3-2h0m.5 2h0m0-4.3h0m1.6 6.5h0m4.6-3.2h0m19.9-.1h0m-.3 5.2h0m-4.8 3.1h0m-33.4 .2h0m-.8-3.6h0m-4.1 .2h0m-7 6.6h0m-21.2-1.3h0m-1.3-2.1h0m-2.4 1.5h0m-2.3-.5h0m-2.6-4.4h0m-14.5-.3h0m-5.5 7.1h0m-30.5 .3h0m-14.4-1h0m-1.6-1h0m-11.4 .3h0m-46.5 .7h0m-1.6-1.1h0m24.2 2.5h0m3.2 3.1h0m1.5 1.4h0m1.1 1.7h0m3.1-.3h0m1.5 1.9h0m2-1.1h0m1-1.5h0m5.3 2.4h0m3.8-7.1h0m3.6 1.4h0m.7 3h0m7.7 2h0m.7-3.6h0m.5-2.2h0m7.7 2.2h0m5 1.5h0m2.2-1.9h0m2.1-2.1h0m9.6 6.9h0m2.5-1h0m1.9 1.2h0m7-.4h0m1.4-1.9h0m12.1-4.4h0m8.3 3.5h0m5.4 3.1h0m3.8-3.6h0m1.7-3.8h0m3.6 .9h0m11.3 5.9h0m4.9-4.2h0m2.7 3.8h0m3.8-2h0m20 .7h0m16.8 .1h0m-37.5 8.8h0m-1.8-1.3h0m-13.1-5.1h0m-.1 2h0m-5.8 5.2h0m-2.4-4.3h0m-5.1-2.9h0m-5 1h0m-1 2h0m-2.9 .5h0m-4.1 3.4h0m-.8-6.4h0m-2.5 4.4h0m-18.2-3.1h0m-5.1 .5h0m-1.7 3.9h0m-3.2-1.6h0m-.9 2h0m-6.1 .6h0m-.7-2.2h0m-1.2 2.9h0m-1.1-3.8h0m-1.9-1.4h0m-1.1 3h0m-.7-4.7h0m-1.1 5.7h0m-.9-4.2h0m-2.4 2.6h0m-1.2-3h0m-2.4 5.6h0m0-1.9h0m-1.9-.5h0m-4.4 1.4h0m-.4-4.3h0m-.8 2.5h0m-.7 1.8h0m-.3-6.3h0m-1.6 6.8h0m-3.3-2h0m-.7-1.7h0m-1-2.9h0m-2.1 4.6h0m-1.1-2.3h0m-1.6 3.5h0m-1.1-2.6h0m-1.4 1.9h0m-1.2-2.9h0m-.5 1.9h0m-1.3 2.6h0m-2.3-1.4h0m-1.7 .7h0m-.2-2.4h0m-2.6 .9h0m-4.6 2h0m-2-1.4h0m-1.6-4.8h0m-1.3 4.3h0m-2-2.5h0m-4.1-.5h0m-.1 5.3h0m-1.6-4.8h0m-.2 4h0m-3.1 .2h0m-5.8-.8h0m-16.3 7h0m2.6-.1h0m4-.4h0m3.7 2.2h0m.9-2.8h0m7.8-1.3h0m.1 2.3h0m2.2 0h0m1.7-2.8h0m1.3 2.7h0m2.3-2.5h0m.4 2.7h0m3.2 1.9h0m.7-2.6h0m.7-4h0m.8 5.9h0m1.6-.9h0m.5-5.3h0m.5 2.2h0m1 2.9h0m3-2.7h0m.9 3.3h0m1.5-1.7h0m.3 2.1h0m.7-4.5h0m1.5 1.9h0m.4-2.6h0m1.2 4h0m0-2.5h0m.5 5.4h0m1.5-4.4h0m0-2.1h0m.9 5.4h0m1.5-3.5h0m.6 3.4h0m1.5-3.2h0m1 2.4h0m.5 1.8h0m.8-4.2h0m.7-2.4h0m.6 5.3h0m.8-4.2h0m.3-2h0m0 4.6h0m.5 3.1h0m1.3-1.3h0m0-5.7h0m.8 3.4h0m1.5-3h0m.6 1.9h0m1.2-1.4h0m.3 3.2h0m1.7 1.1h0m.8-5h0m.6 6.6h0m.7-1.7h0m.1-2.2h0m1.2-1.9h0m.4 5.8h0m1.6-3.9h0m.1-2.2h0m1.5-1.1h0m0 5.6h0m.2-3.6h0m3-.4h0m.4 2.7h0m1.3-1.9h0m.2 4.1h0m1.8-.5h0m.4-2.6h0m.1-3.1h0m1 1.5h0m.3 5h0m3.1-.5h0m.1-5.9h0m1.8 5.8h0m.9-3.5h0m6.2 2.9h0m.3-2.4h0m.1-2h0m4.6 3h0m2.2 .2h0m.2 2.6h0m3.7-.3h0m2.1-4.5h0m.7 4.2h0m2-2.9h0m.3 2.4h0m2 .5h0m2.3-.3h0m.9-6.1h0m7.2 .5h0m1.5 6.5h0m4.5-6.7h0m1.3 1.2h0m4.2 .6h0m.1 2.8h0m1.4-1.7h0m9.3 1.1h0m10.4 .4h0m3.4 1.1h0m2 1.5h0m8.7-7.5h0m-14.3 11.7h0m-17.3 .4h0m-5.2 1h0m-4-.3h0m-1.6-1.9h0m-.6 3.8h0m-.4-2h0m-2.5 0h0m-1.5 1.4h0m-.4-2.3h0m-3.8-3.7h0m-2.2 3.6h0m-1.8 2.5h0m-1.9-5.2h0m-1.1 4.2h0m-1.1-3.2h0m-.9-1.7h0m-.9 5h0m-1-1.8h0m-2.4 3.9h0m-.1-6.4h0m-2.1 4.4h0m-.1-3.5h0m-2.3-1.4h0m-.2 6.3h0m-1.9 .7h0m-.5-4.3h0m-1.3 3.7h0m-.1-2h0m-1.9-3.7h0m-.4 1.9h0m-.1 3h0m-1.4-6.4h0m0 1.8h0m-.6 2h0m-.3 1.8h0m-1.6-1.8h0m-1 2.6h0m-.8-1.9h0m-1.4 3.3h0m-.1-6.9h0m-.2 4.9h0m-1.1-2.4h0m-.9-2.4h0m-.1 6.4h0m-2.3-.2h0m-.5-5.8h0m0 3.4h0m-1.5 1.1h0m-.8-1.9h0m-.8-3h0m-1 6.3h0m-.5-1.9h0m-.4-4.6h0m-1.5 5.3h0m-.1-2.8h0m-1.1-3.1h0m-.1 7.6h0m-.8-3.9h0m-.2-2.2h0m-.1 4.5h0m-2.3 1.5h0m-.3-2.2h0m-.3-2.5h0m-1.8 .3h0m-1-1.8h0m-.5 5h0m-.3-2.3h0m-.4-4.2h0m-1.9 .2h0m-.1 2.5h0m-.7 2.9h0m-1.1-5.3h0m0 6.8h0m-.7-2.9h0m-1.2 2.1h0m-.8-2.5h0m-1.1-1.6h0m0 4.6h0m-.5-2h0m-1.7-2.9h0m-.6 1.9h0m-.3 2.6h0m-2.5-2.2h0m-.2-3.7h0m-1.1 5.7h0m-.4-2.6h0m-1.5 2.7h0m-1.4-4.5h0m-.8 4h0m0-1.9h0m-.8-3.2h0m-.7 2.1h0m-1.3-2.7h0m-.1 4.5h0m-.7-1.9h0m-1.2 3.1h0m-1.4-5h0m-.2 3.2h0m-.3 2h0m-1.5 1.1h0m-.4-3.1h0m-.1-3.9h0m-1.8 2.4h0m-.2 1.8h0m-.3-3.6h0m-.1 6.2h0m-1.5-1.5h0m-.2-1.9h0m-.6 4.3h0m-1.1-5.6h0m-.9 3.8h0m-.8 1.7h0m-1.2-4.4h0m0-1.9h0m-.5 5.3h0m-1.2-2.7h0m-.6-3.5h0m-1.8 .8h0m-.1 5.2h0m-1-2.4h0m-2.5 2.5h0m-1.8-5.5h0m-.3 2.6h0m-.2 2.4h0m-2.1 .2h0m-1.4-2.2h0m-.5 3.8h0m-.4-6.5h0m-4.1 4.7h0m-.8-5h0m-4.8 1.5h0m-6.2 3.3h0m-10.3 4.2h0m10.7 2.2h0m2.6 2.3h0m1-2.2h0m3.1-2.7h0m.2 3.4h0m1.6-1.5h0m1.2 2.7h0m.4-1.9h0m2.8-.4h0m.2-2.4h0m.2 5.3h0m1.7 .6h0m.5-3.9h0m1.1 2.4h0m2-3.2h0m.2-2.4h0m.3 5h0m.3 2.3h0m2.3-6.1h0m.2 4.8h0m1.7-5.3h0m.5 2.4h0m.6 3.2h0m1.7-5.5h0m.6 6.7h0m.2-3.8h0m1.2-2.2h0m.2 5h0m1.2-2.3h0m1.1 3h0m.5-5.1h0m1 3.7h0m.2-2h0m2.5-1h0m0 2.6h0m1.4 2.1h0m.4-3h0m.1-3.8h0m0 2h0m1.8 1h0m.9 2.1h0m.3-4.8h0m.7 2.7h0m1.3 1.3h0m.9-2.2h0m.2-2.5h0m.7 6.5h0m.8-2h0m1.3-3.2h0m.2-1.9h0m.1 6.8h0m1.2-2.4h0m.6 1.9h0m1.1-5.2h0m.2 3h0m1 3.3h0m.4-1.8h0m.3-4h0m1.2 2.5h0m.1 2.9h0m1-6.8h0m1 3.3h0m.7 2.4h0m1.1-4.9h0m.2 3.1h0m.4 2.4h0m1.3-1.4h0m.3-4.5h0m1.6 1.9h0m.1 5.1h0m0-2.8h0m.3-4.5h0m1.3 5.6h0m.5-2.2h0m1.3 2.3h0m0-4.9h0m1.7 2.4h0m.1-3.2h0m.1 5.2h0m.6 1.8h0m.7-5.1h0m.7-2.1h0m.4 5.5h0m1.2-2.5h0m1.2 2h0m.1 2.5h0m.6-4.6h0m.9 3.5h0m0-5.1h0m.5 3.3h0m1.4-2.3h0m.4 3h0m.7 1.7h0m.5-5.9h0m1.1 2.2h0m.4 4.3h0m.6-2.2h0m0-4.3h0m1.3 5.5h0m1.3-2.8h0m.2-3.1h0m.4 6.1h0m.9-1.6h0m.3-3.5h0m.6 1.9h0m1.6 1.9h0m.5-4.5h0m.1 2.3h0m1.7 .9h0m.2 2.5h0m.7-4.7h0m2 4h0m.2-5.8h0m.7 3.7h0m.9 1.6h0m.2-5.7h0m.8 3.8h0m.2 3.7h0m.4-5.4h0m1.2-1.5h0m.2 6.4h0m.1-3.1h0m.8-1.6h0m.8 3.9h0m.8 1.7h0m.4-4.9h0m2 1.9h0m.9-1.8h0m.6 4.3h0m2.1-1.7h0m0-3.2h0m1.1 5.2h0m.5-3.7h0m1.9 1.7h0m.4-3.6h0m.2 1.8h0m1 2.9h0m.7-5.9h0m.6 4.4h0m2.2-.2h0m.7 2.4h0m.1-4.1h0m1.6-3.3h0m0 4.9h0m.5-1.8h0m1.5-2h0m.3 4.2h0m3.5-.5h0m2.1-.9h0m2.3 3.2h0m.2-3.2h0m2.3-.9h0m.9 4.5h0m1.5-6.4h0m.8 2.5h0m5.1 3.4h0m1.8-2.7h0m1.3-1.4h0m3.3 .3h0m1.5 1.3h0m6.7-3.7h0m20.6 4.3h0m20.5 5.8h0m-5.3 2.1h0m-46.9-1.6h0m-3.9 2.8h0m-.9-3.4h0m-5.6 3.5h0m-1-2.7h0m-4.6 2.3h0m-2.8-1.1h0m-.3-2.8h0m-1.3 5.3h0m-1.7-2.5h0m-.9-4h0m-1.7 4.8h0m-2 .6h0m-.3-3.6h0m-1.6 2.9h0m-.8-4.6h0m-1.6 4.4h0m-.1 2.1h0m-.7-7.5h0m-.5 2.1h0m-.8 2.1h0m-.4 2.2h0m-.8-4.5h0m-1.5-1h0m-1 3.4h0m-1.1 2.3h0m-.5-3.8h0m-.9-2.4h0m-1.4 4.8h0m-.2-3.2h0m-.7 5.2h0m-1.5-1.9h0m-.4-2.3h0m-.2-2h0m-.7 6h0m-1.3-3.5h0m-1 3.3h0m-.3-4.8h0m-.8 2.4h0m-.7-3.5h0m-1.9-.4h0m-.1 4.2h0m-.1-1.8h0m-.5 4.1h0m-1.5-2.2h0m-.5-4.3h0m-1.5 1.5h0m-.7 4.2h0m-.5-2.2h0m0-3.9h0m-.9 1.8h0m-1.3 4.1h0m-.4-5.2h0m-.3 3.3h0m-1.6 3.2h0m-.1-5.4h0m-.1 2.8h0m-1.4 1.1h0m-.2 2.1h0m-.9-3.6h0m-.4-2.3h0m-1.4-1.2h0m-.5 2.2h0m-.4 2.1h0m-1 1.7h0m-.4-3.2h0m-1.1-2h0m-1.2 4.7h0m-.6-2.6h0m-.6-1.8h0m-.5 3.2h0m-1.1-2h0m-1.9 3.2h0m-.7-1.8h0m0-3.1h0m-1.4 5.5h0m-1.4-3.8h0m-.6 2.6h0m-.4-4.3h0m-.6 2.5h0m-.6-3.8h0m-.4 5.8h0m-.3-3.3h0m-1.5-2.4h0m-.5 2.2h0m-.1 2.4h0m-.6 2.7h0m-.5-6.6h0m-1.4 3.5h0m-.1 1.8h0m-.1-3.7h0m-.9-1.7h0m-.9 3h0m0 2.2h0m-.7-3.9h0m-.6 5.6h0m-.8-4.3h0m-.2 2h0m-.3-3.8h0m-.5 5.5h0m-.9-3.2h0m-.8 2.6h0m-.2-5.6h0m-.6 1.9h0m-1.2 2.5h0m-.8-3.7h0m-1.1-1.4h0m-.7 6.3h0m0-1.9h0m-1.1-2.5h0m-.9 3.2h0m-.5-1.8h0m-.3-2.7h0m-.6 5.6h0m-.8-2.3h0m-1.1 2.7h0m-.7-3.4h0m-.1-2.1h0m-.6 4.3h0m-1.6-5.4h0m-.2 2h0m-.1 4.7h0m0-1.9h0m-2-2.9h0m-.2 2.4h0m-1.1-3.7h0m-.6 5.1h0m-.5-1.9h0m-.1 3.8h0m-.4-5.8h0m-2 1.6h0m-.1 2.3h0m-1.4-4.5h0m-.9 3.5h0m0-1.9h0m-.9-1.7h0m-1 5.2h0m-.1-3.2h0m-1.8 3.1h0m-.8-4.4h0m-.2 2h0m-.9 1.7h0m-1.5-4h0m-.5 2.4h0m-1.8-1.9h0m-.9 3.2h0m-4.1-2.5h0m-1.5 4.6h0m-2.7-6.8h0m-1.1 6.5h0m-9.8 .5h0m-.6-3h0m-8.9-1.2h0m3.2 7.4h0m.7 1.9h0m.7-3.2h0m7.9 4.5h0m.9-5.5h0m2.7 2h0m1 4.5h0m2.7-3.1h0m.4 3.3h0m.8-5.7h0m1.8 0h0m.5 4.2h0m2.2-2.3h0m1.8 .2h0m.2-3.7h0m.9 6.9h0m.6-5.6h0m1.4 5.2h0m.6-4.7h0m1.1 5.5h0m.9-2h0m.8-5.2h0m.4 3.6h0m.6 2.3h0m1.5-3h0m0 4.2h0m.2-7h0m1.1 1.5h0m.3 2.9h0m1.3-1.8h0m.8-2h0m.3 5.4h0m1-1.9h0m.6-3h0m1.5 5.4h0m.5-1.8h0m.5-1.8h0m1.4 3h0m0-5.7h0m1.2 1.4h0m.4 5.8h0m.6-3.6h0m1.3-2.7h0m.1 4.1h0m1.7-2.9h0m1 2.2h0m.8-2.5h0m.5-1.8h0m.3 7h0m.9-1.8h0m1-5.1h0m.6 2.1h0m.9 1.8h0m.3 2.3h0m1-6.5h0m.6 7.5h0m.3-4.9h0m.6 2.8h0m.9-4.5h0m.2 2.2h0m1.6-2h0m.3 1.8h0m.1 2.1h0m1.8-3.7h0m0 3.1h0m.2 2.3h0m1.6-4.1h0m.8 1.6h0m.5-4h0m.2 6.9h0m1.7-3.7h0m.2 2.7h0m.7-4.8h0m1.9 1.9h0m.3-3h0m0 6.9h0m1.3-5h0m.9 4.6h0m.7-5.8h0m.1 4.2h0m1.2-1.9h0m1-2.8h0m.1 5.1h0m.4 1.9h0m1.3-5.3h0m.1 2.1h0m1 3.2h0m.5-6.9h0m.6 2.2h0m.4 2.3h0m.9-3.7h0m.6 5.4h0m.2-3h0m.7-3.4h0m.6 1.7h0m.4 5.1h0m1.1-6.4h0m.3 3.1h0m1.2 2.1h0m.3-5.8h0m.3 2.5h0m.4 5h0m.8-2h0m.3-4h0m2.1 4h0m.4-4.1h0m0 1.8h0m1.6-1h0m0 3.4h0m1.5-5.8h0m.4 3.6h0m.2 2.8h0m1.4-6.3h0m.3 5.3h0m.2-2.8h0m1.3-1.9h0m.5 4h0m.6-2.2h0m1 3.5h0m.6 1.7h0m1.1-6.6h0m.4 3.6h0m.3 1.8h0m1-4.9h0m.9 4.7h0m0-2.6h0m1.1-2.9h0m1.6 3.3h0m.2 3.1h0m.5-6.3h0m1 2.7h0m.7 3.5h0m.4-5.2h0m.3 3.3h0m.9-4.8h0m.6 1.8h0m1.5 3.1h0m.6-5h0m1.2 2.2h0m1.2 1.7h0m.2-3.9h0m0 6h0m2-5.6h0m.7 1.8h0m1.5-1.2h0m1.4-1.1h0m2.2 2.5h0m1.1-2.6h0m.9 2.5h0m.3 4.3h0m.3-1.8h0m1.5-5h0m.5 4.4h0m5.3-4.2h0m.7 2.3h0m2.9-.5h0m3.5 1.3h0m.1-3.1h0m1 4.7h0m17.2-1h0m-7 11.4h0m-1.6-6.5h0m-.9 6.1h0m-6.4-4.2h0m-1.9 0h0m-1.9 3h0m-2.7-4.8h0m-6.4 5.2h0m-2-6.3h0m-.1 6.6h0m-.4-2.8h0m-.2-1.8h0m-2.4 2.7h0m-1.5-4.4h0m-.5 2h0m-.8 2.5h0m-.6 1.9h0m-1.4-2.4h0m-.6-2.9h0m-3.6 4h0m-.3-3.3h0m-1.1 1.9h0m-1 3.2h0m-.6-5.7h0m0 3.7h0m-1.6 2.3h0m-.9-5.2h0m-.2 3.7h0m-.5-1.7h0m-1.4 2.5h0m-.1-5.4h0m-.8 3.3h0m-1.3-2.6h0m-.9-1.7h0m-.1 5.2h0m-.3 1.9h0m-1.8 .2h0m0-6.6h0m-.4 2.3h0m-1.4 4.5h0m-.1-2.3h0m-.9-3.1h0m-.6 4.2h0m-.1-2.5h0m-1.5-3.9h0m-.2 6.9h0m-1.2-4.9h0m0 3.5h0m-.7-5.4h0m-1.2 2h0m-.3 4.7h0m-.3-2.7h0m-.5-3.8h0m-1.4 2.3h0m-.2 3.9h0m-.5-6.6h0m-1.1 2.3h0m-.1 1.9h0m-.7 1.8h0m-.7-5.1h0m-.2 1.9h0m-1.2 4.4h0m-.1-2.7h0m-1.6-3.3h0m-.7 2.3h0m-.8 3.2h0m-1.5-1.9h0m-.1-2.7h0m-.4 4.6h0m-1.5-3.6h0m-1-2.3h0m-.7 5.6h0m-.8-3.3h0m-1 1.8h0m-.4-3.2h0m-1 5.4h0m0-3.8h0m-1.1 1.5h0m-.4-4.2h0m-.6 1.9h0m-.3 4.5h0m-1-6.3h0m-.4 2.8h0m-.5 3.2h0m-1.3-5h0m-1.2 3.4h0m-.6 1.9h0m-.4-3.8h0m-.7-3.1h0m-1.6 6.7h0m-.6-5.7h0m-.1 2.9h0m-1.9 2.6h0m0-4h0m-.4 2.2h0m-1.5 2h0m-.1-5.8h0m-.3 3.7h0m-1.3-1.9h0m0-2.9h0m-.2 6.8h0m-1.4-6h0m-.1 7h0m-.6-3.4h0m-1.2 3.3h0m-.2-5.8h0m-.8 4h0m-.9-2.3h0m-.8 4.2h0m-.8-1.8h0m-.1-3.9h0m-1.8 1.8h0m-1.4-1.6h0m-.6-2.1h0m-.6 4.2h0m-.9-3h0m-.5 5h0m-1.2-3h0m-1.3 2.1h0m0-3.9h0m-1.1 1.5h0m-.9-3.1h0m-.8 7.2h0m-1-1.7h0m-1.3-4.9h0m-1.3 1.3h0m-.6 5.8h0m-.7-7.2h0m-.1 4.3h0m-1.2-2.6h0m-1.2 2.4h0m-.5-3.2h0m-1.7 1.5h0m-.3-2.4h0m-.4 4.2h0m-1.3-1.2h0m-.4-2h0m-1.3 4.6h0m-1.8-4.8h0m-1.2 2.5h0m-.3 3.9h0m-.5-6.5h0m-.3 4.6h0m-2.5 1.1h0m-1.6-.8h0m-.9-5h0m-2.2 3.9h0m-.5 2.5h0m-5-5.7h0m-2.7 2.7h0m-.4-4.6h0m-4.6 .2h0m-5.7 .5h0m-7.2 .6h0m7.1 10.8h0m17-1.1h0m3.8 .1h0m2.3 .4h0m.6 2h0m3.5-2.7h0m1.5 4.8h0m.2-6.1h0m1.8 1.5h0m.8 3.2h0m1.7-1.2h0m1.3-5h0m.4 5.7h0m.7-3.8h0m1.6 2.4h0m.3-2.1h0m1.6 4.8h0m1.2-2.6h0m.2-2.2h0m2.4 5.6h0m.8-6.7h0m1.2 4.9h0m.8-3.1h0m1.3 1.7h0m.2-3.2h0m.4 5.4h0m2.3-1.5h0m.2-3.9h0m.6 5.7h0m2-1.2h0m.6-1.8h0m1.5-2.6h0m.3 4.9h0m1.2-1.9h0m1.1-2.1h0m.1 4.3h0m1.6-1.7h0m1-3.2h0m.4 5.2h0m2.8-3.4h0m.6 2h0m.1-4.6h0m1.9 5.3h0m.3-3h0m1 4.2h0m.6-2.5h0m.1-2.4h0m2.2-1.3h0m.1 1.8h0m0 2.6h0m1.7-2.1h0m.1 2.6h0m.1-5.5h0m1.6 2.1h0m0 2.7h0m.1 2.4h0m1.2-6.3h0m1.2 1.4h0m.2 2.6h0m.3 1.8h0m.1-6.3h0m1.8 6.4h0m.2-2.3h0m.1-4h0m1.5-1h0m.5 4.4h0m.8-2.7h0m.4 4.1h0m.5-5.7h0m1.5 2.3h0m1.3 3.9h0m.2-5.4h0m.5 2.6h0m1.1 4.1h0m.5-2.8h0m.2-4.2h0m1.2 1.7h0m1.6-1.5h0m.5 6.3h0m1.7-4.8h0m0 2.4h0m.1 2.4h0m1.2-6.6h0m1.7 1.4h0m0 2.4h0m1 2.2h0m.6-5.8h0m2 0h0m1 6.4h0m.8-3.3h0m.2-2.8h0m2.3 4.2h0m2.2-2.3h0m1.9 1h0m2.9 2.3h0m.6-2h0m.1-3.4h0m1.5 1.9h0m1 4.1h0m.3-2.3h0m1.2-1.4h0m.5 3h0m.2-4.7h0m1.9-.3h0m1.4 4.5h0m.9-4.2h0m2 .1h0m9.4-1.5h0m2 1.4h0m.7 3.1h0m.8 1.8h0m1.2-2.5h0m.7-3.7h0m2.1 5.7h0m10.7-5.3h0m3.2 2.1h0m3.3 12.2h0m-4.3 0h0m-5.5-1.9h0m-4.2 1.1h0m-7.8-3.3h0m-6.9-2.7h0m-1.1 7.5h0m-2.1-2.5h0m-3.3-1.8h0m-.2 2.1h0m-.2-4.7h0m-2.8 .5h0m-1.9-.6h0m-.4 4.8h0m-2.5-3.5h0m-.2 3.3h0m-.1 2.2h0m-2.7-.8h0m-1.3-6.5h0m-.2 3.2h0m-.7 2.6h0m-1.8-1.4h0m-.3-4.6h0m-2.2 6.5h0m-.1-3.7h0m-1.6-2.4h0m0 4.4h0m-.8 2.6h0m-1.2-5.1h0m-.4 2.2h0m-3-1.3h0m-.7 1.7h0m-1.3-4.4h0m-.5 3h0m-.7 2.1h0m-.1 2h0m-1.9-1.6h0m-.4-2.4h0m-.4-2.1h0m-1.7 3.3h0m-.6-3h0m-.4 4.7h0m-1.4-4h0m-.5 3h0m-1.3-1.9h0m-.2-3.5h0m-1.1 5.5h0m-.7-3.6h0m-1.1 2.5h0m-1-2h0m0 5h0m-.7-6.9h0m-.6 5.1h0m-.7-3.7h0m0 2h0m-.6 2.9h0m-1.9-4.6h0m-.6 1.9h0m0 2h0m-1.7-4.5h0m-.5 3.2h0m-.1 2.3h0m-1.3-6.8h0m-.9 2.6h0m-1.5 4.5h0m-.2-3.1h0m-.2-2.5h0m-1.9 .3h0m-.7 3.9h0m-.8-1.8h0m-.7 3.3h0m-.1-7h0m-1.1 3.7h0m-.7-4.2h0m-.7 5.4h0m-.5-3h0m-1.5 1.7h0m-.5-1.8h0m-3.3 .2h0m-.4 1.8h0m-1.5-3h0m-1.4 3.2h0m-.1 2.6h0m-3-2.7h0m-.8-1.8h0m-1.8-2h0m-1 2.1h0m-.4 4.7h0m-1.6-2.7h0m-1.5-3.2h0m-.7 5.5h0m-1.9-1.3h0m-.6-2.1h0m-1.8-2.8h0m-1 2.5h0m-.6 2.6h0m-1.6-4.2h0m-2.4 4.3h0m-6.5 .3h0m-20.5 4.8h0m4.3-1.2h0m13.7 .8h0m2-.5h0m7.6-.7h0m1.5 6h0m2.3-5.3h0m0-1.9h0m2 5.6h0m2.1-5.7h0m.1 6.4h0m1.8-2.5h0m0-2.5h0m3.4 5.2h0m1.8-1.4h0m1-4.3h0m.6 5.4h0m1.5-4h0m1.1-1.8h0m1.9 2.6h0m1.2 2.7h0m1.8-3.9h0m.7 2.6h0m1.6-4.8h0m.8 2.1h0m.6 2.3h0m1.6 2.2h0m.3-4.6h0m.1 2.7h0m3-2.6h0m.8 3.6h0m1 1.8h0m.5-6.8h0m0 3.5h0m1.6 2.4h0m1.4-3.4h0m.9 1.9h0m.2-3.5h0m2 2.5h0m.2 3.5h0m.3-7.6h0m.5 2.6h0m1.3 1.5h0m.6-3h0m1.6 1.9h0m0 4.2h0m1-2.5h0m.3-3.4h0m1.8 3.2h0m1.5 1.8h0m.2-6h0m1.1 2.3h0m1.5-2.2h0m.3 3.5h0m3.1-.3h0m1.2-3.5h0m.8 7.4h0m1.1-4.3h0m1.2 2.9h0m1.2-6h0m.6 5.5h0m1.5-5.3h0m1.4 4.1h0m.1 3.1h0m.1-5.7h0m1.7 6.1h0m.4-1.8h0m.6-3.5h0m1.5-2.1h0m4.3 6.9h0m4-5.7h0m1.5 3.2h0m0 1.8h0m1.8-1.5h0m.3-3h0m2.6 2.9h0m3.9-1.8h0m.6 2.4h0m2.6-5.5h0m.2 2.3h0m1.6 4.5h0m5.7-3.2h0m.3-3h0m1.4 2.1h0m.6 1.7h0m3.6-1.3h0m1.4-1.7h0m7.1 1.8h0m-13.2 6.2h0m-2 3.5h0m-7.6-4.6h0m-3.7 4.4h0m-.7-1.7h0m-10.1-2.6h0m-.7 5.8h0m-.6-3.2h0m-1.5 4.1h0m-3-7.2h0m-.5 5.3h0m-2.1 2.1h0m-2.4-5.2h0m-2.4-1.6h0m-.7 1.7h0m-2.1-1h0m-2.6 4h0m-1.6 1.6h0m-1-4.2h0m-.1-2.8h0m-1.8 .5h0m-.1 6.2h0m-1.3-2.3h0m-.9 1.6h0m-.5-5.1h0m-2.7-.7h0m-.3 2.9h0m-3.3 4.1h0m-.1-7.1h0m-1.7 2.5h0m-3.4-.4h0m-1.4-1.8h0m-.8 4.9h0m-1.3-3h0m-4.7 .2h0m-2.4 0h0m-2.2-1.6h0m-1.3 6h0m-.1-3.3h0m-3.8 1.3h0m-.1-3h0m-2.4 3.5h0m-1.1-3.9h0m-1.8 4.2h0m-.5 2h0m-12.3-5.2h0m-9.7 1.7h0m-.9 3.2h0m-2.8-6.8h0m3.4 12h0m4.9-3.5h0m1.1 4.5h0m10-4h0m6 4.5h0m3.3-2.5h0m9.5-3.1h0m3.9 3.5h0m3.7-.1h0m.5-3.9h0m3 1.4h0m3.5 4.6h0m1.5 1h0m2.9-1.8h0m3.7-3.2h0m.2 4.7h0m1.9-5.8h0m0 3.3h0m5.6 3.7h0m0-2.6h0m4.4 1.4h0m10.1-.1h0m8.7-2.4h0m7.5-2.3h0m12.7 4.9h0m-12 6.9h0m-23.4-4.1h0m-2.4-.1h0m-3.4 6.3h0m-6.4-3h0m-2.1-2.3h0m-3.7-1.7h0m-3.4 1.1h0m-1.6 3.6h0m-4.1-3.6h0m-4 5.5h0m-8.4-4.8h0m-10.5-2.2h0m-20.8 1.1h0m30.6 6.9h0m12.8 1.1h0m33.1 1.1h0"/><path d="M418.9 38.4h0m22.5 9.2h0m-22.3 6.7h0m6.3 .1h0m5.6 .8h0m4.3-.9h0m1.2-4.9h0m6.7 3h0m5.9 .9h0m-1.6 9.5h0m-2.1 .4h0m-3.9-4.2h0m-2 .8h0m-4.6-.5h0m-2 3.9h0m-3.6-6.7h0m-5.7 5.3h0m-.8-4.1h0m-2 .1h0m-7.7 .4h0m-2.1 5.7h0m-2.3-3.7h0m-21.1 1.8h0m-4.6 9.1h0m20.1-1.8h0m11.2 1h0m1.5-4.5h0m1.6 1.4h0m10.9 3.6h0m2.4 .7h0m0-6h0m3.3 .9h0m2.2 3.4h0m5.4 1.4h0m3.7-5.9h0m2.8-.7h0m10 7.4h0m-13.9 3.1h0m-.5 4.4h0m-8.2-.4h0m-.1-4.1h0m-2-.6h0m-4 4h0m-.2-2.3h0m-6.6 .7h0m-2.7-1.8h0m-9.2 4.9h0m0-7.6h0m-1.1 13.2h0m5 2.2h0m5.9-7.2h0m6.2 2.7h0m4.3 .5h0m5.3-3h0m1.2 7.1h0m3-2.6h0m1-1.5h0m2.8 .3h0m1.4 3.4h0m1.4-1.6h0m5.3 .2h0m4.5-1h0m1.4-3.4h0m1.9 1.5h0m-10.6 8.7h0m-5.1 2.7h0m-4-4.2h0m-9.1 5.4h0m-2.7-4.5h0m-4.2-3.1h0m-2.3 2.5h0m-1.4-1.3h0m-6 5.6h0m-29.3 6.1h0m19.8-3.9h0m34.8 5.9h0m5.5-3.8h0m-9 5.9h0m-4.3 1.2h0m-103.1 18h0m-153.3 5.6h0m206.2-.2h0m-76.7 21h0m-5.7 6h0m-22.8-2.8h0m-26.3-1.2h0m49.9 11.5h0m4.9-3.1h0m2 1h0m16.8 2.3h0m-21.1 7.6h0m-25.1 2.4h0m-19.4-4.7h0m-10.7-1.5h0m-2.5 6.2h0m-82.2-.9h0m93.9 3.9h0m2.9 1h0m8.4-.3h0m21-.1h0m1.1 3.8h0m1.9-2.1h0m23.5 4.3h0m-31.7 7.6h0m-19.3-.1h0m-3.7 .2h0m-3.1-6.7h0m-1.5 2.5h0m-35.4-2h0m-38.3 2.1h0m69.8 8.5h0m7.8 1.4h0m15 5.9h0m-30.6 2.9h0m-4-4h0m-2.4 2.6h0m-7.2-1.4h0m-2.7-2.9h0m-70.6 2.8h0m75.9 7.9h0m1.8 4.6h0m-76.6 6.3h0m-33.3 5.4h0m.8 2.6h0m2.5-.4h0m3.9 1h0m63.8-1h0m50.7-4.2h0m-8.1 6.9h0m-20.3 3.4h0m-34-.4h0m-5.1 3.1h0m-8.4-1h0m-.8-1.8h0m-1.8 .5h0m-2-4h0m-.5 3.2h0m-.6 4.2h0m-1.7-3h0m-1.1 3.2h0m-1-2.1h0m-1.8 .6h0m-2.3 .7h0m-1.2-2.2h0m-1.9 2.8h0m-1.1-3h0m-.3-2.3h0m-1.8-2.1h0m-2.3 5.2h0m-2.2-.2h0m-.8-1.9h0m-.9-1.6h0m-.3 3.9h0m-2.3-.8h0m-1.5 1.8h0m-.3-3.9h0m-.2-2.4h0m-.8 4.7h0m-1.9-.1h0m-.8-2.9h0m-2.1 1.8h0m-.8 2.8h0m-1-6h0m-.3 7.2h0m-2.6-1.6h0m-1.4-2.9h0m-5.6 2.4h0m-1.9 1.4h0m-1.9 0h0m-.4-6.4h0m-.1 3.9h0m-4.6-.9h0m-3.1-.1h0m-16.6 9h0m0-1.9h0m8 3.2h0m5.1-1.8h0m1.7 .8h0m3.7 2.2h0m1-3.8h0m.1 2.3h0m.8-5h0m2-.3h0m.8 6.8h0m.9-4.6h0m3.5 1.2h0m.3-2.6h0m1.9 .5h0m.1 3.4h0m2.2-.8h0m.7-2.1h0m.9 3.7h0m.6 1.7h0m.6-7.2h0m.1 3.1h0m.6 1.9h0m.5-3.6h0m2.6 1.5h0m.9 3.8h0m2.9-2.5h0m.4 2.8h0m.6-6.2h0m.9 4.8h0m.9-2.7h0m1-1.7h0m.8 4.5h0m1.9 .3h0m0-2.1h0m.2-3.6h0m1.8 .1h0m.6 2.6h0m.2 3.9h0m.8-5.6h0m.3 3.6h0m1.2-4.8h0m1.7 3.5h0m.5-3.9h0m.1 5.7h0m1.5-3.6h0m.4 5.1h0m.8-1.9h0m2.1-1.3h0m0-2.8h0m.9 5.4h0m.7-4.3h0m1.3-1.5h0m.2 5.1h0m1.3-2.2h0m1.9 3.4h0m1.2-4.1h0m1.4 4.3h0m.3-1.8h0m.4-2.7h0m4.1 .2h0m4.4-2.7h0m.9 7.3h0m2.3-6.5h0m3.7 5h0m2-1.1h0m1.1-1.7h0m3 4.1h0m1.6-4.4h0m.1 3.8h0m3.1-3.9h0m21.1-.7h0m1-1.5h0m3.5 4.7h0m19.7-1.2h0m-20.8 8.1h0m-7.6-.7h0m-2.4 1.4h0m-7.2-.3h0m-1.4-2.1h0m-.8 4.6h0m-3-1.8h0m-1-1.6h0m-1.5-3.7h0m-1.2 3.5h0m-1.3-2.3h0m-3 0h0m-1.6 1.2h0m-1.2 4.4h0m-1.3-1.4h0m-.9-3.4h0m-1.5 4.6h0m-.6-1.8h0m-.6-4h0m-.7 1.7h0m-.7 2.5h0m-1.8 1.2h0m-.3-4.7h0m-1.6 3.1h0m-.2-1.9h0m-.7 4.1h0m-1.3-2.9h0m-.2 1.9h0m-1.6 1h0m-.7-1.8h0m0-2.6h0m-1.9-2.4h0m-.1 3.8h0m-.2 1.9h0m-1.8 0h0m-.4-2.1h0m-1.3-1.4h0m-.3 2.3h0m0 2.2h0m-1.5-5h0m-.1 3.7h0m-1.1-1.7h0m-.1-3.8h0m-.6 7.2h0m-1-5.5h0m-.3 3.5h0m-1.7 1.9h0m-.4-5.9h0m-.3 3.8h0m-.1-2h0m-1.7 3.3h0m-.5-2.4h0m0-2.2h0m-1.9-.1h0m-.3 4.2h0m-.1 1.9h0m-1.1-4.6h0m-.6-2.2h0m-.4 4h0m-.1 2h0m-1.3-5.5h0m-.8 6.2h0m-.6-4.7h0m-.2 2.6h0m-.3-4.6h0m-1.5 3.2h0m-2.3 1.4h0m-.2-2.2h0m-.1-2.5h0m-1.5 3.5h0m-.2-4.1h0m-.1 2.2h0m-1.4 5.4h0m-.4-3.3h0m-1.3 2.4h0m-.4-7h0m-1.3 3.9h0m-.2 3.5h0m-.9-5.4h0m-.3 3h0m-2.3-1.9h0m-.3 3.2h0m-1.8-2.5h0m-2.1 .8h0m-1.6 1.6h0m-.4-3.8h0m0-2.2h0m-1.5 1h0m-.9 5.6h0m-.1-2.3h0m-1.9 2.3h0m0-2.4h0m-.3-3.7h0m-.2 1.9h0m-2.1 3.9h0m-.3-3.8h0m-1.3 2.4h0m-2.2-2.8h0m-.2 1.8h0m-.7 3h0m-1.8-6.2h0m-.1 6.4h0m-.3-3.5h0m-.7 1.7h0m-1.3-4.9h0m-.6 6h0m-.5-3.4h0m-3 4h0m-3.6 .5h0m-2.3-5h0m-.6 2.8h0m-12.7 9.8h0m1-3.9h0m5.9 1.5h0m.5 2.2h0m.9-3.9h0m1.6-1.3h0m.5 5.5h0m3.5-2.8h0m2.3-.9h0m.8 2.7h0m1.3-5h0m.7 4.4h0m.6-1.7h0m.2 3.7h0m1.4-1.5h0m1.2-1.7h0m.7 2.7h0m.3-4.4h0m1-1.8h0m.4 4.1h0m.4 2.7h0m1.9-3h0m2.1 .4h0m.1-4.8h0m1.2 6.2h0m.2-3.9h0m1-2.3h0m.4 3.8h0m.9 3.1h0m.5-5.9h0m2.2 1.4h0m0 1.9h0m.4 2.2h0m1.3-1.7h0m.9 1.6h0m.5-4.2h0m1.1 2.8h0m.8-3.5h0m1 3.6h0m.7-4.4h0m.1 6.3h0m.9-2.5h0m.3-1.9h0m.5-2.9h0m1.4 6.7h0m.1-2.2h0m.4-3.9h0m.8 2h0m.5 3h0m.8-1.8h0m1.1-1.5h0m.4 3.2h0m.6-4.9h0m.7 2.6h0m.5 2.3h0m1.1-3.9h0m.8 4.2h0m.2-1.8h0m1.4-3.2h0m.1 6.2h0m.6-2.7h0m1.2-2.4h0m1.1 2.8h0m.6-3.4h0m.2 5.5h0m1.9 .4h0m.7-2.7h0m.5-2.4h0m1.2-1.3h0m.1 5.3h0m.9-2.7h0m1.1 3.7h0m.2-5.2h0m.9 2.7h0m1.1 1.5h0m0-3.7h0m.6-2.1h0m.8 7.1h0m.8-6.3h0m.2 2.4h0m.7 1.8h0m.7-3.2h0m1.4 3.9h0m.6-3.6h0m1.8 1.9h0m0 3.2h0m1.7-4.5h0m.7 2.8h0m.1-5.4h0m1.7 .5h0m.2 5.7h0m0-1.8h0m.8-2.3h0m1-1.7h0m.9 4.5h0m.2 2.2h0m.2-4.7h0m1.7 3.2h0m.1-2.5h0m.8 4.2h0m.6-6.4h0m.1 3.7h0m1.8 .4h0m1.7-3h0m.1 4.5h0m1.5-6h0m.6 5.3h0m0-2.3h0m1.6-1.2h0m1.3-2h0m1.8 .7h0m.2 4.6h0m.3-2.7h0m1.5 2.4h0m1.4-1.3h0m.6-4.6h0m.1 2.7h0m.1 4.1h0m2-1.1h0m.5-5h0m.1 2h0m1.9 .9h0m.4-3.2h0m2.6 3.5h0m1.9 2.4h0m.2-5.4h0m.6 2.1h0m.9 2.7h0m4.3-1.6h0m4-1.4h0m.7 4.9h0m3.4-.1h0m3.6-3.4h0m11.1-.4h0m-16 8.8h0m-4.5 1.3h0m-1.4-3.1h0m-.3 4.2h0m-1.3-5.7h0m-2.4-.1h0m-4 1.3h0m-.1 2.5h0m-2.8-3.3h0m-.6 5.2h0m-1.1-5.9h0m-1.3 4.4h0m-.3-2.9h0m-1.8 3.2h0m-1 1.7h0m-.8-1.9h0m-1.2 1.3h0m-.6-2h0m-.8-4.4h0m-.6 7.2h0m-.3-5h0m-1 3.2h0m-1.5-1.6h0m-.9 3.3h0m-.6-7.2h0m-.1 5.4h0m-1.7-3h0m-.1 3.8h0m-1.1-2.4h0m-1.4-2.9h0m-.4 1.8h0m-.5 1.9h0m-1.4-3.1h0m-1.4 3.5h0m-.5-3.7h0m-.6 2.1h0m-1 2.1h0m-.7-3.9h0m-.5 5.9h0m-.8-3h0m-.5 1.7h0m-1-6.1h0m-.1 3.3h0m-1.1 1.6h0m-1.1-2h0m-.4 3.1h0m-1.3-5.3h0m-.5 3.2h0m-.2 2.5h0m-1.6-3.5h0m-.2 3.2h0m-.2-6h0m-1.9 1.2h0m-.4 3.7h0m-.4 2.6h0m-.5-4.2h0m-1.3-3.2h0m-.4 4.8h0m-.9-2.9h0m-1.2 4h0m-1-5h0m-.1 3h0m-1.1-1.4h0m-.2 4.1h0m-1.4-1.8h0m-.2-2.2h0m-.5 4.3h0m-1.2-5.5h0m-.1 3.4h0m-.8 1.6h0m-.5-6.1h0m-.6 4.3h0m-.4-1.9h0m-.3 3.6h0m-.6-5.8h0m-1.2 4.4h0m-.5-1.8h0m-1.4-2.7h0m-.6 2.2h0m-.1 3.3h0m-1.3 1.5h0m-.2-6.8h0m-1.7 3.4h0m-.1-4.5h0m-.4 2.2h0m-.9 4.7h0m-.9-4.4h0m0 2.4h0m-1.7-1.3h0m-.2 2.7h0m-.9-4.2h0m-.7 2h0m-.8 2.4h0m-.4-5.1h0m-.8 2.7h0m-.1 3.8h0m-.6-7.7h0m-.3 5.8h0m-1.3-4.8h0m-.3 4h0m-1 1.5h0m-.1-4h0m-1.3-2.1h0m-.5 2.8h0m-.1 4.5h0m-.1-2.3h0m-1.7 .5h0m-.2-2.9h0m-.4-1.8h0m-1.1 3.9h0m0 2.4h0m-1.7-7.5h0m-.3 3.3h0m-.4 4.1h0m-.8-6.4h0m-1 4.2h0m-.9-3.6h0m-1 2.2h0m-1.2-2.7h0m-.1 4.8h0m-.8-2.3h0m-1.9-.1h0m-1 2.8h0m-1.3-5h0m-1.1 1.6h0m-.6-2.5h0m-1.1 3.5h0m-.2 3.3h0m-.2-5.2h0m-1.7 2.1h0m-1-1.7h0m-2.5 .6h0m-1.1-1.5h0m-2.1 2.3h0m-1-2.3h0m-1.7 5.8h0m-.8 5h0m1.8 2.5h0m.7-1.7h0m1.4-1.3h0m1.2 2h0m3.2-4.3h0m2 1.8h0m0 3.4h0m1.6-2.3h0m1-2.6h0m1 1.8h0m.2-3.1h0m.9 4.7h0m2.4-3.6h0m.3 2h0m1-3.8h0m.9 3.4h0m.7 2.6h0m.8-1.6h0m.5-2.4h0m.5-1.8h0m.5 5.8h0m1-3.1h0m1.8-1.2h0m.4 2.2h0m.3 1.9h0m1.7 .8h0m.7-4.9h0m1.1 3.5h0m.1 2.7h0m1.9-4.4h0m.7 3.4h0m.5-6h0m.6 3h0m.8-1.9h0m.4 3.6h0m.7 1.9h0m.1-3.5h0m1.8 .6h0m1.1-2.5h0m.9-1.8h0m.4 4.3h0m1.2 1.9h0m.8-4.9h0m.3 3.3h0m1 2.5h0m0-4.4h0m1-2.3h0m.7 6.1h0m.2-4h0m1.7 4.8h0m.4-4.1h0m1.5 1h0m.1-2.8h0m.3 5.8h0m1.3-7.2h0m0 3.2h0m.1 2.7h0m1.7-2.7h0m.4 2.8h0m.4-5.1h0m1.9 1.8h0m.7-1.7h0m.6 3.2h0m0 1.9h0m2.1-3.7h0m.6 1.7h0m.2-3.6h0m.1 6.2h0m1.5-2.6h0m.2-3.4h0m1.4 4.5h0m.7-3.4h0m.1-1.9h0m.3 7.3h0m1.6-5h0m.3 2.8h0m.1 2.6h0m1.1-6.6h0m0 2.2h0m.8 3.4h0m.9-6.3h0m.5 2.9h0m.8 3.1h0m0-4.8h0m1.4 1.5h0m.3 1.8h0m.6 2.7h0m.4-7h0m1 1.8h0m.7 3.7h0m0-6h0m1.8 1.6h0m.1 2.2h0m1.7 1.2h0m.4-3h0m1.7-1.5h0m.2 2.2h0m.8 2.5h0m1.4-3.2h0m.6-1.7h0m1.6 4.9h0m.2-3.4h0m.1-2h0m3 1.2h0m.3 3.3h0m1.9 .7h0m.3 1.9h0m0-6.1h0m1.8 4.6h0m3-.7h0m.8 2.8h0m0-5.3h0m1.5-1.1h0m.6 3h0m1.2-4.1h0m.1 2.3h0m2.1-1.1h0m1.8-1h0m1.1 3.2h0m5 2.7h0m.4-1.9h0m5.5-2.1h0m.1-1.8h0m4.9 2.6h0m2.1-2.4h0m.5 4.3h0m8.2 2.8h0m-7.3 4.5h0m-4.3 .7h0m-3.5-4.9h0m-4.6 7.5h0m-1.3-1.6h0m-3-1.4h0m-3.7 1.6h0m-1.9-1.1h0m-3.6-4h0m-1.8 4h0m-2.2-4h0m-1.3 4.2h0m-.2-2.9h0m-2-.3h0m-.4 2.8h0m-2-2.3h0m-.2-2.6h0m-.7 7.7h0m-1.3-2.2h0m-.4-3.3h0m-1.2-2.3h0m-.6 4.6h0m-.2 2h0m-.8-4.4h0m-2 1.1h0m-.8-2.9h0m-1 2.5h0m-.5 2.7h0m-.4-5.1h0m-.6 3.6h0m-1.4-3.5h0m-.3 3h0m-.8 2.4h0m-2.2 .4h0m-.2-4.4h0m-1.6 2.5h0m-.3-3.6h0m-1 2.2h0m-.8-2.3h0m-.4 3.9h0m-1.4-1.4h0m-1.4 4h0m-.7-1.9h0m-.3-2.5h0m-1.5-1.2h0m-.3 3.4h0m-.8 2.5h0m-.8-6.9h0m-.2 5.1h0m-.1-2.3h0m-1.6-1.1h0m-.2 4.6h0m-.1-2.1h0m-1.6-2.9h0m-1.2 1.3h0m-.4 3.1h0m-.3-6.1h0m-1.2 3.3h0m-.8 2.7h0m-.3-4.2h0m-.4-1.9h0m-.9 4.7h0m-.5 2h0m-.5-5.7h0m-1.1 4.6h0m-.4-1.8h0m-.3-2.6h0m-1 6h0m-.6-5.1h0m-.7 2.8h0m-1.1-2.1h0m-.3-2.3h0m-.6 7.1h0m-.7-5.8h0m-.9 3.8h0m-.3-2.5h0m-.6-2h0m-1.4 3h0m-.7-2.3h0m-.2 4.9h0m-.9-6.5h0m-.2 3.6h0m-1.5 1.7h0m-.4-4.5h0m-.1 2.2h0m-.6 3.7h0m-1-1.5h0m-1.1 1.6h0m-.6-2.8h0m-.3-2.1h0m-.8 4h0m-.2-5.6h0m-2.2 4.1h0m-.3-2.5h0m-1-1.7h0m-.8 3.3h0m-1-1.9h0m-.8 4.9h0m-.8-3h0m-.2-3.1h0m-1.3 6h0m-.6-6.4h0m-1.1 3.7h0m-.8 2.5h0m-.4-6.5h0m-2 2.9h0m-.5-2.1h0m-1.4 2h0m-1.1 1.6h0m-.4-4.5h0m-.7 1.7h0m-1.4 3.7h0m-.8-2.7h0m-1.5 1.4h0m-.7-3h0m-2.5 4.9h0m-1.7 1.9h0m-1.5-2.2h0m-.2-5.6h0m-2.6 5h0m-2.6-3.4h0m-6.8-.8h0m3.4 11.3h0m15.5 1h0m2.9-4.5h0m.7 6h0m1.1-3.3h0m.9-3h0m.1 4.5h0m1.8-4.3h0m2.2 6.4h0m1.3-6.8h0m.4 2.5h0m1.7 .9h0m.3-2.3h0m2 5.8h0m1.3-3.4h0m.8-3.5h0m.7 4.8h0m1.9 1.8h0m.8-4.6h0m.4 2.5h0m1.3-3.2h0m.8 2.7h0m.7 1.9h0m.2-5.2h0m1.4 2.7h0m1.7-3h0m.1 5.3h0m.1-2.6h0m2.8-2.1h0m.4 3.4h0m2 1.2h0m0-3.9h0m1.5 5.5h0m.2-5h0m.1 2.3h0m3.2-3.7h0m.6 3.6h0m.6 1.7h0m1.2-4h0m.7 4h0m1-6.1h0m.1 3.5h0m3.2 2.7h0m.1-2.6h0m.1-3h0m1.7 .8h0m.5 5.3h0m.6-2.3h0m1.4-2.1h0m.7 4.7h0m1.8-4.9h0m1.1 2.7h0m.4 2.7h0m0-6.5h0m.4 2.2h0m1.3 1.6h0m.4 2.3h0m1.3-6h0m1.4 4.4h0m.7-3.7h0m.8 5.8h0m.4-3.9h0m1.1-2.1h0m.6-1.8h0m0 7.8h0m1.5-3.1h0m.3-3.8h0m.1 6.2h0m1.4-1.4h0m.1-5.6h0m4.4 5.3h0m0-3.5h0m1.3 5.1h0m.6-6.6h0m.3 3.8h0m1.8-.7h0m.2-2.4h0m.2 5.8h0m2-3.7h0m1.4-1.4h0m3 .3h0m.8 5.6h0m.9-1.7h0m1.5-1.9h0m.2-2.2h0m3 5.4h0m.8-2.5h0m.9-2.2h0m0-2h0m13.3 .8h0m4.6 4h0m-17.9 5.8h0m-1.5-1.4h0m0 2.4h0m-5.3-2.5h0m-1.2 3.9h0m-2.3 1.3h0m-2.1-1.2h0m-1.6-5.1h0m-.1 6.1h0m-2-2.1h0m-.7 2.1h0m-1-2.9h0m-3.3-.5h0m-1.6-1h0m-.1 2.8h0m-1.5 1h0m-1-4.4h0m-1.1 4.2h0m-.5-2.9h0m-.2 4.9h0m-1-3.4h0m-1.1-2.2h0m-.3 5.2h0m-1.2-7.3h0m-.6 4.4h0m-2.4 .7h0m-.2-4.2h0m-1.2 1.3h0m-.6 4.6h0m-.3-1.9h0m-1.1-4.2h0m-1.6 3.6h0m-.4-2.6h0m-2.5 3.2h0m-.4-2.8h0m-1 1.7h0m-.3 3.6h0m-.5-5.2h0m-2.7-1.1h0m-.1 5h0m-1.3-3.2h0m-1.2-2.7h0m-.3 4.4h0m-.7-2.7h0m-1.2 3.2h0m-1-2.1h0m-1.1-1.9h0m-.6 6.2h0m-1.8-4.2h0m-2.8 .6h0m-.3-3.1h0m-.8 5h0m-.7-3.5h0m-3-.8h0m-.1 1.9h0m-2.1-.5h0m-1-2.8h0m-.1 7.7h0m-1.1-5.7h0m-1.4 3.5h0m-.1 2h0m-1.3-7.6h0m-.4 6.1h0m-2.1-3.8h0m-5.2 .5h0m-1.4 1.2h0m-.1 3h0m-2.2-4.1h0m-2 3.3h0m-2.7-5.9h0m-3.1 6.1h0m-6.3 4.5h0m7.7-.6h0m3.8-.8h0m1.5 1.5h0m4.5-.2h0m2.9 5.1h0m0-2.4h0m5.5 1.6h0m2.3-5.4h0m3.2 .2h0m2.2-.2h0m1.1 2.7h0m1.8-1.5h0m.9 4.2h0m1.8-3.4h0m.7-2h0m2.9 .7h0m1 4.3h0m1.3-4.3h0m.2-2.2h0m1.9 2.6h0m.6 1.7h0m2.2 .8h0m2.1 1.8h0m.9-3.3h0m1.1 2.2h0m.9-1.9h0m.8-3.2h0m1 2.2h0m.4 2.1h0m1.4-5h0m.6 6h0m1.5-3.7h0m.9-2.2h0m.3 5.1h0m1.7-.6h0m.4-2.5h0m1.5 5.2h0m1.5-5.4h0m5.9-1.9h0m.6 7h0m1.7-1h0m1.3-5h0m.7 4.5h0m.5-2.4h0m10.6 2.4h0m7.9-1.3h0m2.2 2.8h0m1.7-7.1h0m-3.6 12.8h0m-12.1-2.4h0m-2.2 0h0m-4.7 2.9h0m-.6 1.7h0m-2 .1h0m-5.9-7h0m-4.4 5.1h0m-.4-1.9h0m-1.6 3.1h0m-2.7-6.2h0m-2.4 5.9h0m-2.1-6h0m-1.2 4.1h0m-3.3-2.3h0m-4.2-2h0m-2.9 5.4h0m-.7-4.8h0m-.3 2.9h0m-.4 3.6h0m-4.4-5.4h0m-3.3-.8h0m-1.7 5.6h0m-17.2 3.3h0m10 2h0m.2-1.9h0m25-1.2h0m3.1 2.9h0m2.8 2.6h0m.9-5h0m1 2.1h0m22.3-3.2h0m-25.7 8h0m-8.1 2.5h0m.3 7.2h0m31.3 .4h0"/><path d="M437.6 49.1h0m12.3 5.4h0m-1.3 7h0m-16.4 2.1h0m-9.9-4.6h0m-10.8 4.5h0m.3 8h0m2 .2h0m22.3-2.9h0m4.7 3h0m6.1-6.3h0m1.9-.5h0m-4.4 10.6h0m-11.6-1.3h0m-3 2.6h0m-.9-2.4h0m-.2 4.1h0m-.9-1.9h0m-16.4 4.7h0m14.6 2.2h0m5.9-.9h0m6.9 2.8h0m6.5 .2h0m2.9-.1h0m-10 19.3h0m-1.6 1h0m-107.8 18.3h0m-6.2 40.2h0m-45.2 11.1h0m-20.1 .7h0m1.1 7.7h0m5.1 7.2h0m11.5 12.5h0m-37.4 .2h0m-9.1-3.2h0m19.7 26.4h0m-81.1 6.5h0m-7.8 5.8h0m-13.7-3.2h0m-3.2-.7h0m-.6 2.4h0m-.8-4.4h0m-1.4 4.2h0m-3.4-.4h0m-5.3 .1h0m-9.1 1.2h0m-27.4 6.2h0m20.8-2h0m4.2-1.7h0m.9 6.7h0m1.8-4.7h0m.8 4.9h0m1.3-6.1h0m1 5h0m1.3-4.2h0m.3 1.9h0m1.9-1.8h0m.2-2.2h0m1.5 6.4h0m.6-2.6h0m.1-2.9h0m.9 4.5h0m.6-2.7h0m.8 3.9h0m.7-2.3h0m2.3-.8h0m1.4 3.8h0m.4-4.6h0m.2 1.8h0m1.3 2h0m.4-6.4h0m.4 4.4h0m2.5 1.1h0m1-4.5h0m1.3 5.8h0m1.9-2.1h0m.5-4.4h0m1.5 3.8h0m1.6 1.9h0m.6-5.3h0m.9 4.3h0m.1-1.8h0m1.3-3.8h0m.1 7h0m1.4-3.6h0m.6-2.9h0m.7 4.6h0m1.1 2.1h0m1.6-2.9h0m2.2 .8h0m2 2.1h0m1.7-4h0m.4 2.6h0m2.8 2.1h0m1.5-5.2h0m12.7 2h0m1.8-1.2h0m5.3-1.9h0m1.3 6h0m22.5-6.6h0m-6.4 12.3h0m-14-.2h0m-3.4-1.8h0m-3.5 3.1h0m-1.8-.1h0m-.1-4.1h0m-2.5 4.8h0m-1.5-2.2h0m-2.8-1h0m-1.3-1.6h0m-.5 3.5h0m-.8-4.8h0m-2.4 4.4h0m-.7 2.3h0m-2.1-1h0m-.5-2.8h0m-1.7-.8h0m-.6 2.7h0m-1-4.9h0m-1.6 5.4h0m-1-4.6h0m-1.7 3.1h0m0 2.1h0m-.2-6.2h0m-1.6 6.9h0m-.9-1.9h0m-1.7-1.2h0m-.2 3.4h0m-.9-6.3h0m-1 4.8h0m-1.4-2.9h0m-.5 4.2h0m-.7-5.8h0m-.2 3.1h0m-1.5 2.3h0m-.1-3.4h0m-.8 1.8h0m-.6-5.1h0m-.8 3.7h0m-.5 3.6h0m-.9-7.8h0m-.1 2h0m-.3 3.5h0m-1.4 1.7h0m-1-2.3h0m0-2h0m-2.1 4h0m-.1-3.7h0m-.5 1.7h0m-.1-3.9h0m-1.2 2.7h0m0 4h0m-.7-6.1h0m-1.2 2.6h0m-.4 2.5h0m-1.4-2.3h0m-.6 3.3h0m-.4-6.6h0m-.8 1.9h0m-.3 2.6h0m-1.6-1.4h0m-1.6 1.8h0m-.3-4.2h0m-1 1.8h0m-1.3 3.8h0m-.8-3h0m0-4.1h0m-1.5 2h0m-.7 4.5h0m-.2-2.2h0m-.1-3.8h0m-1.6 6.3h0m-.2-1.9h0m-.4-2h0m-1.6 3.1h0m-.6-2.2h0m-1.7-2.4h0m-.5 2.4h0m-1.4 1.7h0m-.6 2.1h0m-1.3-2.5h0m-1.3 1.7h0m-.4-3.6h0m-1-1.7h0m-.7 3.3h0m-2.2-3h0m-.3-2.1h0m-.4 5.5h0m-2.1-1.9h0m-1.1 3.7h0m-5.1 .6h0m-2.1-1.7h0m-12.7 7.9h0m9.8-2.6h0m1.2 3.3h0m2.7-2.5h0m2.7-1.6h0m2.3 0h0m.7 3.9h0m2 .4h0m.2-3h0m1.4 1.3h0m.4 1.9h0m2.4-6.3h0m.4 6.2h0m1.2-3.3h0m1.3-2.7h0m.7 4.5h0m1.7-2.1h0m.4 4.3h0m.1-6.1h0m1 3.9h0m1.3-5.3h0m1.4 6.9h0m.2-4.1h0m1.7 1.7h0m.6-2.3h0m1.3-1.2h0m1.4 4.8h0m.1-3.4h0m.4-2.4h0m1.3 5.2h0m.3-2.2h0m1.1-1.4h0m.6 5.7h0m.2-3.3h0m.2-4.3h0m1.5 3.3h0m.1 3.8h0m.2-6.2h0m.1 4.2h0m1.5-1.4h0m.3 2h0m.3-4.6h0m1.2 2.4h0m.7 3.6h0m.1-1.9h0m1.1-2.2h0m0-2.1h0m1.5 3.6h0m.4 1.9h0m1.6-3.9h0m.1 2.2h0m1.1-3.5h0m.3 2.4h0m.1 2.3h0m.5 1.8h0m1.8-1.3h0m.1-5.2h0m.2 3.4h0m1.9-1.8h0m.3 2.9h0m.6 2.2h0m.9-5.6h0m.1 2.3h0m1.5 2.1h0m0-5.5h0m.3 3.3h0m1.7-1h0m.7 2.9h0m.1-5.1h0m1.7 4.9h0m.6-3.1h0m1.8-.6h0m.2 3.8h0m1.3-4.8h0m.1 3.3h0m1.3 2.3h0m.8-4.4h0m.7 2.1h0m1.3-4.6h0m.1 5.8h0m.2-3.5h0m2.3-.7h0m.2 5.2h0m.1-1.8h0m1.7-3.8h0m.6 5.9h0m.5-4.3h0m.4 2.4h0m1.6-4.1h0m.1 2.2h0m.9 1.7h0m.6 2.7h0m.8-5.9h0m.8 2.9h0m1.3-3.8h0m.5 3.2h0m1.3 3.6h0m1.3-1.8h0m.3-5.5h0m.4 1.8h0m1.7-1.2h0m1.3 4.9h0m.7-3h0m2-1.7h0m.5 3.9h0m.7-2.4h0m1.6 2.7h0m1.3-3.8h0m.4 2.1h0m3.2 .6h0m.8-2.1h0m1.5-1.6h0m2.1 .1h0m15.7 2.8h0m-8.9 9.1h0m-3.2 1.3h0m-3.8-4.1h0m-2.3 2.6h0m-2.3 1.8h0m-2.8 0h0m-2-2.7h0m-.9 3.3h0m-.1-5h0m-1.7 5.1h0m0-2h0m-2 1.4h0m-.7-6.3h0m-.4 3.7h0m-1-2.3h0m-1.3 2.5h0m-1.8-.5h0m-.1 2h0m-1.1 1.4h0m-.2-5.5h0m-.8 1.7h0m-.4 2.6h0m-1.4 1.6h0m-.1-4.9h0m-1.2 2.2h0m-1.6-3.7h0m-.5 2.4h0m-.5 3h0m-1.8-5.1h0m-.3 3.6h0m-.9 2.3h0m-.3-3.6h0m-.7-2.5h0m-1.3 1.7h0m-.1 1.8h0m-.9 2.4h0m-1-4.5h0m-.7 3.2h0m-1.1-4.2h0m-.3 6.2h0m-.7-4h0m-.1 2h0m-1.3-5h0m-.4 2.4h0m-.4 3.8h0m-.5-2h0m-1.8-1.6h0m-.3 4h0m-.1-1.9h0m-.1-4.4h0m-1.6 5.6h0m-.4-5.5h0m-.9 3.5h0m-.3-1.8h0m-.4 4.8h0m-.7-6.2h0m-.7 3.6h0m-.5-2.1h0m-2.4 3.7h0m-.1-3.2h0m-.5-2.5h0m-1.4 2.9h0m0 1.9h0m-.2 2h0m-.2-6.4h0m-1.2 5.2h0m-1.3-4.5h0m-.5-1.9h0m0 4.2h0m-.5 3.2h0m-.9-5.1h0m-.6 2.6h0m-1.3-2.9h0m-.2 4.2h0m-1.8-2h0m0-3.3h0m-.7 5.2h0m-.7-3.2h0m-.4-2h0m-.5 3.6h0m-.6 2.2h0m-.4-4.2h0m-1.6 3h0m-.8-3.2h0m0 5.4h0m-.8-3.7h0m-1.1 2.9h0m-.2-5.7h0m-.5 3.5h0m-2-.1h0m-.3-2.1h0m-.1 4.8h0m-.1-6.6h0m-1.3 4.3h0m-.4-3h0m-.5-1.9h0m-.6 6.7h0m-1.4-5.4h0m-.3 3.1h0m-.5 2.1h0m-.9-6.7h0m-.5 7.9h0m0-5h0m-1.3 3.6h0m-.5-1.8h0m-1.5 2.1h0m-.6-2h0m-.2-2.1h0m-2.1-1.7h0m-.2 1.8h0m-.2 2.2h0m-1.9 1.9h0m-1.4-1.6h0m-.7 1.9h0m-.9-4.2h0m-1.8 .8h0m-.7-2.6h0m-.3 5h0m-.9-3.1h0m-.4-2.7h0m-.7 4.3h0m-1.9 2h0m-.9-3.7h0m-4-.4h0m-.2-1.8h0m-.1 13h0m3-2.4h0m.3 3.2h0m1.6-3h0m2.7-.2h0m1.2 1.9h0m.4-5.3h0m.9 1.7h0m.3 2.7h0m1 3.1h0m2-3.2h0m.5-1.7h0m.7-1.8h0m.3 6.8h0m1.1-4.3h0m2-.5h0m.1-1.9h0m.1 4.7h0m1.9 1.5h0m.4-4.9h0m.6 3.3h0m.2-5h0m1.2 2.8h0m.6 3.9h0m1.2-5.7h0m.6 2.4h0m.1 3.5h0m1.1-6.6h0m.8 4.1h0m.4-2.4h0m1.6-1.2h0m.2 4.3h0m0-1.9h0m1.9-1.2h0m.4 5h0m.2-7h0m.8 3.2h0m.6-2.1h0m.8 3.2h0m1-3.1h0m.3 5.9h0m.6-3h0m1-3.6h0m.6 2.1h0m.1 2.1h0m1 1.9h0m.9-3.8h0m.2-3.2h0m1 7h0m.5-6h0m0 3.4h0m2.3 2.7h0m0-2.9h0m.1-3.4h0m2.6 1.6h0m.2 2h0m.9-3.5h0m.4 5.8h0m.7-4.4h0m1.1 2.6h0m1.8 .3h0m.5-2.3h0m.1-2.3h0m.4 6.5h0m1.6-5.1h0m0-2h0m.7 4.6h0m.3 1.9h0m.6-3.5h0m1.4-1.2h0m.4 3h0m.5 2.3h0m1.3-1.6h0m.2-2.3h0m1.2-2.3h0m.7 4.3h0m.8-2.9h0m.4 5.3h0m1.1-6.7h0m.3 4h0m.3-1.8h0m.5 3.9h0m1.1-5.6h0m1.7 1.6h0m.3 2.6h0m1.6-1.1h0m1.5 2.1h0m.3-5.7h0m1.1 3.3h0m.2-1.8h0m1.6 2.2h0m0-3.1h0m1.2 4.7h0m2.3-3.4h0m.9-1.7h0m0 4.9h0m1-3.3h0m1 2.3h0m.4-3.8h0m.9 5h0m.5-3.8h0m.4-2h0m.6 7.1h0m0-3.1h0m1.9 .6h0m.5-5h0m.6 6.5h0m3.6-5.7h0m.1 3.5h0m2.2-2.3h0m1.5-1.5h0m.7 2.5h0m2.2-.4h0m5.2 2.2h0m13-1.9h0m-5.2 5h0m-12.8 4.9h0m-.9 2.1h0m-3.3-5.5h0m-2.5 0h0m-1.9-.1h0m-1.2 4.5h0m-2-2h0m-1.8-.1h0m-.2 1.8h0m-2.6-4.7h0m-.5 4.2h0m-2.3-1.7h0m-.3-3h0m-.8 4.6h0m-.8-3h0m-.7-1.9h0m-1.6 4.8h0m-.3-4.6h0m-.6 2.1h0m-.8 4.7h0m-1.4-2.7h0m-1.1-2.3h0m-.6 1.8h0m-.4-3.8h0m-.5 6.5h0m-1.9-2.7h0m-.2-3h0m-1.9 .5h0m0 4.3h0m-1.7 1.9h0m-.3-5.2h0m-.7 1.7h0m-.4-3.4h0m-1.3 2.6h0m-1.5 1h0m-.1 2.5h0m-.5-4.3h0m-.5-2h0m-.8 3.7h0m-1.4 3h0m-.2-4.3h0m-.9 1.6h0m-.5-2.7h0m-.8 4.9h0m-.5-2.9h0m-1 1.7h0m-.3-4.6h0m-.6 6.2h0m-.8-3.1h0m-.7-3.4h0m-.7 2.2h0m-.1 3h0m-1.1 2.1h0m-.4-3.9h0m-.3-2h0m-.2-2h0m-1.4 4.9h0m-.1 2h0m-1.2-4.7h0m-.4 3.3h0m-.1 2.2h0m0-7.2h0m-1.9 2.3h0m-.1 2.6h0m-1.3-4.2h0m-.1 5.9h0m-.1-2.8h0m-1.9-1.7h0m-1.3 3.8h0m-.5-3.1h0m-1.4-1.8h0m-1.4 5.1h0m-.4-2.9h0m-1.6 1h0m-.6-2h0m-.6 4.6h0m-.2-6.9h0m-2 .9h0m-.1 6h0m-.4-3.5h0m-1.8-2.3h0m-1.4 3.7h0m-.2-1.8h0m-.3-2.4h0m-1.5 6.2h0m-1-2.5h0m-.1-3.1h0m-1.6-1.4h0m-.7 4.9h0m-.6-3.3h0m-1 1.7h0m-1.3-1.7h0m-2.6-.4h0m-2.9-1h0m-1.2 1.5h0m-.2 2.1h0m-.7 2.3h0m-2.1-1.6h0m-1.8-4.2h0m-1.6 5.2h0m-4.8-.1h0m3.2 2.4h0m5.2 4.6h0m2.4-4.5h0m.7 2.1h0m3.3 2.4h0m3 2.4h0m1.8-6.7h0m.6 2.5h0m1.8 4h0m0-2.8h0m1.1-3.1h0m.8 6.2h0m.1-2.5h0m1.6-3h0m3.6 2.1h0m.8-2.6h0m.7 5.2h0m.6-4h0m1.9 5h0m1.4-3.7h0m.9 3.7h0m.4-7h0m1 1.7h0m.1 4.1h0m.5 1.7h0m.5-3.5h0m.5-3.3h0m1.3 3h0m.7-3h0m.6 5.8h0m1.5-3.5h0m.7 4.3h0m.8-6.6h0m.1 3.1h0m1.8-1h0m1-2.4h0m.5 4.9h0m.3 2h0m1.4-3.1h0m1-1.8h0m2.4-1.5h0m.2 5.1h0m1.8-2.6h0m.3-2.1h0m.6 3.9h0m1.4 1.3h0m.3-3.1h0m1.1 1.8h0m1.2-4.1h0m1.5 1.6h0m.7-2.5h0m.3 4.7h0m2.5-1h0m1.9-3.2h0m.8 3.6h0m1.3 3.3h0m.8-7.9h0m.5 3.9h0m.6-2.2h0m1.3-1.4h0m.3 3.3h0m.7 3.8h0m1.3-6.1h0m3.6 4.4h0m1.7-5.7h0m1.8 1.6h0m0 2.2h0m1.4 3.7h0m3.4-6.1h0m3.5 .5h0m.3 3.9h0m2.5-2.1h0m.1-2.4h0m2.7 5h0m.1-6h0m-5.5 9h0m-10.8-1.2h0m-2.6 3.7h0m-.3-2h0m-2.6 5.3h0m-2-4.1h0m-.7-3h0m-.3 5.3h0m-.3 2.3h0m-2.4-3.6h0m-.7-3.2h0m-1.7-.6h0m-1.3 6h0m-1.1-5h0m-.4 6.3h0m-1-2.8h0m-.4-3.9h0m-1.6 4.6h0m-.4 1.9h0m-.2-6.1h0m-1.7 3.2h0m-1-3.2h0m-.9 2.3h0m-.2 2.7h0m-1.8-.8h0m-1.4-3.6h0m-.4 4.5h0m-1 1.6h0m-.7-5.4h0m-.9 3.5h0m-.4-1.9h0m-1.3 3.1h0m-.8-5.8h0m-1.4 6.3h0m-.5-6.4h0m-.2 2.8h0m-1.2 2.3h0m-.5-3.6h0m-1.1 2.1h0m-.1 2.1h0m-.6-5.3h0m-2.7 .4h0m-1.5 1.4h0m-2.9-.7h0m-2.6-.3h0m-1.6-2.3h0m-.5 4.9h0m-1.5 1h0m-3.7-2.2h0m-1-2.9h0m-4.3 1.7h0m-1.5 1.6h0m-5.3 5.4h0m4.8-1.7h0m12.3 2.1h0m3.3 .5h0m4.4 3.8h0m.6-3.4h0m1.3 1.6h0m1.7-1.7h0m2.5-2h0m1.5 3h0m2.2 3h0m1.7-4.3h0m.7 2.1h0m4.7 1.4h0m1.8 .9h0m2-6h0m.6 2.3h0m.4 3.1h0m2.4-3.9h0m1.9 1.1h0m.7 3h0m1.8-5.6h0m.1 2h0m1.9-.3h0m.3-2.5h0m1.1 7.3h0m.8-4.8h0m3-1.7h0m6.2 .8h0m11.9 2.9h0m6.3-.3h0m4-4.1h0m-17.2 11.3h0m-6.5 3.7h0m-6.6-7.3h0m-5.6 5.6h0m-7.7-4.4h0m-13.6 1.6h0m-8.5-1.5h0m-2.5 6.1h0m-15.2 2.3h0m40.6-1h0m.7 2h0m2.1-.2h0"/><path d="M449.6 63.9h0m-39.5-.6h0m24.8 6.4h0m-1.8 3.6h0m-3.9 5.5h0m-1.5-1.8h0m-261.4 156.6h0m-6.6 4.9h0m-17.7-4.8h0m-6.8 3.3h0m-4.4-.3h0m-21.1 9.6h0m6.5-2.7h0m4.2-2.9h0m.3 6.5h0m2.6-4.2h0m4 1.1h0m1.9 3.7h0m.5-7.1h0m.4 4.8h0m1.3-2.9h0m3 4.4h0m3.1-3.2h0m.4 2.6h0m2-5.3h0m.5 6.6h0m1.7-3.1h0m.8 3h0m1.8-.6h0m.8-6.1h0m1.1 5.3h0m.7 1.7h0m3-1h0m.2-2.3h0m1.6-2.6h0m1.4 4.3h0m.2-3.5h0m1.8 3.7h0m.3-5.9h0m1 4.4h0m7.2-.6h0m18.4 .3h0m6.9-2.6h0m24.3-.2h0m-22.5 9.3h0m-6-2h0m-2.7 5.1h0m-2-.2h0m-1.5-2.2h0m-1.8 .8h0m-1.3-3.2h0m-1.1 4.6h0m-.2-6h0m-1.4 7h0m-2.6-1.4h0m-.5 1.8h0m-.2-3.5h0m-1.2-1.5h0m-1.4 3.5h0m-.8-5.7h0m-2.1 6.2h0m-.3-3.4h0m-2.3 .3h0m-.4-2.6h0m-.2 6.5h0m-.7-2.4h0m-1.2 1.7h0m-.4-2.5h0m-1.9 .4h0m0-2.5h0m-.5 4.5h0m-1.4-2.2h0m-.5 3.6h0m-1.1-2.5h0m-.9-5.2h0m-.1 2.7h0m-1.1 1.4h0m-.6 2.8h0m-1.2-1.6h0m-.4-2.6h0m-1.8 4.7h0m-1.9-1.8h0m-.3 2h0m-.7-5.9h0m-1.1 4.2h0m-.4-3h0m-1.8 .5h0m-1.4-1.8h0m-.3 2.6h0m-.2 2h0m-1.1-5.9h0m-1.1 3.9h0m-.5 2.9h0m-.5-5.9h0m-1.6 5h0m-.4-4.5h0m-.6 2.7h0m-1.1 2.6h0m-.7-2.4h0m-.4-3.4h0m-1.1 4.6h0m-.7-2.1h0m-1.5 3.9h0m-.6-2.4h0m-1.4 1.8h0m-.8-4.7h0m-.5-1.7h0m-1.8 5.3h0m-.4-1.8h0m-.4 3.4h0m-1.6-3.7h0m-.6 3.7h0m-1.1-6.4h0m-.8 6.1h0m-.7-1.8h0m0-2.1h0m-2.7 2.7h0m-1.4-4.8h0m-.6 1.9h0m-.6 4.2h0m-.3-2.4h0m-2-3.3h0m-.4-1.8h0m-1.1 6.3h0m-.9-2.2h0m-20.3 10.1h0m8.1-4.1h0m.5 4.8h0m3.9-2.4h0m1.6-1.4h0m3-.3h0m2.6 .8h0m3.9 1.9h0m.4-4.5h0m2.9 4.8h0m.5-4h0m1.7 5.4h0m.1-1.8h0m.1-2.5h0m1.7-1.1h0m.1 2.7h0m2-.7h0m.6 3.5h0m1.2-5.5h0m.6 3.6h0m.1 1.9h0m1.8-1.9h0m.3-2.9h0m1.9 2.8h0m.8-3.2h0m2.4 3.2h0m.9-4.3h0m1 5.7h0m.2-2.4h0m1-2.4h0m.9 1.8h0m.6 2.4h0m1-5.1h0m1.2 3.4h0m0 1.8h0m.6-4.6h0m1.4 3.6h0m.5-4.6h0m.1 2.2h0m.2 4.9h0m1.3-3.5h0m.3-4h0m.1 1.8h0m.1 4.3h0m1.3-2.8h0m.3 4.2h0m1-2h0m.1-3.8h0m.5 2h0m.2 3.6h0m1.9-1.2h0m.1-3.5h0m1.6 1.9h0m.3-2.7h0m1.2 4.5h0m.5-3.6h0m.6-1.7h0m1.1 5.5h0m.2-3h0m.5-1.8h0m2.2 4.4h0m.5-1.7h0m1.6-1.5h0m1.2 3.7h0m.3-4.9h0m.4 2.7h0m1 3h0m.9-1.7h0m.6-3.7h0m1.4 4.2h0m.7-5h0m.2 2.9h0m2.6-3.8h0m.1 4h0m.1 1.9h0m1.1-4.7h0m1.3 3.5h0m.4-1.8h0m1.6 2.8h0m.4-2.4h0m.8-2.2h0m.6 6.3h0m.4-2.1h0m1.4-3.8h0m.2 2.6h0m1.4 2.6h0m.4-5.8h0m1.5 3.8h0m.8-1.8h0m.2 4.3h0m1.1-5.9h0m2.8 4.1h0m.8-3.1h0m1.1-1.9h0m.1 3.7h0m1.7 1.5h0m.1-2.1h0m2.1-3.3h0m1.3 2.8h0m3.1 1.9h0m1.3-1.6h0m1.5-3.4h0m2.5-.1h0m-7.8 14.2h0m-2.4-3.1h0m-.3-2h0m-.8 5.8h0m-1.7-3.1h0m-1.8 .9h0m-.6 2.5h0m-.1-7.4h0m-1 3.3h0m-2.2 .1h0m-.8 2.9h0m-1.7-2.9h0m-.2 2.1h0m-.8-3.8h0m-1.1 1.9h0m-.2 3.2h0m-1.8-1.6h0m-1.4-2.4h0m-.4 2.3h0m-.5-4.8h0m-.7 6.1h0m-.1-4.2h0m-.5 2.2h0m-.5-4.1h0m-.7 6.1h0m-.7-3.1h0m-1.4-2.7h0m-.5 5h0m-1-2.4h0m-.1 4.6h0m-.4-7.2h0m-1.4 3.6h0m-1.5-3.2h0m-.7 2.4h0m-.7 3.3h0m-1.2-4.2h0m-.5 3.7h0m-.3-1.9h0m-1.8-.2h0m0-2.4h0m-.1 4.4h0m-2.2-3.7h0m-1 3.3h0m-.5-5.2h0m-.1 7.3h0m-.2-3.8h0m-2.4-1.3h0m-.2 3.3h0m-1-5.3h0m-.5 6.5h0m-.7-1.8h0m-.4-2.6h0m-.8-2.2h0m-.4 3.5h0m-.1 2.5h0m-2-2.3h0m-.1-2.7h0m-.5 4.6h0m-1.7-5h0m-.6 4.9h0m-.5-2.5h0m-1-2h0m-1.1 4h0m-.6-3.4h0m-1.3 1.7h0m-.9-3.8h0m-1 3h0m-.2 3.8h0m-.5-5.9h0m-.6 3.8h0m-.7-2.6h0m-.1 4.8h0m-.9-6.7h0m-.7 2.4h0m-.4 1.8h0m-.4 2.9h0m-1-5.5h0m-.6 3.8h0m-.4-5.8h0m-.8 4.2h0m-.3 3.5h0m-.9-6h0m-.9 3.8h0m-.5 1.8h0m-.4-4.2h0m-.2-2.3h0m-2.1 4.7h0m0-3.5h0m-1.3 2.1h0m-.5-2.4h0m-.7 5.3h0m-.5-6.6h0m-.5 3.6h0m-1.8 1.9h0m0-2.3h0m-2.2 3.3h0m-.3-2.9h0m-1.6-1.7h0m0 3.1h0m-.2-5.3h0m-.1 7.6h0m-1.9-.4h0m-.7-6.9h0m-.3 2h0m-1.5 3.4h0m-.5-5.4h0m-.8 7.3h0m-.3-3.7h0m-1-1.8h0m-1.3 1.9h0m-.6-2.8h0m-.7 4.1h0m-2.4 1.8h0m-.5-2.7h0m-1.8-2h0m-2.6 1.4h0m-.3 10.5h0m4.5-4.1h0m2.9 1h0m1.7-3.3h0m.8 2.8h0m.4 3.1h0m2.2-1.4h0m.2-2.4h0m2.1 5.7h0m.8-3.3h0m.7-2.4h0m.9 5.2h0m1.7-3.3h0m1.3-2.6h0m.3 4.4h0m1-2.3h0m1.2-3.4h0m.1 1.9h0m.2 3.3h0m1.7 1.2h0m.3-4.8h0m1.1 2.4h0m1.2 2.6h0m1.6-2.9h0m.9-1.9h0m1.3 4.9h0m0-2.9h0m1.4-1.1h0m.2 2.4h0m1.5 1h0m.4-4.3h0m.5 1.8h0m1.5-1.6h0m.9 1.7h0m.3 2h0m.5-5h0m.9 6.4h0m.4-5.2h0m.7 2.2h0m1.4 2.6h0m.3-5.9h0m.3 1.9h0m1.4 1.5h0m.1 2.8h0m.5-6.6h0m2 7h0m0-3.1h0m.2-4.3h0m.9 1.9h0m.6 3.9h0m1.3-4.6h0m.1 2.8h0m.3 3.2h0m1.4-6.6h0m.1 4.3h0m.5 1.7h0m.7-3.4h0m.7-1.8h0m.8 2.8h0m.3 2.8h0m1-6.9h0m1.3 2.7h0m.2 2.4h0m1.9-.9h0m.2-3.3h0m.8 6h0m.8-2.5h0m.1-2.9h0m.9 4.8h0m1.2-3.7h0m.9-2.6h0m.6 4.3h0m.3 2.2h0m.8-5.3h0m.9 1.7h0m.1 2.3h0m.8-4.2h0m.3 6.2h0m1.8-5.2h0m0 3.6h0m.2-1.8h0m2.3-1.8h0m.5 3.3h0m.6-5.4h0m1.2 5.2h0m.2-3.4h0m.2 5.5h0m1.2-3.4h0m.5 2h0m1.6-5.8h0m.6 2.2h0m1.5 2h0m.6-3.4h0m2.2-.3h0m.4 1.8h0m.2 4h0m2.1 1h0m.5-1.7h0m0-4.4h0m4 3.7h0m2.3-4.1h0m11 3h0m-7.5 10.4h0m-5.2-5.5h0m-3.4-.6h0m-2.7 6h0m-2-4.8h0m-1.7 2.9h0m-.3-3.9h0m-2.4 4h0m-.5 1.7h0m-1.4-4.1h0m-1.5 2.6h0m-.7-2.4h0m-1.5-1.1h0m0 4.7h0m-2-2h0m-.4-1.9h0m-.2 5.2h0m-.3-7h0m-2 6.6h0m-.3-5.5h0m-1.4 4h0m-.1 2h0m-.4-6h0m-1.7 4h0m-.7-3.7h0m-1.8-1.1h0m-.2 4h0m-1.2 2.9h0m-.8-5.4h0m-1.4 1.1h0m-.1-3.1h0m-.2 5.1h0m-1.6 2.5h0m-.7-6.5h0m-.5 3.9h0m-1-2.4h0m-.8 5.3h0m-.3-7.2h0m-.9 1.6h0m-1.3 4.3h0m-.2-2.9h0m-1.5 4.2h0m-.5-3.1h0m-.3-2.2h0m-1.2 4.9h0m-1.6-2.1h0m-.1-4.4h0m-.8 6h0m-.5-3.4h0m-.8-1.6h0m-1.1 2.5h0m-.6-3.2h0m-.8 6.5h0m-1.1-4.3h0m-.6 3.1h0m-1.6-6.4h0m-.1 2h0m-.5 1.8h0m-2.2-1.9h0m-.1-2.1h0m-.2 6h0m-1.3-2.1h0m-.1 3.8h0m-1.9-2.8h0m-.3-2.7h0m-2.8 1.4h0m-.6 3.1h0m-.9-6.3h0m-1 3.9h0m-.7-2.9h0m-1.4-1.1h0m-1.2 2.9h0m-.6-3.2h0m-.7 6.2h0m-.6-4.2h0m-2.1 5h0m-.2-3.4h0m-7-1.8h0m-1.3-1.2h0m-1.3 3.8h0m-1.6 1.3h0m-2.8-4.8h0m-4.5 4.6h0m9 2.7h0m1.3 2.1h0m7.8-1.5h0m3.4 .6h0m.5 5h0m.1-3.3h0m1.1-2.7h0m5 .1h0m.3 6.5h0m1.2-1.8h0m1.5-4.7h0m1 2.3h0m1.8 1.7h0m1.6-4.1h0m.4 6.8h0m1.8-2.3h0m1.3-2.3h0m1.3 2.8h0m.8-2h0m.8 4h0m2.3-3.8h0m1.3-1.3h0m.1 3.4h0m2.1-4h0m.1 2.8h0m1.6-1.5h0m2.3 3.9h0m.1-5.8h0m.2 3.9h0m2.8-.6h0m0-2.1h0m.9 5.6h0m2.3-1.9h0m1.7-3.3h0m2.1 3.1h0m.6 1.8h0m1.5-4.8h0m.4 4.4h0m.8-6.5h0m.7 4.3h0m3.4-3.9h0m.1 3.4h0m2.1-3.1h0m.2 3.3h0m2.2-4h0m1.7 5.5h0m.9-6h0m1.3 7.2h0m.8-7.1h0m2.1 1.4h0m3.8-1.3h0m.8 1.6h0m3 3.5h0m-6.2 2.5h0m-6.6 2.2h0m-1.3 1.4h0m-2.3 4.3h0m-2.8-7.8h0m-.4 3.3h0m-.9 3.6h0m-1.4-3.3h0m-.4-3.2h0m-2.2 5.2h0m-1.8 1.3h0m-2-3.3h0m-1-1.8h0m-.6 5.1h0m-1.3-5.2h0m-.2 3h0m-2.3-1.1h0m-.1 2.9h0m-.4-4.8h0m-1.3 2.2h0m-1.5-2.8h0m-1.3 4h0m-2.3-1.7h0m-.4 2.8h0m-.1-5.3h0m-3.1 1h0m-1.8-.1h0m-1 1.7h0m-1.3-3.4h0m-.1 2.1h0m-.1 2.5h0m-3.8-1.9h0m-6 1.3h0m-1.3-2.3h0m-5.4 1.6h0m-.5-3.3h0m5.1 9.1h0m3.7 .2h0m3.6 2.7h0m1.5-1.9h0m5.1-2h0m2.6 .3h0m1.2 5.9h0m.7-3.9h0m6.4 3.7h0m3.4-1h0m.8-3.7h0m0 5.3h0m2-5.5h0m3.3-.5h0m1.3 1.8h0m1.2 1.8h0m.9-4.3h0m1.5 2.6h0m2.3-2.4h0m18.8 4.3h0m-24.6 7.2h0m-8.7-2.2h0"/><path d="M436.2 68.7h0m-6.6 8.7h0m-270.5 161.7h0m-4 .3h0m-47.2 8.5h0m15.4-5.3h0m2.1 4.8h0m.7-3.6h0m2.5-2.2h0m.4 5.9h0m8-.6h0m.7-2h0m.4-1.8h0m1.2-2.3h0m.2 5.4h0m3.3 .7h0m2.5-5h0m7.6 3.5h0m1.5 1.9h0m.4-3.9h0m1.2 2.4h0m2 .2h0m2.7 1.3h0m24.5 2.4h0m-5.9 3.3h0m-1.6-2.3h0m-2.1-2.6h0m-.5 7h0m-4.4 .3h0m-1.9-3.4h0m-1 1.9h0m-3.5-3.9h0m-.5 5.6h0m-.3-1.8h0m-1.1-3.5h0m-.9 3.9h0m-.7-4.8h0m-.3 6.3h0m-2.1-2.2h0m-2.4-.6h0m-1.8 1.4h0m-.4-2.7h0m-.8-2.3h0m-1.6 .8h0m-.6 3.7h0m-1.6 1.2h0m-.7-1.9h0m-1.8-4.8h0m-1.4 4.9h0m-2.7-.9h0m0-3h0m-1.8 1.2h0m-1.1 5.3h0m-.2-6.9h0m-.5 4.3h0m-.4-2.1h0m-1.2 3.7h0m-.6-5.9h0m-.1 3.9h0m-1.4 2.9h0m-1-5.1h0m-.2-2.4h0m-.8 5.4h0m-.6 1.9h0m-.4-3.5h0m-1.8-1h0m-.4 2.7h0m-2.1 0h0m-1.1-1.6h0m-.3-2.3h0m-1.3 5.6h0m-.4-3.9h0m-.1-1.8h0m-1.8-1.4h0m-.2 7h0m-.2-1.8h0m-1.6 2h0m-.7-6.7h0m-2.2 3.6h0m-1.2 1.4h0m-1.7-1.2h0m-5.5-3.5h0m-1.5 2.7h0m-7.2 7h0m5.8 .3h0m.2 3.9h0m3.7-6.5h0m.1 6.8h0m4.5-.7h0m1.5-3.9h0m.3-2h0m.4 3.8h0m1.7-4.2h0m.6 7h0m.5-3.6h0m.2-1.9h0m2 4.4h0m1.3-2.6h0m1.1-2h0m1.4 5.2h0m.2-4.3h0m.6 2.2h0m1.1 2.2h0m.6-2.7h0m.7-4.1h0m.2 2.4h0m.5 2.8h0m1.3 2.6h0m.2-6.3h0m1.4 4.5h0m.3-1.9h0m0 3.7h0m.4-5.7h0m1.7 1.4h0m.9 3.2h0m1.1-3.6h0m.3 2.1h0m1.2 2.6h0m.4-3.9h0m.2 1.8h0m.3-3.6h0m1.7 1.6h0m.3 1.9h0m.2-5.1h0m0 7.3h0m1.3-1.2h0m.2-4h0m.8 1.6h0m.1-3.9h0m.7 6.8h0m1.1-4.5h0m.2 2.5h0m.2-4.7h0m.4 6.5h0m1.6-3.3h0m.4-2.7h0m.5 5.3h0m1-2.3h0m.7 3.7h0m1.3-6.6h0m0 2.7h0m.1 2.6h0m1.8-.9h0m1.6-2h0m1.1-2.3h0m.7 2.2h0m.3 3.7h0m.5-2h0m.4-4.2h0m1.7 4.7h0m1.7-3.3h0m.5 4.8h0m.1-2.6h0m1.6-3.2h0m.3 5.2h0m.1-2.4h0m1.8 1.3h0m1.4-4.8h0m.3 2.3h0m.1 4.5h0m1.2-3.2h0m.6-2.7h0m1.6-1h0m.2 3.2h0m0 2.6h0m2.1-.8h0m.2-4.5h0m2.7-.3h0m2.5-.2h0m.4 2.1h0m1.6 2.2h0m2.7-2.8h0m1 4.5h0m2.2-2.9h0m5 .8h0m-4.7 6.2h0m-1.1 3.6h0m-2.5 1.1h0m-.4-3.3h0m-1.7 .9h0m-1.1-4.7h0m-1 6.4h0m-.4-4.3h0m-1 1.5h0m-1.7 2.6h0m-.6-5.1h0m-1 6.3h0m-.2-2.7h0m-.6-1.7h0m-1.5 4.6h0m0-6.6h0m-1.4 3.5h0m-.4-2.8h0m-.8-1.7h0m-1.3 6.1h0m-.5-2.8h0m-1.3-2.6h0m-.5 2.7h0m-.7 3.4h0m-.5-1.7h0m-1-4.9h0m-.6 3.3h0m0 3.8h0m-.3-1.9h0m-1.9 2.3h0m-.5-7.6h0m-.1 4.8h0m-.7-2.7h0m-1.6 1.7h0m-.3-2.2h0m-.3 5h0m-1.5-1.4h0m-.1-2.7h0m-1.3-2.4h0m-.4 7.2h0m0-1.9h0m-.2-2h0m-.6-1.8h0m-1.4 2.7h0m-.6-2.4h0m-.4 4.3h0m-1.1-2.6h0m-.4 3.7h0m-1.4-2.9h0m0-4.4h0m-.3 2h0m-1.5 4.9h0m-.6-6.4h0m-.3 2.4h0m-1.2 3h0m-.9-3.3h0m0 4.9h0m-2.1-1.9h0m-.4-4h0m0 2h0m-1.5 3.8h0m-.3-6.3h0m-.4 4.3h0m-1.4-3h0m-.8 2.7h0m-.5-4.1h0m-1 6.3h0m-.8-3.5h0m-.1-2.7h0m-1.6 1h0m0 3h0m-1.3 1.8h0m-.2-3.8h0m-2.1-2.4h0m-.2 1.8h0m-.1 2.5h0m-1.5-1.2h0m-.1 3.2h0m0-6.4h0m-1.6 1.3h0m-.7 2.4h0m-.1-4h0m-.5 5.8h0m-1.2-3.6h0m0-2.7h0m-.2 4.8h0m-.1 2.6h0m-1.4-6h0m-.4 4.3h0m-1.5-1.1h0m-.9-3.7h0m-.5 5.4h0m-1.7-5.5h0m-.1 5.4h0m-1.1-2.6h0m-2 3.8h0m-.9-6.7h0m-1 6.2h0m-.4-2.2h0m-1.8 1.7h0m-1-3h0m-3.1 .9h0m-2.2-1.8h0m-3.6 3.1h0m-.9-3h0m1.8 7.7h0m2.6 4h0m.2-3.3h0m1.6-1.8h0m.7 4.2h0m4.9 .4h0m.4-4.9h0m.9 2.6h0m1.9 1.9h0m.5-3.5h0m1.4-1.9h0m.4 2.4h0m.5 2.5h0m.5 2.5h0m.4-6.4h0m2.2-1h0m.9 2.8h0m.1 5h0m0-2.2h0m1.6-1.7h0m.2 1.9h0m1.3-4.5h0m.6 3.7h0m.7 2.7h0m1.5-4.6h0m.1-1.8h0m.4 6h0m1.6-5h0m.1 2.4h0m.4 2.1h0m1.5-4.2h0m0 3.2h0m0-5.2h0m1.5 3.4h0m.1 3.1h0m.6-5h0m1.2-1.8h0m.2 5.5h0m.5-3.1h0m1.5 2.7h0m.7-4.6h0m.9 2.5h0m.5 4h0m.8-5.7h0m.2 3h0m1.9 3.1h0m.6-2.6h0m.1-3.9h0m1.5 5.3h0m.2-2.9h0m2 .1h0m1.1 1.9h0m.5-4h0m.7 1.7h0m.8-2.8h0m.9 2.2h0m.3 2.3h0m2.4-1.4h0m0 2.1h0m.7-4.7h0m1.1 4.5h0m1.2-2.2h0m.2-2.1h0m.3 5.6h0m.2-1.8h0m1.6-1.9h0m1.5 2h0m.2-3.6h0m1.1 1.6h0m2 3.8h0m1.1-3.4h0m.9 4.2h0m.7-3.2h0m.4-2.4h0m1 5.6h0m.3-1.9h0m1.2-5.9h0m.3 2.7h0m.6 2.9h0m4-.4h0m.4-3.5h0m1.9 5.2h0m1.5-4.4h0m.8-2h0m1 7.4h0m2.1-3.3h0m5.6-3.1h0m-1 7.3h0m-9.1 .1h0m-2.9 2.7h0m-1.6 1.3h0m-.1-2.3h0m-.4 4.9h0m-.5-6.7h0m-1.1 1.9h0m-4 .2h0m-1.6 3.3h0m-.4-4.4h0m-1.6 3.9h0m-2.4-.7h0m-.9-4.8h0m0 2.1h0m-2.6 1.3h0m-.3-2.2h0m-2.7 1.7h0m-.8-2.3h0m0 4.7h0m-1.3-1.8h0m-1.4 3.7h0m-.1-7.2h0m-.7 5.2h0m-.8-3.4h0m-.4-1.9h0m-2 5.7h0m0-3h0m-.4-2.8h0m-1.8 6.1h0m-.8-3h0m-.5 4.2h0m-.5-5.7h0m-1.3 3.8h0m-1.1-3.6h0m-.6 2.6h0m-.5 1.8h0m-.5-3.5h0m-1.1-1.6h0m-.6 4.8h0m-1-3.3h0m-.5 4.8h0m-1.2-1.4h0m-.2-2h0m-1.7-1.9h0m-1.4-1.2h0m-.3 4.5h0m-.4-2.2h0m-1.1-2.1h0m-1.6 3.7h0m-.7-1.8h0m-.8 3.2h0m-.8-4.6h0m-.7 2h0m-.2 3.5h0m-2 .8h0m-.1-5.1h0m-1.1 1.6h0m-1.5-3.7h0m-.2 2.8h0m-1 4.1h0m-.6-5.3h0m-1.3 4.7h0m-1.2-4h0m-1.3 1.3h0m-1.8-.9h0m-.6 4.2h0m-.9-6.6h0m-2.1-.9h0m-3.8 2h0m-.6 2.7h0m-1.2 3h0m1.8 1.8h0m10.8-.8h0m1.1 7.1h0m7.5-6.8h0m1.6 2.5h0m1.5 2.4h0m.7-5.8h0m2.4 7.3h0m1-3h0m2.7 2.2h0m.3-4.2h0m1 2.3h0m1.3-1.2h0m1.5 1.3h0m1.3-2h0m0 3.9h0m1.3-1.7h0m.1-4.4h0m1.6 3h0m1.9 2.5h0m.9-6h0m.3 1.9h0m.1 2.8h0m.5 2.2h0m1.7-5.3h0m.5 3.7h0m1.6-1.7h0m1.7-3h0m.7 2.5h0m3.1-.5h0m.1-2.6h0m.7 7.4h0m1.9-5.8h0m1.8 .1h0m0 4.4h0m2-4.5h0m1.2 2.7h0m2-1.2h0m1.6-2.1h0m6.9-.2h0m1.7 2.3h0m3.4-3.1h0m-10.1 11.2h0m-4.9-1.9h0m-.4 2.5h0m-1.3-3.1h0m-.5 2h0m-1.3 3.9h0m-.2-5.2h0m-3.9 5h0m-1.7-2h0m-1.3-4.3h0m-.3 1.8h0m-.9 5.7h0m-1.9-7h0m-.7 3.7h0m-1.1-2.3h0m-2.5 .5h0m-3.5-.8h0m-.9 4h0m-1.5-4.1h0m-2 1h0m-.2-2h0m-1.5 1.2h0m-1.3-1.4h0m-.3 3.7h0m-4.9-1.7h0m-5.7 .2h0m-7.8-.6h0m21.5 6.8h0m2 2.9h0m.7 2.7h0m8.9-2.4h0m.4-2.7h0m2.9 5.4h0m.2-5.2h0m6.6-.9h0m2.1-.4h0m3.8 .2h0m-15.8 7.5h0"/><path d="M428.2 77.7h0m-290.5 168.6h0m8.4 .9h0m5.4-2h0m1.2 1.3h0m.7-2.2h0m1.3 1.7h0m2 .4h0m4.5 .9h0m16.2 5.1h0m-3.1 2.4h0m-5.4-3.2h0m-1.4 2.9h0m-3.3-.1h0m0-4.6h0m-1.8 .1h0m-1.2 5.1h0m-.1-2.3h0m-1.7 2.3h0m-1.3-2h0m-.6 1.9h0m-1.9-2h0m-1.2-1.9h0m-.8 2.8h0m-1.8 2.1h0m-.1-4.2h0m-.1 2.3h0m0-5.4h0m-1.7 5.9h0m-2.5-6.1h0m-1.8 5.8h0m-2.3-.5h0m-.1-1.8h0m-2.1 .5h0m-2-.5h0m-.9 1.7h0m-.2-5.4h0m-2.6 7.5h0m0-1.9h0m-1.1-3.2h0m-.9 3.1h0m-1.9-3.8h0m-.5 3h0m-.3 2.1h0m-2.6-3.7h0m-1.4 2.7h0m-1.2-5.5h0m-.1 2.3h0m-3 4.3h0m-3-3.3h0m-1.4 3.3h0m-3.1-2.6h0m-3.7 3.4h0m-2.9-6.9h0m-.7 3.7h0m-7.1 6.9h0m10 3.1h0m3.7-.2h0m1.6-1.1h0m1-3.6h0m.7 4.3h0m.2-2h0m.6 3.6h0m2-7.7h0m.1 4.3h0m.9-2.4h0m1.2 2.6h0m.8-2.8h0m.7 4.4h0m1.9-1.6h0m1.2 1.6h0m.3-3h0m1.1 1.5h0m.1-2.8h0m.6 4.8h0m.9-3h0m.2-2.5h0m.3 4.3h0m1.5-4.3h0m.2 5.5h0m.8-2.1h0m.9-1.9h0m.3 4.9h0m1.1-2.5h0m.4-1.9h0m1.3 3.3h0m.9-1.8h0m.3-1.9h0m1.3 2.8h0m.1-4.3h0m1.6 3.3h0m.1-2.5h0m.4 5h0m.2-6.9h0m1.3 4.1h0m.3 2.7h0m1-4.5h0m.9 2.7h0m.3 2.5h0m1.2-4.2h0m0-2.1h0m.4 5.4h0m1.7-6.3h0m.4 6.3h0m.3-2.6h0m1.7-2.2h0m.6 5.6h0m0-2h0m1.4-2.6h0m.9-2.9h0m1.3 5.8h0m0 1.9h0m.2-4.2h0m1.3-2.3h0m.9 2.6h0m.5 3.1h0m1.6-6.1h0m.9 5h0m1.1 1.8h0m.7-4.7h0m.3 2h0m0-4h0m1.6 6h0m.2-2.1h0m1.7-.6h0m.4 3.6h0m2.1-3.4h0m.1 2.7h0m.1-5.3h0m1.8-1.5h0m.2 3.6h0m1.1 2.7h0m.6-2.2h0m.6-2.2h0m1.7-1.3h0m4.2 1.3h0m2.7 2.4h0m4.2 1.8h0m.1-4h0m2 1h0m-.7 10.9h0m-1.3-1.4h0m-3.7 1.4h0m-.3-2.3h0m-2.6 3.6h0m-1.1-4.5h0m-1.1 1.8h0m-1.6-1.3h0m-.5-2.1h0m-.9 4.4h0m-1.8-4.7h0m-.1 6.4h0m0-2.7h0m-1.3-1.2h0m-.6-2h0m-.9 3.7h0m-1.2-1.6h0m-.1-2.9h0m-.4 5h0m-1.7-.8h0m0 1.9h0m-1.9-2.7h0m-.2 2.5h0m-.5-5.9h0m-1.1 2.2h0m-.7 2h0m-1.3 1.5h0m-.4-6.1h0m-.7 2.5h0m-.7 2.5h0m-1.7-3.9h0m-.4 4.4h0m-.7-1.7h0m-1.1-2.6h0m-.5 4.9h0m-.1-3.2h0m-.9-2.9h0m-.4 4.2h0m-1-3h0m-.7 1.7h0m0 3.5h0m-1.8-.3h0m-.1-3.3h0m-1.5-2.4h0m-1.2 1.3h0m-.6 4.2h0m-.6-2.3h0m-1.7 2.3h0m-.4-3.4h0m-1.5 3.9h0m-.4-2.7h0m-.6-2.5h0m-.9 4.7h0m-.6-6.4h0m-.7 2.1h0m-.5 2.2h0m0 2.1h0m-1.3-4.8h0m-.6 3.6h0m-1.7-1h0m-.1-1.8h0m0 4.9h0m-2.1-5.8h0m-.1 1.9h0m-1.4 1.4h0m0 2.2h0m-.4-6.9h0m-.6 2.4h0m-.8 5h0m-1.1-2.9h0m-.2-2.7h0m-1.4-1.1h0m-1.3 4.1h0m-.3 2.1h0m-.4-5.2h0m-1.1 1.4h0m-.7 2.5h0m-.2-4.1h0m-1.5 2.7h0m-1.3-3.8h0m-.1 6.6h0m-.6-4.6h0m-1.1 3.7h0m-.8-2.5h0m-.5 4h0m-3.8-3.2h0m-1.2-4.4h0m-.3 5.8h0m-.5-1.8h0m-1.1 3.7h0m-1.4-2.2h0m-2.5-2.1h0m-1.4 1.8h0m-.9-3h0m-1.3 9.6h0m1.8 .8h0m.1-1.9h0m1.8 1.1h0m3 2.5h0m1.5-4.4h0m.2 2h0m1.7-3.9h0m1.2 3.6h0m.7-3.5h0m1.6 1.4h0m.4 3.1h0m1.9-2.6h0m.7 5h0m.6-6.2h0m1.8 4h0m.1 1.9h0m2.2-3.7h0m.6 3h0m1.8 .6h0m.8-3.1h0m1 3.7h0m.4-2h0m1.3-1.4h0m0 2.6h0m.1-5h0m2.1 4.7h0m.3-3.9h0m.5-2h0m.5 4.1h0m.6 2.7h0m.5-5.8h0m2.3 1.1h0m.2 3.9h0m1.3-6.1h0m.6 7h0m.1-5.1h0m.9 1.8h0m1.1-2.8h0m1.4 4.5h0m.5-4.8h0m.2 2.6h0m.9 4.1h0m1.1-7.4h0m.1 3.7h0m.6 2.3h0m1.3-2.7h0m.5-2.3h0m0 6.6h0m1-2.4h0m.9-4.5h0m.3 3.2h0m.9 3.8h0m.1-2.3h0m.7-2.3h0m1-2.5h0m0 5.7h0m1.6-3.6h0m.3-1.9h0m1.4 5.9h0m.1-3.2h0m.7-2.9h0m1.9 1.4h0m.2-1.8h0m.1 5.9h0m.4-1.9h0m.6 3.6h0m.8-2.2h0m.4-3.1h0m1.1-1.5h0m.1 6.7h0m1.1-4.3h0m1-2.9h0m.3 4.1h0m2.6-3.7h0m.1 5.4h0m.6-3.1h0m1.3-1.7h0m4.4 0h0m2.2 5.5h0m1.1-6.9h0m.3 3.2h0m1.2 3.1h0m1.9-1.4h0m6.3-4.2h0m-9.2 7.5h0m-1.8 .5h0m-2.3 2.1h0m-1.1-1.6h0m-.8 1.9h0m-.8 3.6h0m-.8-6.7h0m-4.1 6.1h0m-.3-4.9h0m-.3 2h0m-1.4 2.3h0m-.1-4.8h0m-.1 6.8h0m-3.4-5h0m-1 2.8h0m-1.5-5.3h0m-.8 2.3h0m-.9-1.7h0m-1 2.1h0m-.9 4h0m-1-6.1h0m-.3 3.8h0m-1.1-2h0m-.4 4.9h0m-2.7-3.3h0m-.3 1.9h0m-1.2-3.8h0m-1 4.6h0m-.9-2.8h0m-.4-1.9h0m-.7 4.7h0m-.9-5.7h0m-.3 1.8h0m-.9 4.9h0m-.6-7.5h0m-.1 3.6h0m-1.8 2.2h0m0-5.3h0m-.2 2.4h0m-1 4.4h0m-.1-2.9h0m-.3-2.6h0m-1.4-1.7h0m-.5 1.8h0m-.8 5h0m-1.9-3.3h0m-.4-3.6h0m-.2 6.5h0m-.8-4.2h0m-1.3-2.5h0m-1.4 2.4h0m-2 2.7h0m-.6-2.1h0m-1-2.4h0m-.4 7h0m-2.5-4.5h0m-.8-1.9h0m-.9 3.6h0m-3.6-4.8h0m0 2h0m-1.7 5.6h0m-1.2-5h0m-1 2.6h0m-1.4 1.9h0m-7.7-4h0m-2.4 4.5h0m19.1 1.3h0m3.9 1.2h0m3-1.8h0m.1 6.2h0m2-1.7h0m1.9-1.1h0m.7 3.4h0m1.4-5.1h0m.5 3.9h0m.8-1.9h0m4 1.7h0m.5-4h0m1.5 1.2h0m.1 2.1h0m3.2-2.4h0m1.3 3.3h0m.5-4.8h0m.8 2.8h0m.8-1.6h0m4.4 1.7h0m1.9-1.7h0m6.9 1.9h0m3.9 .4h0m13.5-4.3h0m-10.5 9.2h0m-1.2 1.9h0m-4.9-1.3h0m-1.2 5.6h0m-7.3-6.1h0m-.6 4.1h0m-2-5.7h0m-.6 5.2h0m-1-2.9h0m-2.2-.3h0m-1.6 1.8h0m-8-1.2h0m0 4.8h0m-1.4-6.5h0m-1 2.8h0m16.2 4.5h0m0 6.3h0m4.3-6.4h0m6.9 .6h0"/><path d="M427.9 77.8h0m-289.2 168.3h0m.7 1.8h0m16-1.1h0m16.2 8.1h0m-2.4-4.6h0m-.4 1.8h0m-1.7 2h0m-3 .1h0m-1.3-4.6h0m-.3 6.1h0m-1.8-5.6h0m-.4 4.1h0m-2.6-1.7h0m-.2 2.4h0m-2.6-4h0m-2 1.7h0m-1.6 1.8h0m-.3-4.1h0m-.4 2.2h0m-1.8 1.2h0m-.6-4.5h0m-1.7-.9h0m-.4 4.6h0m-.4 1.8h0m-2.1-1.8h0m-.3-2h0m-1.8 .8h0m-1.6 2.3h0m-.8 1.7h0m-1.2-3h0m-.8-4.1h0m-1.3 2.6h0m-.7-1.7h0m-.1 4.4h0m-1.7-1.5h0m-1.7 1.4h0m-1.3-4.1h0m-.5 1.7h0m-1.1 1.5h0m-1.7-.6h0m-1.1-1.8h0m-1.8-.1h0m-2.1 4.5h0m-3.4-1.1h0m-1.7 .5h0m-6.7 7.5h0m1.1 1.7h0m.4-6.8h0m2.5 5.1h0m2.3-2.8h0m2.3 .5h0m.7 3h0m1.3-3.7h0m1.7 1h0m.5 2h0m2.5-.1h0m.7-2.4h0m1.5 2.8h0m.7-1.8h0m1.9-2.2h0m.1-2h0m.4 6.3h0m1-1.7h0m.3-2.9h0m.4 6h0m1.4-4.5h0m0 1.9h0m.7 2.4h0m.4-6.9h0m1.3 5.9h0m.5-6.2h0m.1 3.4h0m1.5 1.1h0m1 2.2h0m1.1-6.2h0m.6 2.4h0m1.2-2.6h0m.2 4.9h0m.6-2.2h0m.8-1.9h0m.3 6.3h0m.6-3.8h0m.7 2.6h0m1-5.2h0m.5 4h0m.3-2.1h0m.7-3.2h0m1.2 4.5h0m1.7-1.8h0m.1 2.7h0m.3-5.3h0m.6 7.7h0m.8-6.6h0m.6 5.5h0m1.7 .6h0m1.4-4.9h0m.1 2.1h0m2 .9h0m.2-4.2h0m.4 6.5h0m0-4.5h0m1.1-3.1h0m3 5h0m.5-3.8h0m.1 1.9h0m.1 4h0m1.4-2h0m1.7-2.4h0m0 4h0m.3-1.9h0m1.5-1.7h0m.4 2.3h0m.3-5.6h0m1.1 3.4h0m1.2 1.9h0m1.7-.9h0m.5-2.5h0m5.8 1.3h0m1.2-1.8h0m1.4 3.8h0m3.1 1.3h0m-3.2 5.4h0m-1.7 3.8h0m-1-4.8h0m-.4 3.2h0m-2.1-.4h0m-1.3-1.9h0m-.6-2.1h0m-2.2 2h0m-.3-3.7h0m-2.2 .8h0m-.9 1.8h0m-.6 4.7h0m-.3-2.9h0m-1.4-3.1h0m-.7 4.1h0m-.8-5.2h0m-.4 3.3h0m-1.7-1.3h0m-.1 5.4h0m-.2-1.8h0m-1.8-3.1h0m-.1-2.7h0m-.1 5.4h0m-2.2-1h0m-1.4 1.4h0m-.7-3.1h0m-.3 5.2h0m-.6-7.1h0m-.5 4.5h0m-.7-1.8h0m-1.2-1.7h0m-.6 5.9h0m-1-2.1h0m-.5-2.7h0m-1.5-1.1h0m-.2 3.7h0m-1.7-4.5h0m-.1 2.5h0m-1.5-1.7h0m-.4 2.8h0m-.4 2.1h0m-1.3-5.1h0m-.3 1.9h0m-1.3 2.5h0m-.1-3.8h0m-.9 2h0m-1-3.5h0m-.1 7h0m-.7-3.8h0m-.5-1.7h0m-.7 3.3h0m-1.2-2.1h0m-.4 4.1h0m-.2-5.9h0m-.9 3.8h0m-2.1-.9h0m-.1-2.1h0m-.4 4.1h0m-1.7-4.7h0m-.1 2.1h0m0 2.1h0m-2.2-2.7h0m-.1 2.3h0m-.4-5.6h0m-.7 1.8h0m-.4 5.8h0m-.4-2.4h0m-1.5-4.8h0m-.4 2.5h0m-.6 2.5h0m-.5 1.7h0m-.4-6.2h0m-.8 2.4h0m-1.1 1.4h0m-.6 1.7h0m-.6-4.6h0m-2.8 3.8h0m-.2-4.8h0m-4.1 6.2h0m-2.1-2.9h0m-.3 2.6h0m-4.9-2.9h0m-2.2-.3h0m-2.5 7.3h0m1.9 1h0m.4 1.8h0m4.6 1.6h0m2.8-3.2h0m.8-2.2h0m2.9 .6h0m.3 5h0m.2-7.1h0m2-.3h0m.7 6.9h0m.1-5h0m1.7 2.3h0m0-3.8h0m.3 7.4h0m1.6-2.2h0m.9-3.5h0m.7 2.4h0m2.8-.3h0m.1-2.2h0m.4 4.1h0m1.5-4.6h0m.2 2.4h0m.2 3.1h0m.8-1.6h0m.9-2.6h0m1-1.8h0m.1 3.9h0m0 2.7h0m2.6-5.7h0m.3 2.2h0m1.1 2.6h0m.3-5.6h0m1.4 1.1h0m.1 3.9h0m.4 1.8h0m1.2-7h0m.3 3.3h0m.3 1.9h0m1.3-3.5h0m1.1 3.4h0m.1-2.1h0m.8-3.7h0m.6 7.2h0m1.2-3.5h0m.6 2.4h0m.7-3.8h0m.7-2.1h0m.3 3.9h0m1.5-3h0m.4 5.7h0m.1-3.2h0m1.1-3.6h0m.8 5.7h0m0 2h0m.4-4.8h0m1.8 2.1h0m.1-3.5h0m1.7 5.4h0m.9-4.3h0m1.3 1.4h0m.6-2.6h0m.8 6.2h0m.6-2h0m.4-4h0m.2-1.8h0m1.1 7.3h0m.3-3.4h0m.3-3.1h0m1.9 1.9h0m.6 1.7h0m1.7-2.1h0m.7-1.8h0m.5 3.9h0m1.6-1.9h0m5.3-1.4h0m1.7 1.5h0m.7 4h0m1.3-5.8h0m2.4 4.2h0m-5.4 4h0m-3.6-.2h0m-.4 3.9h0m-1.4-4.5h0m-5.4 6.5h0m-.5-4.9h0m-3 2.3h0m-.8-1.6h0m-.5 2.8h0m-1.4-1.1h0m-2-2.2h0m-.1 2.3h0m-1.7-3.7h0m-.1 6.7h0m-2.1-4.2h0m-.3 3.1h0m-1.9-1.6h0m-.2 2.4h0m-1.3-6.5h0m-.1 5h0m-.3-3h0m-2.3 4.7h0m-.5-3.7h0m-1.3 3.5h0m-1-4.9h0m-.9-1.7h0m0 5h0m-1.4 1.5h0m-2-.6h0m-.9-4.8h0m-.1 2.2h0m-2.2-2h0m-.4 2.3h0m-.4 2.5h0m-1.4-1.7h0m-.6-3.3h0m-.9 1.8h0m-4-.3h0m-.6-2.8h0m-.5 4.4h0m-1.4 1.7h0m-2.9-3.6h0m-.6 2h0m-3.9-1.1h0m-.8-1.6h0m-2.2-.7h0m-1.2 2.9h0m-11 4.2h0m27.6 4.8h0m1.5-1.1h0m2.1-.5h0m.1 2h0m6.2-5h0m1.1 3.1h0m1.8-3h0m1.3 5.3h0m1.1-2.7h0m.7 3.2h0m1.6-.8h0m.8-4.8h0m1.4 6.5h0m2.1-3.6h0m10.7-.3h0m7.8-3.1h0m8.4 .9h0m-15.8 10.4h0m-2.5-.5h0m-4.6 4.7h0m-17.5-5.9h0m-2 1.5h0m-.8-3.2h0m-1.6 3.7h0m17.8 4.5h0"/><path d="M172.6 255.4h0m-4.5-2.3h0m-5.4 .7h0m-1.7 .7h0m-1.1 1.4h0m-.6-1.9h0m-1.3-1.6h0m-3.7-.5h0m-2-1.4h0m-.6 4.8h0m0-2h0m-2.1 .4h0m-2.6-4.8h0m-.6 4.1h0m-2.2 .4h0m-.3-2h0m-5 1.3h0m-.6-4.3h0m-1.6 7.3h0m-1.8-.4h0m-1.3-1.3h0m-3.7 1.4h0m-.8-4.6h0m-2.2 1.1h0m-1.2 1.4h0m-1-1.6h0m-1.7 2.6h0m-4.2-.7h0m-2.1 1.2h0m-2.1 6.2h0m2.7-2.8h0m1 3.7h0m2 1.7h0m2.2-3.6h0m1.5 1.1h0m.2 2.4h0m2.4-3.2h0m.7 1.7h0m2.2-1.3h0m1.1 3h0m.1-6.2h0m1 4.5h0m.7-5.2h0m1.7 2.9h0m.4 2.7h0m.6-5.3h0m1.4 4.6h0m.2-1.9h0m1.1 3.7h0m1.2-2.5h0m.8-4.7h0m.6 2h0m.1 5.5h0m1.2-1.9h0m.1-5.3h0m1.7 2.6h0m.5 2.2h0m.4 2h0m1.3-7.2h0m.1 5.3h0m.7-3h0m1.9-1.8h0m.2 2.3h0m.1 1.9h0m1.7-4h0m.1 2h0m0 2.2h0m1.8 2h0m.2-5.1h0m2.6 2.7h0m1.1-2.7h0m1.2-1.5h0m0 3.5h0m1 3.2h0m.8-3.2h0m3.2-1.9h0m.1-1.9h0m.5 6h0m1-1.7h0m.8 1.6h0m1.3-2.1h0m1.2 3.3h0m.7-3.2h0m1.9 .3h0m2 1.2h0m.5-4.3h0m.8 3.1h0m5.5-.9h0m3 1.9h0m-1.7 10.1h0m-3.1-.9h0m-1.3-5.3h0m-.6 3h0m-2.4-3.7h0m-.5 3.8h0m-1.7-2.6h0m-.8-1.8h0m-.5 4.5h0m-.5-2.1h0m-1.5 3.2h0m-.2-1.9h0m-1.3 4.1h0m-.1-7.8h0m-.2 5.9h0m-.9-2.9h0m-.6 4.4h0m-.2-2.7h0m-1.1-3.1h0m-1.2 3.7h0m-1.1-5h0m-.8 3.6h0m-1 3.5h0m-1.6-2.3h0m-.2 1.9h0m-.1-4.7h0m-1.9 2.9h0m-.7-3.8h0m-1.7 5.8h0m-.9-2.5h0m-.8-2.5h0m-1.2-1.3h0m-.2 5.2h0m-.8-2.7h0m-1.1-3.2h0m-.5 6.6h0m-.8-1.7h0m-.4-4.3h0m-.8 5.7h0m0-3.8h0m-1.2 1.3h0m-.1-2.6h0m-1.6 3.6h0m-.9-3.2h0m-.9 3.5h0m-1.1 2.2h0m-1.1-4.9h0m-.4 3.6h0m-1.2-2.6h0m-.2-2.2h0m-1.6 5.7h0m-.7-4.9h0m-.1-2h0m-.2 4.1h0m-.9 2.1h0m-.5-3.4h0m-1 1.5h0m-.2-3h0m-1.3 4.2h0m-.6-3.7h0m-1.1 1.8h0m-1.5-1.1h0m-.2 5.2h0m-.1-7.2h0m0 4.7h0m-1.6 1.4h0m-.3-1.8h0m-.3-1.8h0m-.3-1.8h0m-1.1 4.6h0m-.4-5.6h0m-1.7 2.6h0m-.3 2.4h0m-1.1-4.7h0m-1.6 4.4h0m-.2-4.7h0m-4.1 4.8h0m-1.6-1.1h0m-.3 2.7h0m-7.4-4.1h0m.6 8.4h0m10.5-2.8h0m.5 1.8h0m1.4-1.1h0m.3 6h0m1.5-6.6h0m1.8 6.4h0m2.5-4.7h0m2 1.6h0m.1-1.8h0m1.4 5.3h0m.7-4.6h0m1.2 5.2h0m.5-3.7h0m.1-2.1h0m1.6 4.6h0m.3-3.3h0m.9-1.6h0m.1 3.3h0m1.2-1.4h0m.1 4.1h0m.8-6.7h0m.2 4.2h0m1.9-2.4h0m1 2.3h0m1.1 1.6h0m0-3.7h0m.4-1.8h0m2 5.7h0m.6-6.4h0m.1 2.1h0m.3 2.5h0m1.5-3.1h0m.8-1.8h0m.2 4.3h0m1.3 1.4h0m.3-5.2h0m1.4 2h0m.6 2.4h0m.7-3.6h0m.3 2h0m.1 4.2h0m1-7.4h0m.1 4.6h0m.8-1.6h0m.8 3.6h0m.7-5.4h0m.4 3.5h0m.6-1.9h0m1.1-3h0m.1 6.2h0m.5-1.9h0m1.5-2.3h0m.4 2.3h0m1.8 2.4h0m1.5-3.6h0m.8-2.2h0m.3 6.1h0m2.6-2.5h0m.6-1.9h0m2.8 2.3h0m.4-4.4h0m1.5 6.5h0m1.3-4.4h0m6.1-1h0m5.3 3.6h0m-6.5 4.3h0m-5.8-.4h0m-5.9-1h0m-.1 2.2h0m0 5.2h0m-3.6-5.9h0m-3.1-.8h0m-.4 2.2h0m-1.9-1.6h0m-1.6-1.5h0m-.3 2.9h0m-1.4 1.3h0m-.4-2.1h0m-3.3-1.2h0m-2.2 5.7h0m-.6-4.3h0m-2.5-.4h0m-1.1 4.3h0m-2-5.9h0m-.1 6.4h0m-.6-1.7h0m-1.5-3.4h0m-2.5 1.6h0m-.3 2.1h0m0 2.2h0m-1.8-5.5h0m-2.4 1.3h0m-3.5 3.9h0m-.9-3.8h0m-1.4 3.7h0m-.5-4.8h0m-2 2h0m-.4-2.9h0m-3.1 .7h0m-2.2-.5h0m14 12h0m4.5-2.3h0m5.6-1.1h0m1.5-1.3h0m.4 2h0m3 3.3h0m1.9-5.1h0m.2 4.8h0m.4-1.9h0m-11.7 6h0m-1.2-1.5h0m-.4 2.5h0"/><path d="M147.6 247.7h0m19.3 6.6h0m-7.1-.5h0m-2.2 1.1h0m-1.9-2.8h0m-3.1 2.4h0m-.1-4h0m-1.4 1.6h0m-5.4 2h0m-1.4-1.4h0m-1.5-1.6h0m-4.3 1.5h0m-2.1 3.1h0m-2.8-2h0m-2.7 1h0m-2.9-3.3h0m-.8 1.9h0m-9 1.3h0m-2.9 7h0m.9-2.9h0m.8 5h0m3.2 .1h0m1.7-2.3h0m.9-1.6h0m1 3h0m2.1-4.2h0m.7 2.1h0m.1 1.8h0m2-.7h0m.4-4.8h0m1.6 5.5h0m.6-3.5h0m1-2h0m1.4 2.1h0m.1 4.1h0m1-2.6h0m1.5 3.2h0m.4-5h0m1.5 1.6h0m1.5 1.4h0m.3-1.8h0m.7-4h0m1.3 6.7h0m0-4.7h0m.5 2.7h0m1.8-4h0m.2 6.8h0m.6-3.2h0m.7-2.6h0m.8 4.6h0m1.1-3.9h0m0 2.4h0m1.5 2.9h0m.4-7.8h0m.6 4.2h0m.8-2.4h0m1.3 5.5h0m.4-6.5h0m0 2.2h0m3.9 1h0m1 1.7h0m.7-3.8h0m4.2 2.2h0m.5-2.3h0m1.1 5.3h0m.6-1.8h0m2.5 1.8h0m1-2.9h0m2.3 1.1h0m2.3-.1h0m1.7 7.4h0m-4.8-.8h0m-.7-2.8h0m-.6 4.2h0m-2.6-4.7h0m-.4 5.1h0m-1.3-2.2h0m-.7 2.1h0m-4.6 1.4h0m-.7-5.3h0m-.9 3.5h0m-.6 2h0m-.3-5.5h0m-.8 2.6h0m-1.2-1.4h0m-.6 2.4h0m-.6 2.7h0m0-6.4h0m-1.4 2.9h0m-.7-2.9h0m-.6 5.1h0m-.6-2.4h0m-.8-2.4h0m-.4 4.2h0m-1-3h0m-.1-2.6h0m-1.7 7.3h0m-1.2-4.7h0m-.2 2h0m-.9-3.6h0m-.8 2.5h0m-1.1 3.2h0m-.4-5.9h0m-1.5 5.7h0m-.5-1.7h0m-.7-1.9h0m-1.1-1.6h0m-.2 5.3h0m-.3-2.9h0m-1.9-2.1h0m-.4 4.9h0m-.7-2.8h0m-.8-1.8h0m-1.8 1.6h0m-.1-3.5h0m-.8 5.7h0m-1.2-3.8h0m-1.5 3h0m-.7-4.6h0m0 2.3h0m-.8 3.6h0m-1.3-4.9h0m-.4 3.4h0m-1.6 1.3h0m-.2-2h0m-1.2-2.7h0m-3.8 5.4h0m-.9-1.7h0m-2.3 2.2h0m-1.1-1.7h0m-2.5 1.9h0m-7 2.8h0m10.4-.1h0m2.5 4.6h0m.1-5.8h0m3.2-.9h0m1.8 6.6h0m1.9-4.8h0m1.7 3h0m.8-2.3h0m2 2.9h0m.1-2.3h0m.6-2.5h0m1.5 3h0m1 3.1h0m.5-5.6h0m.8 4.1h0m1.3-1.5h0m2.2-2.4h0m.5 4.1h0m1.4-4.8h0m.6 2.5h0m.7 4.4h0m0-2.1h0m.8-4.7h0m.4 3.3h0m1.3-2.4h0m.4 3.5h0m1.3-5.4h0m.5 5.6h0m1.7-1.9h0m1.3 3.4h0m.4-5.1h0m1 3.1h0m1.3 1.4h0m.8-4.9h0m1 2.1h0m.8 3h0m1.6-4.3h0m1.7 3h0m1.8-3.1h0m1.7 4.7h0m.4-5.8h0m2.2 .3h0m1.3 1.9h0m.6-3.3h0m.1 5h0m1.4-1.4h0m.1-2.8h0m3.2 1.6h0m8.3-1.3h0m3.5-1h0m-10.6 8.9h0m-5.5 1.5h0m-.7 4.5h0m-.3-6.7h0m-4.1 1.9h0m-3.7-1.4h0m-.7 1.7h0m-2.6 .6h0m-.8-1.6h0m-2.8-1.2h0m-2.5 6.3h0m-1.9-4.5h0m-.5 3.5h0m-3.3 1.6h0m-.2-2.1h0m-2 1.7h0m-1.7-4.5h0m-.2-1.8h0m-1.6 2.5h0m-1.4 2.4h0m-3.1-3.5h0m-1.5-1.7h0m-2 2.7h0m-.5 4.2h0m-4.7-4.6h0m-3.1-1.1h0m-1.7 1h0m16.6 7.7h0m1.6 1.1h0m6.6-1.9h0m3.9 6.2h0m-9.5 1h0"/><path d="M158.5 255.7h0m-5.3-5h0m-.4 3h0m-9.1-1h0m-6.1-.5h0m-.1 2.8h0m-3.2-1.6h0m-7.4-.7h0m-9 1.4h0m-1.4 5h0m3.9 4.3h0m2.7-1.9h0m2.8 2.2h0m2.3-3.1h0m.7 1.7h0m.2-4.9h0m1.8 5h0m.3-5.3h0m1.6 2.9h0m.3-3.6h0m.4 5.5h0m1.7 1.3h0m.1-6.4h0m.6 4.4h0m.3-2.7h0m1.4 1.7h0m.7 2h0m1.6-2.1h0m.7 3.3h0m1-2h0m.6-4.7h0m.2 2.9h0m1.1 3.7h0m1.2-4.9h0m.6 2.9h0m1.2-1.7h0m.2-1.9h0m.4 4.7h0m1.4-5.4h0m.9 2.7h0m.9-3.4h0m.3 5.3h0m2-4.7h0m.8 5.8h0m3.2-2.7h0m.9-1.9h0m1 5.8h0m.6-4.8h0m4.1-.2h0m.8 3.4h0m5.8-1.7h0m1.8 1.2h0m1.2-1.7h0m1.6 1.2h0m5.4 10.5h0m-10.3-6.5h0m-.3 4.4h0m-1.5-1h0m-.9-4h0m-1.9 1.7h0m-.1-2.1h0m-.6 5h0m-6 1.3h0m-.4-4.4h0m-1 2.6h0m-1.3 2.5h0m-.3-3.5h0m-.5-1.7h0m-.9 3.2h0m-.9-3.3h0m-.1 5.8h0m-.7-7.8h0m-1 1.9h0m-.4 4.4h0m-1.6-2.5h0m-.6 3.8h0m-.5-6.9h0m-.8 3.5h0m-1-1.5h0m-1-2.5h0m-.3 7.3h0m-.6-2.3h0m-.2-2h0m-1.1 3.8h0m-.8-6h0m-.2 3.3h0m-.8 1.9h0m-.6-3.6h0m-1.5 1.1h0m-.5 2.3h0m-.3 1.8h0m-.7-5.7h0m-1.1 4.5h0m-1.4-2.3h0m-.7-2.9h0m-.9 1.7h0m-1.7-2.5h0m-.2 6.7h0m-.9-3h0m-.6 1.7h0m-.1-4.1h0m-1.9 1.4h0m-.2 2.2h0m-.8-4.2h0m-.7 5.6h0m-1.1-2.2h0m-1.1 2.4h0m-.3-6.5h0m-.9 4.8h0m-3.4-4.3h0m-2.8 6.2h0m-1.8 .3h0m-1.9-1.5h0m.7 4.7h0m2.1-1.3h0m1.3 5.8h0m1.2-7.2h0m3.3 7.6h0m2-4.2h0m2.1 2.6h0m1.5 1.6h0m1-2.3h0m.3-4.3h0m.6 2.4h0m2 .9h0m.6 2.7h0m.5-4.6h0m.9-1.9h0m0 5.4h0m.4-2.1h0m1.7 2.4h0m.6-3.7h0m2.2-1h0m.3 5h0m0-2.1h0m1.7-4.5h0m.8 6.5h0m.1-4.8h0m1.9-.4h0m.6 3.1h0m.5 1.8h0m2.5-.8h0m.3-4h0m1.7 1.6h0m0 2.2h0m1.1 2.7h0m1.2-4.5h0m.2-2.5h0m.6 5.3h0m1.9-4.6h0m3.1 1.7h0m1.7-2.3h0m.4 5.1h0m2.6-3.7h0m1.9 2.3h0m.4-2.2h0m1.9-1.8h0m2.7 7.9h0m-12.2-.6h0m-.4 2h0m-3.4-1.4h0m-.9 2.9h0m-7.3-.4h0m-.4 3h0m-3.8 .3h0m-.4-6.2h0m-1.6 1.1h0m-1.8-.6h0m-.7 2.2h0m-1.5 1.4h0m-11.8-.7h0m12.2 7.1h0m4.9-2.3h0m2.4-.2h0m.9 2.6h0m2.9 4.4h0"/><path d="M138.6 252.9h0m-7.8 3h0m-10.9 7.4h0m6 .3h0m3.5-2.4h0m1.2-3.4h0m1.8-1.1h0m1.2 6.6h0m1.4-1.4h0m.6 1.7h0m.7-6.7h0m1.1 4.4h0m1.7-1.9h0m1.3 2.3h0m1-4.9h0m.9 4.7h0m.3-2.1h0m2.2 .2h0m0 3.6h0m1.3-1.5h0m0-4.8h0m1.2 2.5h0m.7 3.3h0m.6-6.7h0m.8 3.6h0m.5-2h0m1 5.4h0m1.5-1h0m2.9-1.5h0m1.8-1.6h0m1 3.4h0m5 1.4h0m1.3-2.7h0m.6 2.9h0m3.7-2.9h0m.8-1.8h0m1.5 3.2h0m.8-1.8h0m-2.6 4.3h0m-.3 3.7h0m-1.6-4.1h0m-1.1 7.1h0m-.3-2.5h0m-1.3 1.3h0m-.7-4.7h0m-.2 3.1h0m-6.3-.7h0m-.3 2.1h0m-.3-5h0m-1.1 1.8h0m-1.3 1.4h0m-.2 1.8h0m-.6 1.7h0m-.2-5.5h0m-1-1.9h0m-.4 6.1h0m-1.8-1.7h0m-.9 2.8h0m-.8-5.5h0m-2.5 5.3h0m-.1-6.9h0m-.2 1.9h0m-1.5 1.5h0m-.1 3h0m-1-5.5h0m-1.2 3.1h0m-.2 1.8h0m-1.5-6.2h0m-.4 6h0m-.4-3.2h0m-.8 1.6h0m-1.2-3.1h0m-.8 4.6h0m-2.8-4.3h0m0 3.2h0m-2-1.5h0m-.4-2.9h0m-1.1 3.9h0m-.8-1.8h0m-2.2-1.5h0m-.4 3.1h0m-.1 2.1h0m-1.7 1.3h0m-.4-2.4h0m-1.7-.5h0m0 1.9h0m-5.5 .5h0m-1.6 2.8h0m2.2-1h0m4.9 1h0m5.2 5.9h0m.4-7.2h0m.1 4.9h0m1.6-2.9h0m1.4 2.1h0m.9-2.9h0m.7 2h0m0 2.9h0m1.5-5.7h0m1.4 2h0m1 3.2h0m.2-6.2h0m1.1 2.7h0m2-2.6h0m.7 2.3h0m.7 2.5h0m2.3-3.6h0m.7 4.7h0m.7-3.6h0m2.1 4.2h0m.1-5.7h0m1.2 3.8h0m.7-1.8h0m1.4-2.6h0m.4 6h0m.4-1.8h0m.3-2.7h0m1.1 4.5h0m3.5-4h0m1.6-2.2h0m0 5.6h0m.8-3.6h0m.8 4.8h0m19.4-7h0m-23.7 8.4h0m-3.4 .2h0m-1 3.3h0m-.5-1.9h0m-6.2 4h0m-.7-3.4h0m-1.6 3.9h0m-2.9-1.5h0m-.5-3.7h0m-.8 5.4h0m-1.2-6.5h0m-.7 1.8h0m-14.8 1.3h0m20.2 7h0m1.1-1.7h0"/><path d="M150 255.8h0m-11.4-2.6h0m-7.2 2.2h0m-4.2 7.5h0m.8-2.3h0m2.5 .3h0m.1 2.2h0m.2-5.9h0m5.2 5.3h0m1.3-2.8h0m1.8 1.9h0m1.1-1.9h0m1-2.9h0m1 5.4h0m.1-2.1h0m.7-2.8h0m1.5 4.5h0m.6-3.5h0m1.2 3.9h0m1.3-3.1h0m.7-2.1h0m.1 5.1h0m1.4-1.5h0m.1-2.1h0m6.4 1.2h0m7.3 1.3h0m1.2 1.8h0m1.7 .8h0m2.9-2.4h0m1.5-1.3h0m1.3 1.2h0m-1.6 4h0m-1.1 3.5h0m-4.5-3.8h0m-.3 2.1h0m-1.2 2.8h0m-5.6-1.5h0m-.3-3.9h0m-.5 7h0m-.2-4.9h0m-1.4 1.8h0m-1.8-1.9h0m-.7 2.3h0m-.1-4.2h0m-.8 6.7h0m-1.7-3.2h0m-.9 2.8h0m-1-3.1h0m-.2-3h0m-2.7 6.5h0m-.1-4.1h0m-.4-2h0m-1.5 3.3h0m-1-3.5h0m-1.1 2.4h0m-.6 4h0m-.1-1.9h0m-.8-4.6h0m-1.5 3.7h0m-1.2-1.8h0m-.1 4.2h0m-.5-2h0m-1-3.6h0m-1.1 1.4h0m-.4 1.8h0m-2.1-4.3h0m-.9 4.6h0m-1.2-1.5h0m-.7 2.5h0m-.3-4.9h0m-2.2 3.6h0m-.3 1.9h0m-2-.7h0m-4.3-4.8h0m-2.2 6.7h0m-3 1h0m2.1 2h0m12.2 1.3h0m.5 2.4h0m.6-3.8h0m.9 1.8h0m1.7 1.2h0m.5-2.3h0m3.7 .1h0m.3-2.4h0m1.4 2.9h0m.7-2.6h0m3.9-.6h0m1.1 5.1h0m2.1-2.5h0m.9-2.2h0m.8 1.6h0m2.2 2.6h0m.2 2.2h0m.3-6.1h0m.5 2.2h0m1.3 2.9h0m.3-4h0m.9-2.1h0m2.2 2.2h0m2.4-1.9h0m.7 7h0m-3.3 1.2h0m-3.6 2.7h0m-1.6-1.9h0m-6.3 1.7h0m-.7 3.1h0m-2.6 1.4h0m-.9-2h0m-2.8-3h0m-.1-1.9h0m-1.8-.5h0m-.6 2.1h0m-6.7-2.1h0"/><path d="M128.2 261.5h0m1.4-4.7h0m.2 3.9h0m.1 1.8h0m2.2 .4h0m3.7-.6h0m2-2.4h0m.8 2.3h0m2-5.5h0m1.2 1.6h0m1.7 2.3h0m.3-2.4h0m1.3 3.3h0m1.7 2.1h0m.7-1.7h0m.8-4.1h0m1.5 3.9h0m2.5 2h0m4.4-3.7h0m.2 3.3h0m5.9-1.6h0m1.1 2h0m.7-2.9h0m1 1.9h0m5.7-2.8h0m1.4 1.8h0m-3.8 6.9h0m-10.7 .7h0m-.6-3.4h0m-1.6 1.5h0m-.2 3.8h0m-1-2h0m-1 2.6h0m-.6-5.4h0m-1.2 4.6h0m-.6-5.7h0m-1 4.9h0m-.9-2h0m-1-2.2h0m-3.5 1.1h0m-.3 2.9h0m-.8-5.9h0m-.6 4.7h0m-.5 2.8h0m-.9-6.7h0m-.5 2.4h0m-.9 3.8h0m-1.1-4.8h0m-.2 2.9h0m-1.2-4.1h0m-.2 2.2h0m0 3h0m-1.4-6h0m-2.1 1.2h0m-3.6-1.4h0m-.1 5.1h0m-.4-3.4h0m-1 2.2h0m-1.4-2.3h0m-3.2 3.9h0m-5.9 3h0m11.9 4.6h0m.1-1.8h0m2-1.8h0m1.9 1.2h0m2 5.1h0m.2-4.8h0m.9-1.6h0m1.2-1.4h0m.1 3.7h0m1.8-2.7h0m7.6-.1h0m1.5 1.8h0m1.6 2.3h0m.9 1.9h0m.1-5.9h0m3.9 2.9h0m1.3-1.3h0m1.2 3.2h0m-3.2 3.2h0m-3.6 .8h0m-13.7-.8h0m-2.1 .6h0m-7.6-1.1h0"/><path d="M131.3 257.1h0m1 5.6h0m3.8-1.3h0m2.5-.6h0m4.3-1.6h0m.1 2.8h0m3.3-1.1h0m.2 2.1h0m2.1-6h0m1.2 3.3h0m6.8 .8h0m6.8 1.1h0m1.8-.5h0m1.1 2.1h0m7.2-3.4h0m-4.9 8.4h0m-12.5-.6h0m-1.8-2.7h0m-.6 2.9h0m-1.1-2.4h0m-.3 5.7h0m-.2-2.1h0m-2.9 2h0m-.1-2.8h0m0-2.1h0m-2-1.2h0m-2.5 5.7h0m-.5-3.1h0m-.5-2.8h0m-.9 6.4h0m-.6-4.2h0m-.3-2.7h0m-.5 5.5h0m-2.3-4.6h0m-1.5 3.1h0m-.1 1.8h0m-.1-4h0m-1.7-2.6h0m-.3 2.1h0m-3.8-1.8h0m-.2 3.3h0m-1.4 2h0m-1.4-1.3h0m-4.4 2.2h0m6.5 4.5h0m1.4 3.1h0m.8-4.1h0m3.2-.4h0m3 2.8h0m.2-3.9h0m1.7 1.4h0m6.6-.4h0m1.6 2.3h0m1.4 2.1h0m.1-4.3h0m1.9 4.4h0m.1-3.6h0m4.5 .9h0m-1 6.3h0m-4.6-.2h0m-15.2-1.2h0m-8.3-.2h0"/><path d="M139.2 261.1h0m2.9 .4h0m1.3-2.5h0m4.6 1.5h0m9.3 2.2h0m6.1 .3h0m1.7 .9h0m2-.9h0m5.3-1.7h0m-15.5 7.6h0m-2.3-.4h0m-2.2-2.3h0m-.6 3.6h0m-2.1-1.1h0m-.3-3h0m-1.8-1.2h0m-.1 2.9h0m-1.5-1.3h0m-2.5 1.1h0m-.5 1.7h0m-.7-3.1h0m-2 3.6h0m-1.7 1.6h0m-1.7-5.9h0m-7.2 2.8h0m-.6 1.7h0m1.6 7.9h0m.5-2.3h0m6.3-.8h0m6.3-2.4h0m3 1.2h0m3.3 .2h0m1.8 .2h0m.6 5.5h0m.6-6.9h0m3.1 3.2h0m-1.3 5.3h0"/><path d="M138.1 261.1h0m4.6 .7h0m5.3 1.5h0m15.9-.6h0m-8 5.9h0m-2.7 .1h0m-.2 3.1h0m-.9-1.7h0m-.7-5h0m-2.1 3h0m-5.6-.7h0m-1.3 1.8h0m-.4-2.8h0m-1.7 2.5h0m-1.7 1h0m-8-2.9h0m.6 7h0m.2 3.4h0m6.2-3.2h0m1.4-1.8h0m8 0h0m2.2 1h0m2.6 .1h0"/><path d="M155.7 269.4h0m-2.3-.6h0m-.6 2h0m-.5-5.7h0m-2.5 2.7h0m-2.3 4h0m-2.8-3.9h0m-13.6 10h0m5.3-3h0m14.5-1.5h0m2.4-.8h0"/><path d="M154.8 268.4h0m-2-3.5h0m-2.3 2.8h0m-1.1 1.8h0m-4.7-3.3h0m-8.5 8.8h0m12-2.5h0m1.1 1.4h0m4.1-1.9h0"/><path d="M155.3 268.3h0m-2.6 2.4h0m-3.1-1.8h0m-2.2 3.9h0m5.4 .4h0"/></g>
<line x1="72.6" y1="482.7" x2="457.9" y2="91.8" stroke="#ee3036" stroke-width="1.35"/>
<line x1="457.9" y1="91.8" x2="475.9" y2="73.5" stroke="#ee3036" stroke-opacity="0.55" stroke-width="1.25"/>
<path d="M68.8 486.6L70.6 484.8M70.6 484.8L71.2 484.1M71.2 484.1L72.7 482.6M476.5 72.9L478.6 70.8M482.7 66.6L484.1 65.2M484.1 65.2L486.2 63.0M486.2 63.0L488.0 61.2M488.0 61.2L490.6 58.6M493.7 55.4L496.2 52.9" stroke="#ee3036" stroke-opacity="0.45" stroke-width="1.1" fill="none"/>
<polyline points="66.0,259.2 76.1,264.7 77.5,265.2 82.1,267.9 84.8,268.8 87.6,267.9 90.3,269.8 94.0,272.1 96.8,272.5 99.5,273.0 102.3,271.1 106.0,269.3 108.7,271.1 111.4,272.0 113.7,269.7 115.1,272.9 118.8,270.2 123.4,268.3 128.0,267.9 131.7,269.2 133.5,270.2 136.3,269.7 139.5,272.0 142.7,272.5 146.4,272.9 149.1,274.3 151.4,277.0 155.5,274.5 158.3,276.3 162.0,274.0 166.5,271.3 170.0,269.3 173.7,267.1 176.6,268.4 179.6,267.1 183.2,264.9 186.9,262.3 190.0,258.3 192.5,257.5 197.0,260.0 200.0,258.5 203.0,254.0 205.6,248.9 208.3,247.1 211.6,246.5 216.0,246.2 218.2,245.4 221.5,241.5 224.9,237.1 228.2,232.2 231.5,227.2 234.3,221.5 237.7,216.0 242.1,211.1 245.0,207.4 250.5,203.2 256.0,198.8 261.5,194.7 267.1,190.5 272.6,186.5 279.7,181.2 287.1,177.0 292.9,173.5 298.8,169.5 304.7,164.3 313.5,156.8 320.9,149.4 328.2,141.3 335.6,134.0 342.9,125.9 347.4,120.3 352.4,113.5 359.7,106.5 367.1,100.3 371.5,97.4 374.4,95.9 378.8,94.4 383.2,93.3 389.0,92.8 394.5,92.6 399.0,91.5 401.2,90.7 403.2,88.7 409.1,82.1 413.5,78.5 416.5,76.5 420.0,76.0 425.0,73.5 431.5,69.7 443.1,65.1 451.4,63.9 459.7,63.1 468.0,62.8 476.2,63.1 484.5,63.6 492.7,64.4" fill="none" stroke="#2170c4" stroke-width="1.85" stroke-linejoin="round" stroke-linecap="butt"/>
<polyline points="66.4,274.7 74.7,266.1 77.5,265.2 82.1,267.9 84.8,268.8 87.6,267.9 90.3,269.8 94.0,272.1 96.8,272.5 99.5,273.0 102.3,271.1 106.0,269.3 108.7,271.1 111.4,272.0 113.7,269.7 115.1,272.9 118.8,270.2 123.4,268.3 128.0,267.9 131.7,269.2 133.5,270.2 136.3,269.7 139.5,272.0 142.7,272.5 146.4,272.9 149.1,274.3 151.4,277.0 155.5,274.5 158.3,276.3 162.0,274.0 166.5,271.3 170.0,269.3 173.7,267.1 176.6,268.4 179.6,267.1 183.2,264.9 186.9,262.3 189.9,258.6 192.4,254.9 194.3,260.1 196.5,259.0 199.4,256.8 203.1,253.5 206.8,250.1 209.5,246.5 212.1,244.3 214.8,243.4 217.6,242.5 221.5,238.2 224.9,234.4 228.2,230.0 230.9,226.7 233.8,222.7 238.4,217.6 243.0,212.6 247.6,208.4 252.2,204.3 256.8,200.6 261.4,196.5 266.0,192.8 270.0,189.1 272.4,186.2 279.7,181.0 287.1,176.6 290.5,172.4 292.9,174.1 298.8,169.3 304.7,164.1 307.6,161.9 313.5,156.8 320.9,149.4 328.2,141.3 335.6,134.0 342.9,125.9 347.4,121.0 352.4,115.4 359.7,108.4 367.1,102.5 370.7,98.1 374.4,96.3 378.1,95.1 380.8,92.9 383.5,91.2 385.2,91.2 386.8,96.2 389.0,94.5 392.3,91.8 394.5,93.7 396.8,92.3 400.1,89.6 402.3,89.3 405.0,86.8 408.0,84.1 412.0,79.8 416.5,76.1 420.2,77.5 423.9,74.8 427.6,72.0 431.7,68.8 436.3,70.6 440.4,67.0 445.0,63.3 448.1,61.5 451.4,63.9 455.5,60.6 458.0,65.6 461.3,62.3 464.6,61.5 468.8,59.0 472.9,61.5 476.2,59.0 484.5,51.5 492.7,43.0" fill="none" stroke="#d0a021" stroke-width="1.85" stroke-linejoin="round" stroke-linecap="butt"/>
<line x1="70.4" y1="280.5" x2="197.9" y2="280.5" stroke="#000" stroke-width="1.4"/>
<polygon points="66.4,280.5 72.8,277.3 72.8,283.7" fill="#000"/>
<polygon points="201.9,280.5 195.5,283.7 195.5,277.3" fill="#000"/>
<line x1="202.5" y1="260.2" x2="202.5" y2="275.1" stroke="#000" stroke-width="1.4"/>
<polygon points="202.5,256.2 205.7,262.6 199.3,262.6" fill="#000"/>
<polygon points="202.5,279.1 199.3,272.7 205.7,272.7" fill="#000"/>
<line x1="70.4" y1="489.4" x2="197.9" y2="489.4" stroke="#000" stroke-width="1.4"/>
<polygon points="66.1,489.4 72.5,486.2 72.5,492.6" fill="#000"/>
<polygon points="201.9,489.4 195.5,492.6 195.5,486.2" fill="#000"/>
<line x1="202.3" y1="357.2" x2="202.3" y2="484.4" stroke="#000" stroke-width="1.4"/>
<polygon points="202.3,353.2 205.5,359.6 199.1,359.6" fill="#000"/>
<polygon points="202.3,488.4 199.1,482.0 205.5,482.0" fill="#000"/>
<path d="M227,423.7 C305.5,419.7 319,274.8 223,267.4" fill="none" stroke="#8f8f8f" stroke-width="1.55" stroke-dasharray="6.4,5"/>
<polygon points="222.9,267.4 234.8,263.6 233.8,273.5" fill="#a3a3a3"/>
<text x="145.6" y="482.6" font-size="11.2" text-anchor="middle" fill="#000" stroke="#000" stroke-width=".12">a</text>
<text x="189.4" y="438.8" font-size="11.2" text-anchor="middle" fill="#000" stroke="#000" stroke-width=".12">a</text>
<text x="138.1" y="291.6" font-size="11.2" text-anchor="middle" fill="#000" stroke="#000" stroke-width=".12">a</text>
<text x="212.6" y="273.9" font-size="11.2" text-anchor="middle" fill="#000" stroke="#000" stroke-width=".12">c</text>
<text x="302.4" y="350" font-size="11.2" text-anchor="middle" fill="#000" stroke="#000" stroke-width=".12">b</text>
<line x1="356.4" y1="435.4" x2="369.8" y2="435.4" stroke="#1f6fc6" stroke-width="1.5"/>
<circle cx="378.5" cy="413.9" r="2.2" fill="#e8302e"/>
<text x="389.5" y="417.4" font-size="10.5" fill="#1a1a1a" stroke="#1a1a1a">2017 400 kHz (shift)</text>
<circle cx="378.5" cy="435.5" r="2.2" fill="#2a73d0"/>
<text x="389.5" y="439.0" font-size="10.5" fill="#1a1a1a" stroke="#1a1a1a">2016 400 kHz (target)</text>
<circle cx="378.5" cy="456.7" r="2.2" fill="#d19a1a"/>
<text x="389.5" y="460.2" font-size="10.5" fill="#1a1a1a" stroke="#1a1a1a">2017 400 kHz (BRT corrected)</text>
<rect x="45.5" y="10.5" width="493.0" height="500.0" fill="none" stroke="#b8b8b8" stroke-width="1.2"/>
<text x="146.0" y="524.8" font-size="10.4" text-anchor="middle" fill="#363636" stroke="#363636" stroke-width=".25">-40</text>
<text x="39.3" y="412.7" font-size="10.4" text-anchor="end" fill="#363636" stroke="#363636" stroke-width=".25">-40</text>
<text x="258.3" y="524.8" font-size="10.4" text-anchor="middle" fill="#363636" stroke="#363636" stroke-width=".25">-30</text>
<text x="39.3" y="298.7" font-size="10.4" text-anchor="end" fill="#363636" stroke="#363636" stroke-width=".25">-30</text>
<text x="370.6" y="524.8" font-size="10.4" text-anchor="middle" fill="#363636" stroke="#363636" stroke-width=".25">-20</text>
<text x="39.3" y="184.8" font-size="10.4" text-anchor="end" fill="#363636" stroke="#363636" stroke-width=".25">-20</text>
<text x="482.9" y="524.8" font-size="10.4" text-anchor="middle" fill="#363636" stroke="#363636" stroke-width=".25">-10</text>
<text x="39.3" y="70.8" font-size="10.4" text-anchor="end" fill="#363636" stroke="#363636" stroke-width=".25">-10</text>
<text x="302.5" y="542.4" font-size="12.85" text-anchor="middle" fill="#000" stroke="#000">Bedford Basin 2017 400 kHz backscatter (dB)</text>
<text transform="translate(15.7,240) rotate(-90)" font-size="12.7" text-anchor="middle" fill="#000" stroke="#000">Backscatter (dB)</text>
</svg></body></html>
